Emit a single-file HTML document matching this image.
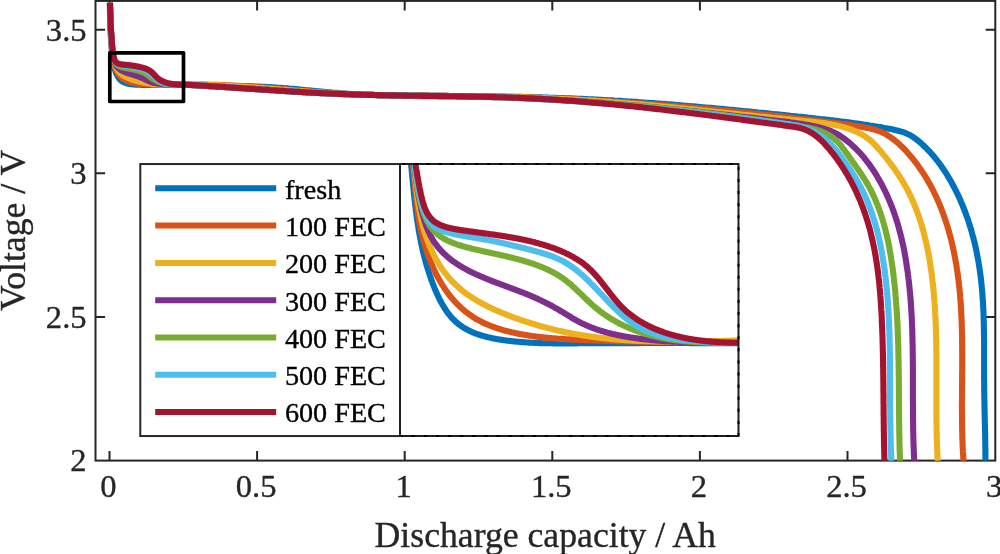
<!DOCTYPE html>
<html lang="en"><head><meta charset="utf-8"><title>Discharge curves</title>
<style>html,body{margin:0;padding:0;background:#fff;overflow:hidden}svg{display:block}</style>
</head><body>
<svg width="1000" height="554" viewBox="0 0 1000 554">
<defs><clipPath id="cm"><rect x="95.5" y="0" width="899.8" height="460.7"/></clipPath>
<clipPath id="ci"><rect x="400.0" y="164.1" width="338.5" height="272.0"/></clipPath></defs>
<rect width="1000" height="554" fill="#fff"/>
<g stroke="#262626" stroke-width="2" fill="none">
<rect x="95.5" y="0.9" width="899.8" height="459.7"/>
<path d="M109.5 460.6v-9.6M109.5 0.9v9.6"/>
<path d="M257.1 460.6v-9.6M257.1 0.9v9.6"/>
<path d="M404.7 460.6v-9.6M404.7 0.9v9.6"/>
<path d="M552.3 460.6v-9.6M552.3 0.9v9.6"/>
<path d="M699.9 460.6v-9.6M699.9 0.9v9.6"/>
<path d="M847.5 460.6v-9.6M847.5 0.9v9.6"/>
<path d="M95.5 316.9h9.6M995.3 316.9h-9.6"/>
<path d="M95.5 173.3h9.6M995.3 173.3h-9.6"/>
<path d="M95.5 29.7h9.6M995.3 29.7h-9.6"/>
</g>
<g clip-path="url(#cm)" fill="none" stroke-width="6.10" stroke-linejoin="round" stroke-linecap="butt">
<path d="M109.8 2.8 L110.2 25.0 L111.2 43.0 L111.9 52.8 L112.0 52.9 L112.0 53.1 L112.0 53.3 L112.0 53.4 L112.0 53.6 L112.0 53.8 L112.1 53.9 L112.1 54.1 L112.1 54.2 L112.1 54.4 L112.1 54.6 L112.2 54.7 L112.2 54.9 L112.2 55.1 L112.2 55.2 L112.2 55.4 L112.2 55.5 L112.3 55.7 L112.3 55.9 L112.3 56.0 L112.3 56.2 L112.3 56.3 L112.4 56.5 L112.4 56.7 L112.4 56.8 L112.4 57.0 L112.4 57.2 L112.5 57.3 L112.5 57.5 L112.5 57.6 L112.5 57.8 L112.5 58.0 L112.6 58.1 L112.6 58.3 L112.6 58.5 L112.6 58.6 L112.6 58.8 L112.7 58.9 L112.7 59.1 L112.7 59.3 L112.7 59.4 L112.8 59.6 L112.8 59.7 L112.8 59.9 L112.8 60.1 L112.8 60.2 L112.9 60.4 L112.9 60.6 L112.9 60.7 L112.9 60.9 L113.0 61.0 L113.0 61.2 L113.0 61.4 L113.0 61.5 L113.1 61.7 L113.1 61.8 L113.1 62.0 L113.2 62.2 L113.2 62.3 L113.2 62.5 L113.2 62.6 L113.3 62.8 L113.3 63.0 L113.3 63.1 L113.3 63.3 L113.4 63.4 L113.4 63.6 L113.4 63.8 L113.5 63.9 L113.5 64.1 L113.5 64.2 L113.6 64.4 L113.6 64.6 L113.6 64.7 L113.7 64.9 L113.7 65.0 L113.7 65.2 L113.8 65.4 L113.8 65.5 L113.8 65.7 L113.9 65.8 L113.9 66.0 L113.9 66.1 L114.0 66.3 L114.0 66.5 L114.1 66.6 L114.1 66.8 L114.1 66.9 L114.2 67.1 L114.2 67.3 L114.3 67.4 L114.3 67.6 L114.3 67.7 L114.4 67.9 L114.4 68.0 L114.5 68.2 L114.5 68.4 L114.6 68.5 L114.6 68.7 L114.7 68.8 L114.7 69.0 L114.8 69.1 L114.8 69.3 L114.8 69.5 L114.9 69.6 L114.9 69.8 L115.0 69.9 L115.1 70.1 L115.1 70.2 L115.2 70.4 L115.2 70.6 L115.3 70.7 L115.3 70.9 L115.4 71.0 L115.4 71.2 L115.5 71.3 L115.5 71.5 L115.6 71.7 L115.7 71.8 L115.7 72.0 L115.8 72.1 L115.8 72.3 L115.9 72.4 L116.0 72.6 L116.0 72.7 L116.1 72.9 L116.2 73.1 L116.2 73.2 L116.3 73.4 L116.4 73.5 L116.4 73.7 L116.5 73.8 L116.6 74.0 L116.7 74.1 L116.7 74.3 L116.8 74.5 L116.9 74.6 L117.0 74.8 L117.0 74.9 L117.1 75.1 L117.2 75.2 L117.3 75.4 L117.3 75.5 L117.4 75.7 L117.5 75.9 L117.6 76.0 L117.7 76.2 L117.8 76.3 L117.8 76.5 L117.9 76.6 L118.0 76.8 L118.1 76.9 L118.2 77.1 L118.3 77.2 L118.4 77.4 L118.5 77.5 L118.6 77.7 L118.7 77.8 L118.8 77.9 L118.9 78.1 L119.0 78.2 L119.1 78.4 L119.2 78.5 L119.3 78.6 L119.4 78.8 L119.5 78.9 L119.6 79.1 L119.8 79.2 L119.9 79.3 L120.0 79.5 L120.1 79.6 L120.2 79.7 L120.3 79.8 L120.5 80.0 L120.6 80.1 L120.7 80.2 L120.8 80.3 L121.0 80.4 L121.1 80.5 L121.2 80.7 L121.4 80.8 L121.5 80.9 L121.7 81.0 L121.8 81.1 L121.9 81.2 L122.1 81.3 L122.2 81.4 L122.4 81.5 L122.5 81.6 L122.7 81.7 L122.8 81.7 L123.0 81.8 L123.2 81.9 L123.3 82.0 L123.5 82.1 L123.6 82.2 L123.8 82.2 L124.0 82.3 L124.1 82.4 L124.3 82.5 L124.5 82.5 L124.6 82.6 L124.8 82.7 L125.0 82.7 L125.2 82.8 L125.3 82.9 L125.5 82.9 L125.7 83.0 L125.9 83.0 L126.1 83.1 L126.2 83.2 L126.4 83.2 L126.6 83.3 L126.8 83.3 L127.0 83.4 L127.2 83.4 L127.3 83.5 L127.5 83.5 L127.7 83.6 L127.9 83.6 L128.1 83.6 L128.3 83.7 L128.5 83.7 L128.7 83.8 L128.9 83.8 L129.1 83.8 L129.3 83.9 L129.5 83.9 L129.6 83.9 L129.8 84.0 L130.0 84.0 L130.2 84.0 L130.4 84.1 L130.6 84.1 L130.8 84.1 L131.0 84.2 L131.2 84.2 L131.4 84.2 L131.6 84.2 L131.8 84.3 L132.0 84.3 L132.2 84.3 L132.4 84.3 L132.6 84.3 L132.8 84.4 L133.0 84.4 L133.2 84.4 L133.4 84.4 L133.6 84.4 L133.8 84.5 L134.0 84.5 L134.2 84.5 L134.4 84.5 L134.6 84.5 L134.8 84.5 L135.0 84.6 L135.2 84.6 L135.4 84.6 L135.6 84.6 L135.8 84.6 L136.0 84.6 L136.2 84.6 L136.4 84.7 L136.6 84.7 L136.8 84.7 L137.0 84.7 L137.2 84.7 L137.4 84.7 L137.6 84.7 L137.8 84.7 L138.0 84.7 L138.2 84.7 L138.4 84.8 L138.6 84.8 L138.8 84.8 L139.0 84.8 L139.2 84.8 L139.4 84.8 L139.6 84.8 L139.8 84.8 L140.0 84.8 L140.2 84.8 L140.4 84.8 L140.6 84.8 L140.7 84.8 L140.9 84.8 L141.1 84.8 L141.3 84.8 L141.5 84.8 L141.7 84.8 L141.9 84.9 L142.1 84.9 L142.3 84.9 L142.5 84.9 L142.7 84.9 L142.9 84.9 L143.1 84.9 L143.3 84.9 L143.5 84.9 L143.7 84.9 L143.9 84.9 L144.1 84.9 L144.3 84.9 L144.5 84.9 L144.7 84.9 L144.9 84.9 L145.1 84.9 L145.3 84.9 L145.5 84.9 L145.7 84.9 L145.9 84.9 L146.1 84.9 L146.3 84.9 L146.5 84.9 L146.7 84.9 L146.9 84.9 L147.1 84.9 L147.3 84.9 L147.5 84.9 L147.7 84.9 L147.8 84.9 L148.0 84.9 L148.2 84.9 L148.4 84.9 L148.6 84.9 L148.8 84.9 L149.0 84.9 L149.2 84.9 L149.4 84.9 L149.6 84.9 L149.8 84.9 L150.0 84.8 L150.2 84.8 L150.4 84.8 L150.6 84.8 L150.8 84.8 L151.0 84.8 L151.2 84.8 L151.4 84.8 L151.6 84.8 L151.8 84.8 L152.0 84.8 L152.2 84.8 L152.4 84.8 L152.6 84.8 L152.8 84.8 L153.0 84.8 L153.2 84.8 L153.4 84.8 L153.6 84.8 L153.8 84.8 L154.0 84.8 L154.2 84.8 L154.4 84.8 L154.6 84.8 L154.7 84.8 L154.9 84.8 L155.1 84.8 L155.3 84.8 L155.5 84.8 L155.7 84.8 L155.9 84.8 L156.1 84.8 L156.3 84.8 L156.5 84.8 L156.7 84.8 L156.9 84.8 L157.1 84.8 L157.3 84.8 L157.5 84.8 L157.7 84.8 L157.9 84.8 L158.1 84.8 L158.3 84.8 L158.5 84.8 L158.7 84.8 L158.9 84.8 L159.1 84.8 L159.3 84.8 L159.5 84.8 L159.7 84.8 L159.9 84.8 L160.1 84.8 L160.3 84.8 L160.5 84.8 L160.7 84.8 L160.9 84.8 L161.1 84.8 L161.3 84.8 L161.5 84.8 L161.7 84.8 L161.9 84.8 L162.1 84.8 L162.2 84.8 L162.4 84.8 L162.6 84.8 L162.8 84.8 L163.0 84.8 L163.2 84.8 L163.4 84.8 L163.6 84.8 L163.8 84.8 L164.0 84.8 L164.2 84.8 L164.4 84.8 L164.6 84.8 L164.8 84.8 L165.0 84.8 L165.2 84.8 L165.4 84.8 L165.6 84.8 L165.8 84.8 L166.0 84.8 L166.2 84.8 L166.4 84.8 L166.6 84.8 L166.8 84.8 L167.0 84.8 L167.2 84.8 L167.4 84.8 L167.6 84.8 L167.8 84.8 L168.0 84.8 L168.2 84.8 L168.4 84.8 L168.6 84.8 L168.8 84.8 L169.0 84.8 L169.2 84.8 L169.4 84.8 L169.6 84.8 L169.8 84.8 L170.0 84.8 L170.1 84.8 L170.3 84.8 L170.5 84.8 L170.7 84.8 L170.9 84.8 L171.1 84.8 L171.3 84.8 L171.5 84.8 L171.7 84.8 L171.9 84.8 L172.1 84.8 L172.3 84.8 L172.5 84.8 L172.7 84.8 L172.9 84.8 L173.1 84.8 L173.3 84.8 L173.5 84.8 L173.7 84.8 L173.9 84.8 L174.1 84.8 L174.3 84.8 L174.5 84.8 L174.7 84.8 L174.9 84.8 L175.1 84.8 L175.3 84.8 L175.5 84.8 L175.7 84.8 L175.9 84.8 L176.1 84.8 L176.3 84.8 L176.5 84.8 L176.7 84.8 L176.9 84.8 L177.1 84.8 L177.3 84.8 L177.5 84.8 L177.7 84.8 L177.9 84.8 L178.0 84.8 L178.2 84.8 L178.4 84.8 L178.6 84.8 L178.8 84.8 L179.0 84.8 L179.2 84.8 L179.4 84.8 L179.6 84.8 L179.8 84.8 L180.0 84.8 L180.2 84.8 L180.4 84.8 L180.6 84.8 L180.8 84.8 L181.0 84.8 L181.2 84.8 L181.4 84.8 L181.6 84.8 L181.8 84.8 L182.0 84.8 L182.2 84.8 L182.4 84.9 L182.6 84.9 L182.8 84.9 L183.0 84.9 L183.2 84.9 L183.4 84.9 L183.6 84.9 L183.8 84.9 L184.0 84.9 L184.2 84.9 L184.4 84.9 L184.6 84.9 L184.8 84.9 L185.0 84.9 L185.2 84.9 L185.4 84.9 L186.0 84.6 L188.2 84.8 L190.3 84.9 L192.5 85.0 L194.6 85.1 L196.8 85.2 L198.9 85.3 L201.1 85.4 L203.2 85.5 L205.4 85.5 L207.5 85.6 L209.7 85.7 L211.8 85.7 L214.0 85.8 L216.2 85.8 L218.3 85.8 L220.5 85.9 L222.6 85.9 L224.8 85.9 L226.9 86.0 L229.1 86.0 L231.2 86.0 L233.4 86.0 L235.6 86.1 L237.7 86.1 L239.9 86.1 L242.0 86.2 L244.2 86.2 L246.3 86.2 L248.5 86.3 L250.6 86.3 L252.8 86.4 L254.9 86.5 L257.1 86.5 L259.2 86.6 L261.4 86.7 L263.5 86.8 L265.7 86.9 L267.8 87.0 L270.0 87.1 L272.1 87.2 L274.3 87.4 L276.4 87.5 L278.6 87.7 L280.7 87.8 L282.9 88.0 L285.0 88.2 L287.2 88.4 L289.3 88.6 L291.5 88.7 L293.6 88.9 L295.8 89.1 L297.9 89.3 L300.0 89.5 L302.2 89.7 L304.3 89.9 L306.5 90.2 L308.6 90.4 L310.8 90.6 L312.9 90.8 L315.1 91.0 L317.2 91.2 L319.4 91.4 L321.5 91.6 L323.6 91.8 L325.8 92.0 L327.9 92.2 L330.1 92.4 L332.2 92.6 L334.4 92.7 L336.5 92.9 L338.7 93.1 L340.8 93.2 L343.0 93.4 L345.1 93.5 L347.3 93.7 L349.4 93.8 L351.6 94.0 L353.7 94.1 L355.9 94.2 L358.0 94.3 L360.2 94.4 L362.3 94.6 L364.5 94.7 L366.6 94.8 L368.8 94.9 L370.9 94.9 L373.1 95.0 L375.2 95.1 L377.4 95.2 L379.5 95.3 L381.7 95.3 L383.8 95.4 L386.0 95.5 L388.1 95.5 L390.3 95.6 L392.4 95.6 L394.6 95.7 L396.7 95.7 L398.9 95.8 L401.1 95.8 L403.2 95.9 L405.4 95.9 L407.5 95.9 L409.7 96.0 L411.8 96.0 L414.0 96.0 L416.1 96.1 L418.3 96.1 L420.5 96.1 L422.6 96.1 L424.8 96.1 L426.9 96.2 L429.1 96.2 L431.2 96.2 L433.4 96.2 L435.5 96.2 L437.7 96.2 L439.9 96.2 L442.0 96.2 L444.2 96.3 L446.3 96.3 L448.5 96.3 L450.6 96.3 L452.8 96.3 L455.0 96.3 L457.1 96.3 L459.3 96.3 L461.4 96.3 L463.6 96.3 L465.7 96.3 L467.9 96.3 L470.1 96.3 L472.2 96.4 L474.4 96.4 L476.5 96.4 L478.7 96.4 L480.8 96.4 L483.0 96.4 L485.1 96.4 L487.3 96.4 L489.5 96.5 L491.6 96.5 L493.8 96.5 L495.9 96.5 L498.1 96.6 L500.2 96.6 L502.4 96.6 L504.6 96.6 L506.7 96.7 L508.9 96.7 L511.0 96.7 L513.2 96.8 L515.3 96.8 L517.5 96.9 L519.6 96.9 L521.8 96.9 L524.0 97.0 L526.1 97.0 L528.3 97.1 L530.4 97.1 L532.6 97.2 L534.7 97.2 L536.9 97.3 L539.0 97.4 L541.2 97.4 L543.3 97.5 L545.5 97.5 L547.7 97.6 L549.8 97.7 L552.0 97.7 L554.1 97.8 L556.3 97.9 L558.4 98.0 L560.6 98.0 L562.7 98.1 L564.9 98.2 L567.0 98.3 L569.2 98.4 L571.3 98.4 L573.5 98.5 L575.6 98.6 L577.8 98.7 L580.0 98.8 L582.1 98.9 L584.3 99.0 L586.4 99.1 L588.6 99.2 L590.7 99.3 L592.9 99.4 L595.0 99.5 L597.2 99.6 L599.3 99.7 L601.5 99.8 L603.6 100.0 L605.8 100.1 L607.9 100.2 L610.1 100.3 L612.2 100.4 L614.4 100.6 L616.5 100.7 L618.7 100.8 L620.8 100.9 L623.0 101.1 L625.1 101.2 L627.3 101.4 L629.4 101.5 L631.6 101.6 L633.7 101.8 L635.9 101.9 L638.0 102.1 L640.2 102.2 L642.3 102.4 L644.5 102.5 L646.6 102.7 L648.8 102.8 L650.9 103.0 L653.0 103.1 L655.2 103.3 L657.3 103.5 L659.5 103.6 L661.6 103.8 L663.8 103.9 L665.9 104.1 L668.1 104.3 L670.2 104.4 L672.4 104.6 L674.5 104.8 L676.7 105.0 L678.8 105.1 L681.0 105.3 L683.1 105.5 L685.3 105.7 L687.4 105.9 L689.5 106.0 L691.7 106.2 L693.8 106.4 L696.0 106.6 L698.1 106.8 L700.3 107.0 L702.4 107.2 L704.6 107.4 L706.7 107.5 L708.9 107.7 L711.0 107.9 L713.2 108.1 L715.3 108.3 L717.4 108.5 L719.6 108.7 L721.7 108.9 L723.9 109.1 L726.0 109.3 L728.2 109.5 L730.3 109.7 L732.5 109.9 L734.6 110.1 L736.8 110.4 L738.9 110.6 L741.0 110.8 L743.2 111.0 L745.3 111.2 L747.5 111.4 L749.6 111.6 L751.8 111.8 L753.9 112.0 L756.1 112.2 L758.2 112.5 L760.4 112.7 L762.5 112.9 L764.6 113.1 L766.8 113.3 L768.9 113.5 L771.1 113.8 L773.2 114.0 L775.4 114.2 L777.5 114.4 L779.7 114.6 L781.8 114.9 L784.0 115.1 L786.1 115.3 L788.2 115.5 L790.4 115.8 L792.5 116.0 L794.7 116.2 L796.8 116.4 L799.0 116.7 L801.1 116.9 L803.3 117.1 L805.4 117.3 L807.6 117.6 L809.7 117.8 L811.9 118.0 L814.0 118.2 L816.1 118.5 L818.3 118.7 L820.4 119.0 L822.6 119.2 L824.7 119.4 L826.9 119.7 L829.0 119.9 L831.2 120.2 L833.3 120.4 L835.4 120.7 L837.6 120.9 L839.7 121.2 L841.9 121.5 L844.0 121.7 L846.1 122.0 L848.3 122.3 L850.4 122.6 L852.5 122.9 L854.7 123.2 L856.8 123.5 L858.9 123.8 L861.1 124.1 L863.2 124.4 L865.3 124.7 L867.5 125.0 L869.6 125.4 L871.7 125.7 L873.8 126.1 L876.0 126.4 L878.1 126.8 L880.2 127.1 L882.3 127.5 L884.4 127.9 L886.5 128.3 L888.7 128.7 L890.8 129.1 L892.9 129.5 L895.0 130.0 L897.1 130.5 L899.1 131.0 L901.2 131.6 L903.2 132.2 L905.2 132.9 L907.1 133.8 L909.1 134.7 L910.9 135.7 L912.8 136.8 L914.5 138.0 L916.3 139.3 L918.0 140.7 L919.7 142.1 L921.3 143.6 L923.0 145.0 L924.5 146.5 L926.1 148.0 L927.6 149.6 L929.1 151.1 L930.6 152.7 L932.0 154.3 L933.5 156.0 L934.8 157.6 L936.2 159.3 L937.5 161.0 L938.8 162.7 L940.1 164.5 L941.4 166.2 L942.6 168.0 L943.8 169.8 L945.0 171.6 L946.2 173.4 L947.3 175.2 L948.4 177.1 L949.5 178.9 L950.6 180.8 L951.7 182.7 L952.7 184.6 L953.7 186.5 L954.7 188.4 L955.7 190.3 L956.6 192.2 L957.6 194.2 L958.5 196.1 L959.4 198.1 L960.3 200.0 L961.1 202.0 L962.0 204.0 L962.8 206.0 L963.6 208.0 L964.4 210.0 L965.2 212.0 L965.9 214.0 L966.6 216.0 L967.4 218.1 L968.1 220.1 L968.7 222.1 L969.4 224.2 L970.0 226.3 L970.7 228.3 L971.3 230.4 L971.9 232.5 L972.4 234.5 L973.0 236.6 L973.5 238.7 L974.1 240.8 L974.6 242.9 L975.1 245.0 L975.6 247.1 L976.0 249.2 L976.5 251.3 L976.9 253.4 L977.3 255.6 L977.7 257.7 L978.1 259.8 L978.5 261.9 L978.8 264.0 L979.2 266.2 L979.5 268.3 L979.8 270.4 L980.1 272.6 L980.4 274.7 L980.7 276.8 L980.9 279.0 L981.2 281.1 L981.4 283.3 L981.6 285.4 L981.8 287.5 L982.0 289.7 L982.2 291.8 L982.4 294.0 L982.5 296.1 L982.7 298.3 L982.8 300.4 L983.0 302.5 L983.1 304.7 L983.2 306.8 L983.3 309.0 L983.4 311.1 L983.5 313.3 L983.6 315.4 L983.6 317.6 L983.7 319.7 L983.8 321.9 L983.8 324.1 L983.9 326.2 L983.9 328.4 L983.9 330.5 L984.0 332.7 L984.0 334.8 L984.0 337.0 L984.1 339.1 L984.1 341.3 L984.1 343.5 L984.1 345.6 L984.1 347.8 L984.1 349.9 L984.1 352.1 L984.1 354.2 L984.1 356.4 L984.1 358.6 L984.1 360.7 L984.1 362.9 L984.1 365.0 L984.1 367.2 L984.1 369.3 L984.1 371.5 L984.1 373.7 L984.1 375.8 L984.1 378.0 L984.1 380.1 L984.2 382.3 L984.2 384.4 L984.2 386.6 L984.2 388.8 L984.2 390.9 L984.3 393.1 L984.3 395.2 L984.3 397.4 L984.4 399.5 L984.4 401.7 L984.5 403.8 L984.5 406.0 L984.5 408.1 L984.6 410.3 L984.6 412.4 L984.7 414.6 L984.7 416.8 L984.8 418.9 L984.8 421.1 L984.9 423.2 L984.9 425.4 L985.0 427.5 L985.0 429.7 L985.1 431.8 L985.1 434.0 L985.2 436.1 L985.2 438.3 L985.2 440.4 L985.3 442.6 L985.3 444.7 L985.3 446.9 L985.4 449.1 L985.4 451.2 L985.4 453.4 L985.4 455.5 L985.4 457.7 L985.4 459.8 L985.5 462.0" stroke="#0072BD"/>
<path d="M109.9 2.8 L110.4 25.0 L111.5 43.0 L112.4 52.8 L112.4 53.0 L112.4 53.1 L112.4 53.3 L112.4 53.4 L112.4 53.6 L112.5 53.8 L112.5 53.9 L112.5 54.1 L112.5 54.2 L112.5 54.4 L112.5 54.5 L112.6 54.7 L112.6 54.9 L112.6 55.0 L112.6 55.2 L112.6 55.3 L112.6 55.5 L112.7 55.6 L112.7 55.8 L112.7 56.0 L112.7 56.1 L112.7 56.3 L112.7 56.4 L112.8 56.6 L112.8 56.7 L112.8 56.9 L112.8 57.0 L112.8 57.2 L112.8 57.4 L112.9 57.5 L112.9 57.7 L112.9 57.8 L112.9 58.0 L112.9 58.1 L113.0 58.3 L113.0 58.4 L113.0 58.6 L113.0 58.8 L113.0 58.9 L113.0 59.1 L113.1 59.2 L113.1 59.4 L113.1 59.5 L113.1 59.7 L113.2 59.8 L113.2 60.0 L113.2 60.2 L113.2 60.3 L113.2 60.5 L113.3 60.6 L113.3 60.8 L113.3 60.9 L113.3 61.1 L113.4 61.2 L113.4 61.4 L113.4 61.6 L113.5 61.7 L113.5 61.9 L113.5 62.0 L113.5 62.2 L113.6 62.3 L113.6 62.5 L113.6 62.6 L113.7 62.8 L113.7 63.0 L113.7 63.1 L113.8 63.3 L113.8 63.4 L113.8 63.6 L113.9 63.7 L113.9 63.9 L114.0 64.0 L114.0 64.2 L114.0 64.4 L114.1 64.5 L114.1 64.7 L114.2 64.8 L114.2 65.0 L114.2 65.1 L114.3 65.3 L114.3 65.4 L114.4 65.6 L114.4 65.8 L114.5 65.9 L114.5 66.1 L114.6 66.2 L114.6 66.4 L114.7 66.5 L114.7 66.7 L114.8 66.8 L114.8 67.0 L114.9 67.2 L114.9 67.3 L115.0 67.5 L115.1 67.6 L115.1 67.8 L115.2 67.9 L115.2 68.1 L115.3 68.2 L115.4 68.4 L115.4 68.5 L115.5 68.7 L115.5 68.8 L115.6 69.0 L115.7 69.2 L115.7 69.3 L115.8 69.5 L115.9 69.6 L116.0 69.8 L116.0 69.9 L116.1 70.1 L116.2 70.2 L116.2 70.4 L116.3 70.5 L116.4 70.7 L116.5 70.8 L116.6 71.0 L116.6 71.1 L116.7 71.2 L116.8 71.4 L116.9 71.5 L117.0 71.7 L117.0 71.8 L117.1 72.0 L117.2 72.1 L117.3 72.3 L117.4 72.4 L117.5 72.6 L117.6 72.7 L117.6 72.8 L117.7 73.0 L117.8 73.1 L117.9 73.3 L118.0 73.4 L118.1 73.5 L118.2 73.7 L118.3 73.8 L118.4 73.9 L118.5 74.1 L118.6 74.2 L118.7 74.4 L118.8 74.5 L118.9 74.6 L119.0 74.8 L119.1 74.9 L119.2 75.0 L119.3 75.1 L119.4 75.3 L119.6 75.4 L119.7 75.5 L119.8 75.7 L119.9 75.8 L120.0 75.9 L120.1 76.0 L120.2 76.2 L120.4 76.3 L120.5 76.4 L120.6 76.5 L120.7 76.6 L120.8 76.8 L121.0 76.9 L121.1 77.0 L121.2 77.1 L121.3 77.2 L121.5 77.4 L121.6 77.5 L121.7 77.6 L121.8 77.7 L122.0 77.8 L122.1 77.9 L122.2 78.0 L122.4 78.1 L122.5 78.2 L122.6 78.3 L122.8 78.4 L122.9 78.6 L123.1 78.7 L123.2 78.8 L123.3 78.9 L123.5 79.0 L123.6 79.1 L123.8 79.1 L123.9 79.2 L124.1 79.3 L124.2 79.4 L124.4 79.5 L124.5 79.6 L124.7 79.7 L124.8 79.8 L125.0 79.9 L125.1 80.0 L125.3 80.1 L125.4 80.1 L125.6 80.2 L125.8 80.3 L125.9 80.4 L126.1 80.5 L126.2 80.5 L126.4 80.6 L126.6 80.7 L126.7 80.8 L126.9 80.8 L127.1 80.9 L127.2 81.0 L127.4 81.1 L127.6 81.1 L127.8 81.2 L127.9 81.3 L128.1 81.3 L128.3 81.4 L128.5 81.4 L128.6 81.5 L128.8 81.6 L129.0 81.6 L129.2 81.7 L129.3 81.7 L129.5 81.8 L129.7 81.9 L129.9 81.9 L130.1 82.0 L130.2 82.0 L130.4 82.1 L130.6 82.1 L130.8 82.2 L131.0 82.2 L131.2 82.3 L131.3 82.3 L131.5 82.4 L131.7 82.4 L131.9 82.5 L132.1 82.5 L132.3 82.5 L132.5 82.6 L132.7 82.6 L132.8 82.7 L133.0 82.7 L133.2 82.7 L133.4 82.8 L133.6 82.8 L133.8 82.9 L134.0 82.9 L134.2 82.9 L134.4 83.0 L134.6 83.0 L134.8 83.0 L134.9 83.1 L135.1 83.1 L135.3 83.1 L135.5 83.2 L135.7 83.2 L135.9 83.2 L136.1 83.2 L136.3 83.3 L136.5 83.3 L136.7 83.3 L136.9 83.4 L137.1 83.4 L137.3 83.4 L137.4 83.4 L137.6 83.5 L137.8 83.5 L138.0 83.5 L138.2 83.5 L138.4 83.6 L138.6 83.6 L138.8 83.6 L139.0 83.6 L139.2 83.6 L139.4 83.7 L139.6 83.7 L139.8 83.7 L139.9 83.7 L140.1 83.7 L140.3 83.8 L140.5 83.8 L140.7 83.8 L140.9 83.8 L141.1 83.8 L141.3 83.8 L141.5 83.9 L141.7 83.9 L141.9 83.9 L142.1 83.9 L142.2 83.9 L142.4 83.9 L142.6 83.9 L142.8 83.9 L143.0 84.0 L143.2 84.0 L143.4 84.0 L143.6 84.0 L143.8 84.0 L144.0 84.0 L144.2 84.0 L144.4 84.0 L144.5 84.1 L144.7 84.1 L144.9 84.1 L145.1 84.1 L145.3 84.1 L145.5 84.1 L145.7 84.1 L145.9 84.1 L146.1 84.1 L146.3 84.1 L146.5 84.1 L146.6 84.2 L146.8 84.2 L147.0 84.2 L147.2 84.2 L147.4 84.2 L147.6 84.2 L147.8 84.2 L148.0 84.2 L148.2 84.2 L148.4 84.2 L148.6 84.2 L148.8 84.2 L148.9 84.2 L149.1 84.3 L149.3 84.3 L149.5 84.3 L149.7 84.3 L149.9 84.3 L150.1 84.3 L150.3 84.3 L150.5 84.3 L150.7 84.3 L150.9 84.3 L151.1 84.3 L151.2 84.3 L151.4 84.3 L151.6 84.3 L151.8 84.3 L152.0 84.3 L152.2 84.4 L152.4 84.4 L152.6 84.4 L152.8 84.4 L153.0 84.4 L153.2 84.4 L153.4 84.4 L153.5 84.4 L153.7 84.4 L153.9 84.4 L154.1 84.4 L154.3 84.4 L154.5 84.4 L154.7 84.4 L154.9 84.4 L155.1 84.4 L155.3 84.4 L155.5 84.4 L155.7 84.4 L155.8 84.4 L156.0 84.4 L156.2 84.5 L156.4 84.5 L156.6 84.5 L156.8 84.5 L157.0 84.5 L157.2 84.5 L157.4 84.5 L157.6 84.5 L157.8 84.5 L158.0 84.5 L158.2 84.5 L158.3 84.5 L158.5 84.5 L158.7 84.5 L158.9 84.5 L159.1 84.5 L159.3 84.5 L159.5 84.5 L159.7 84.5 L159.9 84.5 L160.1 84.5 L160.3 84.5 L160.5 84.5 L160.6 84.5 L160.8 84.5 L161.0 84.5 L161.2 84.5 L161.4 84.5 L161.6 84.5 L161.8 84.5 L162.0 84.5 L162.2 84.5 L162.4 84.5 L162.6 84.6 L162.8 84.6 L163.0 84.6 L163.1 84.6 L163.3 84.6 L163.5 84.6 L163.7 84.6 L163.9 84.6 L164.1 84.6 L164.3 84.6 L164.5 84.6 L164.7 84.6 L164.9 84.6 L165.1 84.6 L165.3 84.6 L165.5 84.6 L165.6 84.6 L165.8 84.6 L166.0 84.6 L166.2 84.6 L166.4 84.6 L166.6 84.6 L166.8 84.6 L167.0 84.6 L167.2 84.6 L167.4 84.6 L167.6 84.6 L167.8 84.6 L168.0 84.6 L168.2 84.6 L168.3 84.6 L168.5 84.6 L168.7 84.6 L168.9 84.6 L169.1 84.6 L169.3 84.6 L169.5 84.6 L169.7 84.6 L169.9 84.6 L170.1 84.6 L170.3 84.6 L170.5 84.6 L170.7 84.6 L170.8 84.6 L171.0 84.6 L171.2 84.6 L171.4 84.6 L171.6 84.6 L171.8 84.6 L172.0 84.6 L172.2 84.6 L172.4 84.6 L172.6 84.6 L172.8 84.6 L173.0 84.6 L173.2 84.6 L173.3 84.6 L173.5 84.6 L173.7 84.6 L173.9 84.6 L174.1 84.5 L174.3 84.5 L174.5 84.5 L174.7 84.5 L174.9 84.5 L175.1 84.5 L175.3 84.5 L175.5 84.5 L175.7 84.5 L175.8 84.5 L176.0 84.5 L176.2 84.5 L176.4 84.5 L176.6 84.5 L176.8 84.5 L177.0 84.5 L177.2 84.5 L177.4 84.5 L177.6 84.5 L177.8 84.5 L178.0 84.5 L178.2 84.5 L178.3 84.5 L178.5 84.5 L178.7 84.5 L178.9 84.5 L179.1 84.5 L179.3 84.5 L179.5 84.5 L179.7 84.5 L179.9 84.5 L180.1 84.5 L180.3 84.5 L180.5 84.5 L180.6 84.5 L180.8 84.5 L181.0 84.4 L181.2 84.4 L181.4 84.4 L181.6 84.4 L181.8 84.4 L182.0 84.4 L182.2 84.4 L182.4 84.4 L182.6 84.4 L182.8 84.4 L183.0 84.4 L183.1 84.4 L183.3 84.4 L183.5 84.4 L183.7 84.4 L183.9 84.4 L184.1 84.4 L184.3 84.4 L184.5 84.4 L184.7 84.4 L184.9 84.4 L185.1 84.4 L185.3 84.4 L185.4 84.3 L186.0 84.8 L188.1 84.7 L190.2 84.7 L192.3 84.6 L194.4 84.6 L196.5 84.6 L198.7 84.6 L200.8 84.6 L202.9 84.6 L205.0 84.6 L207.1 84.6 L209.2 84.7 L211.3 84.7 L213.4 84.8 L215.6 84.8 L217.7 84.9 L219.8 85.0 L221.9 85.0 L224.0 85.1 L226.1 85.2 L228.2 85.3 L230.3 85.4 L232.4 85.5 L234.5 85.6 L236.6 85.7 L238.7 85.8 L240.9 86.0 L243.0 86.1 L245.1 86.2 L247.2 86.4 L249.3 86.5 L251.4 86.7 L253.5 86.8 L255.6 87.0 L257.7 87.1 L259.8 87.3 L261.9 87.4 L264.0 87.6 L266.1 87.8 L268.2 87.9 L270.3 88.1 L272.4 88.3 L274.5 88.5 L276.6 88.6 L278.7 88.8 L280.8 89.0 L282.9 89.2 L285.0 89.3 L287.1 89.5 L289.2 89.7 L291.4 89.9 L293.5 90.1 L295.6 90.2 L297.7 90.4 L299.8 90.6 L301.9 90.8 L304.0 90.9 L306.1 91.1 L308.2 91.3 L310.3 91.5 L312.4 91.6 L314.5 91.8 L316.6 92.0 L318.7 92.1 L320.8 92.3 L322.9 92.4 L325.0 92.6 L327.1 92.7 L329.2 92.9 L331.3 93.0 L333.4 93.1 L335.5 93.3 L337.6 93.4 L339.7 93.5 L341.9 93.6 L344.0 93.8 L346.1 93.9 L348.2 94.0 L350.3 94.1 L352.4 94.2 L354.5 94.3 L356.6 94.4 L358.7 94.4 L360.8 94.5 L362.9 94.6 L365.0 94.7 L367.1 94.7 L369.2 94.8 L371.4 94.9 L373.5 94.9 L375.6 95.0 L377.7 95.1 L379.8 95.1 L381.9 95.2 L384.0 95.2 L386.1 95.3 L388.2 95.3 L390.3 95.4 L392.5 95.4 L394.6 95.4 L396.7 95.5 L398.8 95.5 L400.9 95.5 L403.0 95.6 L405.1 95.6 L407.2 95.6 L409.3 95.6 L411.5 95.7 L413.6 95.7 L415.7 95.7 L417.8 95.7 L419.9 95.7 L422.0 95.8 L424.1 95.8 L426.2 95.8 L428.3 95.8 L430.5 95.8 L432.6 95.8 L434.7 95.9 L436.8 95.9 L438.9 95.9 L441.0 95.9 L443.1 95.9 L445.2 95.9 L447.4 95.9 L449.5 96.0 L451.6 96.0 L453.7 96.0 L455.8 96.0 L457.9 96.0 L460.0 96.0 L462.1 96.1 L464.2 96.1 L466.4 96.1 L468.5 96.1 L470.6 96.1 L472.7 96.2 L474.8 96.2 L476.9 96.2 L479.0 96.2 L481.1 96.3 L483.2 96.3 L485.4 96.3 L487.5 96.4 L489.6 96.4 L491.7 96.4 L493.8 96.5 L495.9 96.5 L498.0 96.6 L500.1 96.6 L502.2 96.7 L504.3 96.7 L506.5 96.7 L508.6 96.8 L510.7 96.9 L512.8 96.9 L514.9 97.0 L517.0 97.0 L519.1 97.1 L521.2 97.2 L523.3 97.2 L525.4 97.3 L527.6 97.4 L529.7 97.4 L531.8 97.5 L533.9 97.6 L536.0 97.6 L538.1 97.7 L540.2 97.8 L542.3 97.9 L544.4 98.0 L546.5 98.1 L548.6 98.1 L550.7 98.2 L552.9 98.3 L555.0 98.4 L557.1 98.5 L559.2 98.6 L561.3 98.7 L563.4 98.8 L565.5 98.9 L567.6 99.0 L569.7 99.1 L571.8 99.2 L573.9 99.3 L576.0 99.4 L578.1 99.5 L580.2 99.6 L582.3 99.7 L584.5 99.9 L586.6 100.0 L588.7 100.1 L590.8 100.2 L592.9 100.3 L595.0 100.4 L597.1 100.6 L599.2 100.7 L601.3 100.8 L603.4 100.9 L605.5 101.1 L607.6 101.2 L609.7 101.3 L611.8 101.5 L613.9 101.6 L616.0 101.7 L618.1 101.9 L620.3 102.0 L622.4 102.2 L624.5 102.3 L626.6 102.4 L628.7 102.6 L630.8 102.7 L632.9 102.9 L635.0 103.0 L637.1 103.2 L639.2 103.3 L641.3 103.5 L643.4 103.6 L645.5 103.8 L647.6 104.0 L649.7 104.1 L651.8 104.3 L653.9 104.4 L656.0 104.6 L658.1 104.8 L660.2 104.9 L662.3 105.1 L664.4 105.3 L666.5 105.4 L668.6 105.6 L670.7 105.8 L672.9 106.0 L675.0 106.1 L677.1 106.3 L679.2 106.5 L681.3 106.7 L683.4 106.8 L685.5 107.0 L687.6 107.2 L689.7 107.4 L691.8 107.6 L693.9 107.8 L696.0 108.0 L698.1 108.1 L700.2 108.3 L702.3 108.5 L704.4 108.7 L706.5 108.9 L708.6 109.1 L710.7 109.3 L712.8 109.5 L714.9 109.7 L717.0 109.9 L719.1 110.1 L721.2 110.3 L723.3 110.5 L725.4 110.7 L727.5 110.9 L729.6 111.1 L731.7 111.3 L733.8 111.5 L735.9 111.7 L738.0 111.9 L740.1 112.2 L742.2 112.4 L744.3 112.6 L746.4 112.8 L748.5 113.0 L750.6 113.2 L752.7 113.4 L754.8 113.7 L756.9 113.9 L759.0 114.1 L761.1 114.3 L763.2 114.5 L765.3 114.8 L767.4 115.0 L769.5 115.2 L771.6 115.4 L773.7 115.7 L775.8 115.9 L777.9 116.1 L780.0 116.4 L782.1 116.6 L784.2 116.8 L786.3 117.1 L788.4 117.3 L790.5 117.5 L792.6 117.8 L794.7 118.0 L796.8 118.2 L798.9 118.5 L801.0 118.7 L803.1 119.0 L805.2 119.2 L807.3 119.4 L809.4 119.7 L811.5 119.9 L813.6 120.2 L815.7 120.4 L817.8 120.7 L819.9 120.9 L822.0 121.2 L824.1 121.5 L826.2 121.7 L828.3 122.0 L830.4 122.3 L832.5 122.5 L834.6 122.8 L836.7 123.1 L838.8 123.4 L840.8 123.7 L842.9 124.0 L845.0 124.3 L847.1 124.6 L849.2 124.9 L851.3 125.2 L853.4 125.5 L855.5 125.9 L857.6 126.2 L859.7 126.6 L861.8 126.9 L863.9 127.3 L865.9 127.7 L868.0 128.1 L870.1 128.5 L872.1 129.0 L874.1 129.5 L876.1 130.1 L878.1 130.8 L880.0 131.5 L881.9 132.3 L883.8 133.2 L885.6 134.2 L887.4 135.2 L889.2 136.3 L890.9 137.5 L892.6 138.7 L894.3 139.9 L895.9 141.3 L897.5 142.6 L899.1 144.0 L900.6 145.5 L902.2 147.0 L903.7 148.5 L905.2 150.0 L906.6 151.6 L908.0 153.2 L909.4 154.8 L910.8 156.4 L912.2 158.0 L913.5 159.7 L914.8 161.4 L916.1 163.0 L917.4 164.7 L918.6 166.4 L919.8 168.2 L921.0 169.9 L922.2 171.7 L923.3 173.4 L924.5 175.2 L925.6 177.0 L926.7 178.8 L927.7 180.6 L928.8 182.4 L929.8 184.2 L930.8 186.1 L931.8 187.9 L932.8 189.8 L933.7 191.7 L934.6 193.6 L935.6 195.5 L936.4 197.4 L937.3 199.3 L938.2 201.2 L939.0 203.1 L939.8 205.1 L940.6 207.0 L941.4 209.0 L942.1 210.9 L942.9 212.9 L943.6 214.9 L944.3 216.9 L945.0 218.9 L945.7 220.9 L946.3 222.9 L947.0 224.9 L947.6 226.9 L948.2 229.0 L948.8 231.0 L949.3 233.0 L949.9 235.1 L950.4 237.1 L951.0 239.2 L951.5 241.2 L952.0 243.3 L952.5 245.3 L952.9 247.4 L953.4 249.5 L953.8 251.5 L954.2 253.6 L954.6 255.7 L955.0 257.8 L955.4 259.9 L955.8 261.9 L956.2 264.0 L956.5 266.1 L956.8 268.2 L957.1 270.3 L957.5 272.4 L957.7 274.5 L958.0 276.6 L958.3 278.7 L958.6 280.8 L958.8 282.9 L959.0 284.9 L959.3 287.0 L959.5 289.1 L959.7 291.2 L959.9 293.3 L960.1 295.4 L960.2 297.5 L960.4 299.6 L960.6 301.7 L960.7 303.8 L960.9 305.9 L961.0 308.0 L961.1 310.1 L961.2 312.2 L961.3 314.3 L961.4 316.4 L961.5 318.5 L961.6 320.6 L961.7 322.7 L961.8 324.8 L961.8 326.9 L961.9 329.0 L961.9 331.1 L962.0 333.2 L962.0 335.4 L962.1 337.5 L962.1 339.6 L962.1 341.7 L962.1 343.8 L962.2 345.9 L962.2 348.0 L962.2 350.1 L962.2 352.2 L962.2 354.3 L962.2 356.4 L962.2 358.5 L962.2 360.6 L962.2 362.8 L962.2 364.9 L962.2 367.0 L962.2 369.1 L962.2 371.2 L962.1 373.3 L962.1 375.4 L962.1 377.5 L962.1 379.6 L962.1 381.7 L962.1 383.9 L962.0 386.0 L962.0 388.1 L962.0 390.2 L962.0 392.3 L962.0 394.4 L962.0 396.5 L962.0 398.6 L962.0 400.8 L961.9 402.9 L961.9 405.0 L961.9 407.1 L961.9 409.2 L962.0 411.3 L962.0 413.4 L962.0 415.5 L962.0 417.7 L962.0 419.8 L962.0 421.9 L962.1 424.0 L962.1 426.1 L962.1 428.2 L962.2 430.3 L962.2 432.4 L962.3 434.6 L962.3 436.7 L962.4 438.8 L962.5 440.9 L962.6 443.0 L962.6 445.1 L962.7 447.2 L962.8 449.3 L962.9 451.5 L963.1 453.6 L963.2 455.7 L963.3 457.8 L963.5 459.9 L963.6 462.0" stroke="#D95319"/>
<path d="M109.9 2.8 L110.5 25.0 L111.7 43.0 L112.5 52.7 L112.5 52.9 L112.6 53.0 L112.6 53.2 L112.6 53.3 L112.6 53.5 L112.6 53.6 L112.6 53.8 L112.7 54.0 L112.7 54.1 L112.7 54.3 L112.7 54.4 L112.7 54.6 L112.8 54.7 L112.8 54.9 L112.8 55.0 L112.8 55.2 L112.8 55.3 L112.9 55.5 L112.9 55.7 L112.9 55.8 L112.9 56.0 L112.9 56.1 L113.0 56.3 L113.0 56.4 L113.0 56.6 L113.0 56.7 L113.1 56.9 L113.1 57.1 L113.1 57.2 L113.1 57.4 L113.1 57.5 L113.2 57.7 L113.2 57.8 L113.2 58.0 L113.2 58.1 L113.3 58.3 L113.3 58.4 L113.3 58.6 L113.3 58.8 L113.4 58.9 L113.4 59.1 L113.4 59.2 L113.4 59.4 L113.5 59.5 L113.5 59.7 L113.5 59.8 L113.6 60.0 L113.6 60.1 L113.6 60.3 L113.6 60.5 L113.7 60.6 L113.7 60.8 L113.7 60.9 L113.8 61.1 L113.8 61.2 L113.8 61.4 L113.9 61.5 L113.9 61.7 L114.0 61.8 L114.0 62.0 L114.0 62.1 L114.1 62.3 L114.1 62.4 L114.2 62.6 L114.2 62.7 L114.2 62.9 L114.3 63.1 L114.3 63.2 L114.4 63.4 L114.4 63.5 L114.5 63.7 L114.5 63.8 L114.6 64.0 L114.6 64.1 L114.7 64.3 L114.7 64.4 L114.8 64.6 L114.8 64.7 L114.9 64.8 L114.9 65.0 L115.0 65.1 L115.0 65.3 L115.1 65.4 L115.1 65.6 L115.2 65.7 L115.3 65.9 L115.3 66.0 L115.4 66.2 L115.5 66.3 L115.5 66.5 L115.6 66.6 L115.7 66.8 L115.7 66.9 L115.8 67.0 L115.9 67.2 L115.9 67.3 L116.0 67.5 L116.1 67.6 L116.2 67.7 L116.2 67.9 L116.3 68.0 L116.4 68.2 L116.5 68.3 L116.5 68.4 L116.6 68.6 L116.7 68.7 L116.8 68.9 L116.9 69.0 L117.0 69.1 L117.0 69.3 L117.1 69.4 L117.2 69.5 L117.3 69.7 L117.4 69.8 L117.5 69.9 L117.6 70.1 L117.7 70.2 L117.8 70.3 L117.9 70.5 L118.0 70.6 L118.1 70.7 L118.2 70.9 L118.3 71.0 L118.4 71.1 L118.5 71.2 L118.6 71.4 L118.7 71.5 L118.8 71.6 L118.9 71.7 L119.0 71.9 L119.1 72.0 L119.2 72.1 L119.3 72.2 L119.4 72.3 L119.5 72.5 L119.7 72.6 L119.8 72.7 L119.9 72.8 L120.0 72.9 L120.1 73.0 L120.2 73.2 L120.4 73.3 L120.5 73.4 L120.6 73.5 L120.7 73.6 L120.9 73.7 L121.0 73.8 L121.1 73.9 L121.2 74.0 L121.4 74.1 L121.5 74.3 L121.6 74.4 L121.8 74.5 L121.9 74.6 L122.0 74.7 L122.2 74.8 L122.3 74.9 L122.5 75.0 L122.6 75.1 L122.7 75.2 L122.9 75.3 L123.0 75.3 L123.2 75.4 L123.3 75.5 L123.5 75.6 L123.6 75.7 L123.7 75.8 L123.9 75.9 L124.0 76.0 L124.2 76.1 L124.3 76.2 L124.5 76.3 L124.7 76.3 L124.8 76.4 L125.0 76.5 L125.1 76.6 L125.3 76.7 L125.4 76.8 L125.6 76.8 L125.7 76.9 L125.9 77.0 L126.1 77.1 L126.2 77.2 L126.4 77.2 L126.5 77.3 L126.7 77.4 L126.9 77.5 L127.0 77.5 L127.2 77.6 L127.4 77.7 L127.5 77.8 L127.7 77.8 L127.9 77.9 L128.0 78.0 L128.2 78.1 L128.4 78.1 L128.5 78.2 L128.7 78.3 L128.9 78.3 L129.0 78.4 L129.2 78.5 L129.4 78.5 L129.5 78.6 L129.7 78.7 L129.9 78.7 L130.1 78.8 L130.2 78.9 L130.4 78.9 L130.6 79.0 L130.8 79.0 L130.9 79.1 L131.1 79.2 L131.3 79.2 L131.5 79.3 L131.6 79.4 L131.8 79.4 L132.0 79.5 L132.2 79.5 L132.3 79.6 L132.5 79.6 L132.7 79.7 L132.9 79.8 L133.0 79.8 L133.2 79.9 L133.4 79.9 L133.6 80.0 L133.7 80.0 L133.9 80.1 L134.1 80.1 L134.3 80.2 L134.5 80.3 L134.6 80.3 L134.8 80.4 L135.0 80.4 L135.2 80.5 L135.3 80.5 L135.5 80.6 L135.7 80.6 L135.9 80.7 L136.1 80.7 L136.2 80.8 L136.4 80.8 L136.6 80.9 L136.8 80.9 L137.0 81.0 L137.1 81.0 L137.3 81.1 L137.5 81.1 L137.7 81.2 L137.9 81.2 L138.0 81.2 L138.2 81.3 L138.4 81.3 L138.6 81.4 L138.8 81.4 L138.9 81.5 L139.1 81.5 L139.3 81.6 L139.5 81.6 L139.7 81.6 L139.8 81.7 L140.0 81.7 L140.2 81.8 L140.4 81.8 L140.6 81.9 L140.7 81.9 L140.9 81.9 L141.1 82.0 L141.3 82.0 L141.5 82.1 L141.6 82.1 L141.8 82.1 L142.0 82.2 L142.2 82.2 L142.4 82.2 L142.6 82.3 L142.7 82.3 L142.9 82.4 L143.1 82.4 L143.3 82.4 L143.5 82.5 L143.7 82.5 L143.8 82.5 L144.0 82.6 L144.2 82.6 L144.4 82.6 L144.6 82.7 L144.7 82.7 L144.9 82.7 L145.1 82.8 L145.3 82.8 L145.5 82.8 L145.7 82.9 L145.8 82.9 L146.0 82.9 L146.2 83.0 L146.4 83.0 L146.6 83.0 L146.8 83.0 L146.9 83.1 L147.1 83.1 L147.3 83.1 L147.5 83.2 L147.7 83.2 L147.9 83.2 L148.1 83.2 L148.2 83.3 L148.4 83.3 L148.6 83.3 L148.8 83.3 L149.0 83.4 L149.2 83.4 L149.3 83.4 L149.5 83.4 L149.7 83.5 L149.9 83.5 L150.1 83.5 L150.3 83.5 L150.5 83.6 L150.6 83.6 L150.8 83.6 L151.0 83.6 L151.2 83.7 L151.4 83.7 L151.6 83.7 L151.7 83.7 L151.9 83.7 L152.1 83.8 L152.3 83.8 L152.5 83.8 L152.7 83.8 L152.9 83.8 L153.0 83.9 L153.2 83.9 L153.4 83.9 L153.6 83.9 L153.8 83.9 L154.0 83.9 L154.2 84.0 L154.3 84.0 L154.5 84.0 L154.7 84.0 L154.9 84.0 L155.1 84.0 L155.3 84.1 L155.5 84.1 L155.6 84.1 L155.8 84.1 L156.0 84.1 L156.2 84.1 L156.4 84.1 L156.6 84.2 L156.8 84.2 L156.9 84.2 L157.1 84.2 L157.3 84.2 L157.5 84.2 L157.7 84.2 L157.9 84.2 L158.1 84.3 L158.2 84.3 L158.4 84.3 L158.6 84.3 L158.8 84.3 L159.0 84.3 L159.2 84.3 L159.4 84.3 L159.6 84.3 L159.7 84.3 L159.9 84.4 L160.1 84.4 L160.3 84.4 L160.5 84.4 L160.7 84.4 L160.9 84.4 L161.0 84.4 L161.2 84.4 L161.4 84.4 L161.6 84.4 L161.8 84.4 L162.0 84.4 L162.2 84.4 L162.3 84.4 L162.5 84.5 L162.7 84.5 L162.9 84.5 L163.1 84.5 L163.3 84.5 L163.5 84.5 L163.7 84.5 L163.8 84.5 L164.0 84.5 L164.2 84.5 L164.4 84.5 L164.6 84.5 L164.8 84.5 L165.0 84.5 L165.1 84.5 L165.3 84.5 L165.5 84.5 L165.7 84.5 L165.9 84.5 L166.1 84.5 L166.3 84.5 L166.5 84.5 L166.6 84.5 L166.8 84.5 L167.0 84.5 L167.2 84.5 L167.4 84.5 L167.6 84.5 L167.8 84.5 L168.0 84.5 L168.1 84.5 L168.3 84.5 L168.5 84.5 L168.7 84.5 L168.9 84.5 L169.1 84.5 L169.3 84.5 L169.4 84.5 L169.6 84.5 L169.8 84.5 L170.0 84.5 L170.2 84.5 L170.4 84.5 L170.6 84.5 L170.8 84.5 L170.9 84.5 L171.1 84.5 L171.3 84.5 L171.5 84.5 L171.7 84.5 L171.9 84.5 L172.1 84.5 L172.3 84.5 L172.4 84.5 L172.6 84.5 L172.8 84.5 L173.0 84.5 L173.2 84.5 L173.4 84.5 L173.6 84.5 L173.8 84.5 L173.9 84.5 L174.1 84.5 L174.3 84.5 L174.5 84.5 L174.7 84.5 L174.9 84.5 L175.1 84.5 L175.3 84.5 L175.4 84.5 L175.6 84.5 L175.8 84.5 L176.0 84.5 L176.2 84.5 L176.4 84.5 L176.6 84.5 L176.7 84.5 L176.9 84.5 L177.1 84.5 L177.3 84.5 L177.5 84.5 L177.7 84.5 L177.9 84.5 L178.1 84.5 L178.2 84.5 L178.4 84.5 L178.6 84.5 L178.8 84.4 L179.0 84.4 L179.2 84.4 L179.4 84.4 L179.6 84.4 L179.7 84.4 L179.9 84.4 L180.1 84.4 L180.3 84.4 L180.5 84.4 L180.7 84.4 L180.9 84.4 L181.1 84.4 L181.2 84.4 L181.4 84.4 L181.6 84.4 L181.8 84.4 L182.0 84.4 L182.2 84.4 L182.4 84.4 L182.6 84.4 L182.7 84.4 L182.9 84.4 L183.1 84.4 L183.3 84.4 L183.5 84.4 L183.7 84.4 L183.9 84.4 L184.1 84.4 L184.2 84.4 L184.4 84.4 L184.6 84.4 L184.8 84.4 L185.0 84.4 L185.2 84.4 L185.4 84.4 L186.0 84.5 L188.1 84.5 L190.1 84.5 L192.2 84.6 L194.2 84.6 L196.3 84.6 L198.4 84.7 L200.4 84.7 L202.5 84.8 L204.5 84.8 L206.6 84.9 L208.6 85.0 L210.7 85.1 L212.8 85.1 L214.8 85.2 L216.9 85.3 L218.9 85.4 L221.0 85.5 L223.1 85.6 L225.1 85.7 L227.2 85.8 L229.2 85.9 L231.3 86.1 L233.3 86.2 L235.4 86.3 L237.4 86.4 L239.5 86.6 L241.6 86.7 L243.6 86.8 L245.7 87.0 L247.7 87.1 L249.8 87.3 L251.8 87.4 L253.9 87.5 L256.0 87.7 L258.0 87.8 L260.1 88.0 L262.1 88.1 L264.2 88.3 L266.2 88.5 L268.3 88.6 L270.3 88.8 L272.4 88.9 L274.5 89.1 L276.5 89.2 L278.6 89.4 L280.6 89.6 L282.7 89.7 L284.7 89.9 L286.8 90.0 L288.8 90.2 L290.9 90.4 L292.9 90.5 L295.0 90.7 L297.1 90.8 L299.1 91.0 L301.2 91.1 L303.2 91.3 L305.3 91.5 L307.3 91.6 L309.4 91.7 L311.4 91.9 L313.5 92.0 L315.6 92.2 L317.6 92.3 L319.7 92.5 L321.7 92.6 L323.8 92.7 L325.8 92.9 L327.9 93.0 L329.9 93.1 L332.0 93.2 L334.1 93.3 L336.1 93.5 L338.2 93.6 L340.2 93.7 L342.3 93.8 L344.3 93.9 L346.4 94.0 L348.5 94.1 L350.5 94.2 L352.6 94.2 L354.6 94.3 L356.7 94.4 L358.7 94.5 L360.8 94.6 L362.9 94.6 L364.9 94.7 L367.0 94.8 L369.0 94.8 L371.1 94.9 L373.2 94.9 L375.2 95.0 L377.3 95.0 L379.3 95.1 L381.4 95.2 L383.4 95.2 L385.5 95.2 L387.6 95.3 L389.6 95.3 L391.7 95.4 L393.7 95.4 L395.8 95.4 L397.9 95.5 L399.9 95.5 L402.0 95.5 L404.0 95.6 L406.1 95.6 L408.2 95.6 L410.2 95.7 L412.3 95.7 L414.3 95.7 L416.4 95.7 L418.5 95.8 L420.5 95.8 L422.6 95.8 L424.6 95.8 L426.7 95.8 L428.8 95.9 L430.8 95.9 L432.9 95.9 L434.9 95.9 L437.0 95.9 L439.1 96.0 L441.1 96.0 L443.2 96.0 L445.2 96.0 L447.3 96.0 L449.4 96.0 L451.4 96.1 L453.5 96.1 L455.5 96.1 L457.6 96.1 L459.7 96.1 L461.7 96.2 L463.8 96.2 L465.9 96.2 L467.9 96.2 L470.0 96.3 L472.0 96.3 L474.1 96.3 L476.2 96.3 L478.2 96.4 L480.3 96.4 L482.3 96.4 L484.4 96.5 L486.5 96.5 L488.5 96.5 L490.6 96.6 L492.7 96.6 L494.7 96.6 L496.8 96.7 L498.8 96.7 L500.9 96.8 L503.0 96.8 L505.0 96.9 L507.1 96.9 L509.2 97.0 L511.2 97.0 L513.3 97.1 L515.3 97.1 L517.4 97.2 L519.5 97.3 L521.5 97.3 L523.6 97.4 L525.6 97.5 L527.7 97.5 L529.8 97.6 L531.8 97.7 L533.9 97.7 L536.0 97.8 L538.0 97.9 L540.1 98.0 L542.1 98.1 L544.2 98.1 L546.3 98.2 L548.3 98.3 L550.4 98.4 L552.4 98.5 L554.5 98.6 L556.6 98.7 L558.6 98.8 L560.7 98.9 L562.7 99.0 L564.8 99.1 L566.8 99.2 L568.9 99.3 L571.0 99.4 L573.0 99.5 L575.1 99.6 L577.1 99.8 L579.2 99.9 L581.2 100.0 L583.3 100.1 L585.4 100.2 L587.4 100.4 L589.5 100.5 L591.5 100.6 L593.6 100.8 L595.6 100.9 L597.7 101.0 L599.7 101.2 L601.8 101.3 L603.8 101.5 L605.9 101.6 L607.9 101.8 L610.0 101.9 L612.0 102.1 L614.1 102.2 L616.1 102.4 L618.2 102.6 L620.2 102.7 L622.3 102.9 L624.3 103.0 L626.4 103.2 L628.4 103.4 L630.5 103.6 L632.5 103.7 L634.6 103.9 L636.6 104.1 L638.7 104.3 L640.7 104.4 L642.8 104.6 L644.8 104.8 L646.9 105.0 L648.9 105.2 L651.0 105.4 L653.0 105.6 L655.1 105.8 L657.1 106.0 L659.1 106.1 L661.2 106.3 L663.2 106.5 L665.3 106.7 L667.3 106.9 L669.4 107.1 L671.4 107.3 L673.5 107.5 L675.5 107.7 L677.6 107.9 L679.6 108.2 L681.7 108.4 L683.7 108.6 L685.7 108.8 L687.8 109.0 L689.8 109.2 L691.9 109.4 L693.9 109.6 L696.0 109.8 L698.0 110.0 L700.1 110.2 L702.1 110.5 L704.2 110.7 L706.2 110.9 L708.3 111.1 L710.3 111.3 L712.4 111.5 L714.4 111.7 L716.5 112.0 L718.5 112.2 L720.6 112.4 L722.6 112.6 L724.7 112.8 L726.7 113.0 L728.8 113.3 L730.8 113.5 L732.9 113.7 L734.9 113.9 L737.0 114.1 L739.0 114.3 L741.1 114.6 L743.1 114.8 L745.2 115.0 L747.2 115.2 L749.3 115.4 L751.3 115.6 L753.4 115.8 L755.5 116.1 L757.5 116.3 L759.6 116.5 L761.6 116.7 L763.7 116.9 L765.7 117.1 L767.8 117.3 L769.9 117.5 L771.9 117.8 L774.0 118.0 L776.0 118.2 L778.1 118.4 L780.2 118.6 L782.2 118.8 L784.3 119.0 L786.4 119.2 L788.4 119.4 L790.5 119.6 L792.6 119.8 L794.6 120.0 L796.7 120.2 L798.8 120.4 L800.8 120.6 L802.9 120.8 L805.0 121.0 L807.0 121.2 L809.1 121.4 L811.2 121.6 L813.2 121.8 L815.3 122.0 L817.3 122.2 L819.4 122.5 L821.4 122.8 L823.5 123.0 L825.5 123.3 L827.6 123.7 L829.6 124.0 L831.6 124.4 L833.6 124.7 L835.6 125.2 L837.6 125.6 L839.6 126.1 L841.5 126.6 L843.5 127.1 L845.4 127.7 L847.4 128.3 L849.3 128.9 L851.2 129.6 L853.1 130.4 L855.0 131.1 L856.8 132.0 L858.7 132.8 L860.5 133.7 L862.3 134.7 L864.0 135.8 L865.7 136.9 L867.4 138.0 L869.0 139.2 L870.6 140.6 L872.1 141.9 L873.6 143.4 L875.0 144.8 L876.5 146.4 L877.8 147.9 L879.2 149.5 L880.6 151.1 L881.9 152.7 L883.2 154.3 L884.5 155.9 L885.8 157.5 L887.1 159.2 L888.4 160.8 L889.7 162.5 L890.9 164.1 L892.2 165.8 L893.4 167.4 L894.6 169.1 L895.8 170.8 L896.9 172.5 L898.1 174.2 L899.2 175.9 L900.3 177.7 L901.4 179.4 L902.5 181.2 L903.5 182.9 L904.6 184.7 L905.6 186.5 L906.6 188.3 L907.5 190.1 L908.5 191.9 L909.4 193.7 L910.3 195.6 L911.2 197.4 L912.0 199.3 L912.8 201.1 L913.7 203.0 L914.4 204.9 L915.2 206.8 L916.0 208.7 L916.7 210.6 L917.4 212.6 L918.1 214.5 L918.8 216.4 L919.5 218.4 L920.1 220.3 L920.7 222.3 L921.3 224.2 L921.9 226.2 L922.5 228.2 L923.1 230.2 L923.6 232.2 L924.1 234.2 L924.6 236.2 L925.1 238.2 L925.6 240.2 L926.1 242.2 L926.5 244.2 L927.0 246.2 L927.4 248.3 L927.8 250.3 L928.2 252.3 L928.6 254.4 L929.0 256.4 L929.3 258.4 L929.7 260.5 L930.0 262.5 L930.3 264.6 L930.6 266.6 L930.9 268.6 L931.2 270.7 L931.5 272.7 L931.8 274.8 L932.0 276.8 L932.3 278.9 L932.5 280.9 L932.8 283.0 L933.0 285.0 L933.2 287.1 L933.4 289.1 L933.6 291.2 L933.8 293.2 L934.0 295.3 L934.1 297.3 L934.3 299.4 L934.5 301.4 L934.6 303.5 L934.8 305.5 L934.9 307.6 L935.0 309.6 L935.1 311.7 L935.2 313.7 L935.4 315.8 L935.5 317.8 L935.5 319.9 L935.6 322.0 L935.7 324.0 L935.8 326.1 L935.9 328.1 L935.9 330.2 L936.0 332.2 L936.0 334.3 L936.1 336.3 L936.1 338.4 L936.2 340.4 L936.2 342.5 L936.3 344.6 L936.3 346.6 L936.3 348.7 L936.3 350.7 L936.4 352.8 L936.4 354.8 L936.4 356.9 L936.4 359.0 L936.4 361.0 L936.4 363.1 L936.4 365.1 L936.4 367.2 L936.4 369.3 L936.4 371.3 L936.4 373.4 L936.4 375.4 L936.4 377.5 L936.4 379.6 L936.4 381.6 L936.4 383.7 L936.4 385.7 L936.4 387.8 L936.4 389.9 L936.4 391.9 L936.4 394.0 L936.4 396.0 L936.4 398.1 L936.4 400.2 L936.4 402.2 L936.4 404.3 L936.4 406.3 L936.4 408.4 L936.4 410.5 L936.4 412.5 L936.4 414.6 L936.5 416.6 L936.5 418.7 L936.5 420.8 L936.5 422.8 L936.5 424.9 L936.6 427.0 L936.6 429.0 L936.6 431.1 L936.7 433.1 L936.7 435.2 L936.8 437.3 L936.8 439.3 L936.9 441.4 L936.9 443.5 L937.0 445.5 L937.1 447.6 L937.2 449.6 L937.3 451.7 L937.3 453.8 L937.4 455.8 L937.5 457.9 L937.7 460.0 L937.8 462.0" stroke="#EDB120"/>
<path d="M110.0 2.8 L110.6 25.0 L111.7 43.0 L112.6 52.8 L112.6 52.9 L112.6 53.1 L112.7 53.2 L112.7 53.3 L112.7 53.5 L112.7 53.6 L112.8 53.8 L112.8 53.9 L112.8 54.1 L112.8 54.2 L112.8 54.4 L112.9 54.5 L112.9 54.7 L112.9 54.8 L112.9 54.9 L113.0 55.1 L113.0 55.2 L113.0 55.4 L113.0 55.5 L113.1 55.7 L113.1 55.8 L113.1 56.0 L113.1 56.1 L113.2 56.2 L113.2 56.4 L113.2 56.5 L113.2 56.7 L113.3 56.8 L113.3 57.0 L113.3 57.1 L113.3 57.3 L113.4 57.4 L113.4 57.6 L113.4 57.7 L113.5 57.9 L113.5 58.0 L113.5 58.2 L113.5 58.3 L113.6 58.4 L113.6 58.6 L113.6 58.7 L113.7 58.9 L113.7 59.0 L113.7 59.2 L113.8 59.3 L113.8 59.5 L113.9 59.6 L113.9 59.8 L113.9 59.9 L114.0 60.1 L114.0 60.2 L114.0 60.4 L114.1 60.5 L114.1 60.7 L114.2 60.8 L114.2 61.0 L114.3 61.1 L114.3 61.3 L114.4 61.5 L114.4 61.6 L114.4 61.8 L114.5 61.9 L114.5 62.1 L114.6 62.2 L114.7 62.4 L114.7 62.5 L114.8 62.7 L114.8 62.8 L114.9 63.0 L114.9 63.1 L115.0 63.2 L115.1 63.4 L115.1 63.5 L115.2 63.7 L115.2 63.8 L115.3 64.0 L115.4 64.1 L115.4 64.3 L115.5 64.4 L115.6 64.5 L115.7 64.7 L115.7 64.8 L115.8 65.0 L115.9 65.1 L116.0 65.2 L116.0 65.4 L116.1 65.5 L116.2 65.6 L116.3 65.8 L116.4 65.9 L116.5 66.0 L116.6 66.2 L116.7 66.3 L116.8 66.4 L116.8 66.5 L116.9 66.6 L117.0 66.8 L117.1 66.9 L117.2 67.0 L117.3 67.1 L117.5 67.2 L117.6 67.4 L117.7 67.5 L117.8 67.6 L117.9 67.7 L118.0 67.8 L118.1 67.9 L118.2 68.0 L118.3 68.1 L118.5 68.2 L118.6 68.3 L118.7 68.4 L118.8 68.5 L118.9 68.6 L119.1 68.7 L119.2 68.8 L119.3 68.9 L119.5 69.0 L119.6 69.1 L119.7 69.2 L119.8 69.3 L120.0 69.4 L120.1 69.5 L120.3 69.6 L120.4 69.7 L120.5 69.8 L120.7 69.9 L120.8 70.0 L120.9 70.0 L121.1 70.1 L121.2 70.2 L121.4 70.3 L121.5 70.4 L121.7 70.5 L121.8 70.5 L122.0 70.6 L122.1 70.7 L122.3 70.8 L122.4 70.9 L122.6 70.9 L122.7 71.0 L122.9 71.1 L123.0 71.2 L123.2 71.2 L123.3 71.3 L123.5 71.4 L123.7 71.5 L123.8 71.5 L124.0 71.6 L124.1 71.7 L124.3 71.7 L124.5 71.8 L124.6 71.9 L124.8 71.9 L124.9 72.0 L125.1 72.1 L125.3 72.1 L125.4 72.2 L125.6 72.3 L125.8 72.3 L125.9 72.4 L126.1 72.5 L126.3 72.5 L126.4 72.6 L126.6 72.7 L126.8 72.7 L127.0 72.8 L127.1 72.8 L127.3 72.9 L127.5 73.0 L127.6 73.0 L127.8 73.1 L128.0 73.1 L128.2 73.2 L128.3 73.3 L128.5 73.3 L128.7 73.4 L128.8 73.4 L129.0 73.5 L129.2 73.5 L129.4 73.6 L129.5 73.7 L129.7 73.7 L129.9 73.8 L130.1 73.8 L130.2 73.9 L130.4 73.9 L130.6 74.0 L130.8 74.0 L130.9 74.1 L131.1 74.2 L131.3 74.2 L131.5 74.3 L131.7 74.3 L131.8 74.4 L132.0 74.4 L132.2 74.5 L132.4 74.5 L132.5 74.6 L132.7 74.6 L132.9 74.7 L133.1 74.7 L133.2 74.8 L133.4 74.8 L133.6 74.9 L133.8 75.0 L133.9 75.0 L134.1 75.1 L134.3 75.1 L134.5 75.2 L134.6 75.2 L134.8 75.3 L135.0 75.3 L135.1 75.4 L135.3 75.4 L135.5 75.5 L135.7 75.5 L135.8 75.6 L136.0 75.7 L136.2 75.7 L136.3 75.8 L136.5 75.8 L136.7 75.9 L136.9 75.9 L137.0 76.0 L137.2 76.0 L137.4 76.1 L137.5 76.2 L137.7 76.2 L137.9 76.3 L138.0 76.3 L138.2 76.4 L138.3 76.4 L138.5 76.5 L138.7 76.6 L138.8 76.6 L139.0 76.7 L139.2 76.7 L139.3 76.8 L139.5 76.9 L139.6 76.9 L139.8 77.0 L140.0 77.0 L140.1 77.1 L140.3 77.2 L140.4 77.2 L140.6 77.3 L140.8 77.4 L140.9 77.4 L141.1 77.5 L141.2 77.6 L141.4 77.6 L141.5 77.7 L141.7 77.7 L141.9 77.8 L142.0 77.9 L142.2 78.0 L142.3 78.0 L142.5 78.1 L142.6 78.2 L142.8 78.2 L142.9 78.3 L143.1 78.4 L143.3 78.4 L143.4 78.5 L143.6 78.6 L143.7 78.7 L143.9 78.7 L144.0 78.8 L144.2 78.9 L144.4 79.0 L144.5 79.0 L144.7 79.1 L144.8 79.2 L145.0 79.3 L145.1 79.3 L145.3 79.4 L145.4 79.5 L145.6 79.6 L145.8 79.7 L145.9 79.7 L146.1 79.8 L146.2 79.9 L146.4 80.0 L146.5 80.0 L146.7 80.1 L146.9 80.2 L147.0 80.3 L147.2 80.4 L147.3 80.4 L147.5 80.5 L147.7 80.6 L147.8 80.7 L148.0 80.7 L148.1 80.8 L148.3 80.9 L148.5 81.0 L148.6 81.0 L148.8 81.1 L148.9 81.2 L149.1 81.2 L149.3 81.3 L149.4 81.4 L149.6 81.4 L149.8 81.5 L149.9 81.6 L150.1 81.6 L150.3 81.7 L150.4 81.7 L150.6 81.8 L150.8 81.9 L150.9 81.9 L151.1 82.0 L151.3 82.0 L151.5 82.1 L151.6 82.1 L151.8 82.2 L152.0 82.2 L152.1 82.3 L152.3 82.3 L152.5 82.4 L152.7 82.4 L152.8 82.5 L153.0 82.5 L153.2 82.6 L153.3 82.6 L153.5 82.7 L153.7 82.7 L153.9 82.7 L154.0 82.8 L154.2 82.8 L154.4 82.9 L154.6 82.9 L154.7 82.9 L154.9 83.0 L155.1 83.0 L155.3 83.1 L155.4 83.1 L155.6 83.1 L155.8 83.2 L156.0 83.2 L156.1 83.2 L156.3 83.3 L156.5 83.3 L156.7 83.3 L156.9 83.4 L157.0 83.4 L157.2 83.4 L157.4 83.4 L157.6 83.5 L157.8 83.5 L157.9 83.5 L158.1 83.6 L158.3 83.6 L158.5 83.6 L158.6 83.6 L158.8 83.7 L159.0 83.7 L159.2 83.7 L159.4 83.7 L159.5 83.8 L159.7 83.8 L159.9 83.8 L160.1 83.8 L160.3 83.9 L160.4 83.9 L160.6 83.9 L160.8 83.9 L161.0 83.9 L161.2 84.0 L161.3 84.0 L161.5 84.0 L161.7 84.0 L161.9 84.0 L162.1 84.1 L162.2 84.1 L162.4 84.1 L162.6 84.1 L162.8 84.1 L163.0 84.1 L163.1 84.2 L163.3 84.2 L163.5 84.2 L163.7 84.2 L163.9 84.2 L164.0 84.2 L164.2 84.3 L164.4 84.3 L164.6 84.3 L164.8 84.3 L164.9 84.3 L165.1 84.3 L165.3 84.3 L165.5 84.3 L165.7 84.4 L165.9 84.4 L166.0 84.4 L166.2 84.4 L166.4 84.4 L166.6 84.4 L166.8 84.4 L166.9 84.4 L167.1 84.4 L167.3 84.5 L167.5 84.5 L167.7 84.5 L167.8 84.5 L168.0 84.5 L168.2 84.5 L168.4 84.5 L168.6 84.5 L168.7 84.5 L168.9 84.5 L169.1 84.5 L169.3 84.6 L169.5 84.6 L169.7 84.6 L169.8 84.6 L170.0 84.6 L170.2 84.6 L170.4 84.6 L170.6 84.6 L170.7 84.6 L170.9 84.6 L171.1 84.6 L171.3 84.6 L171.5 84.6 L171.7 84.6 L171.8 84.6 L172.0 84.6 L172.2 84.6 L172.4 84.7 L172.6 84.7 L172.7 84.7 L172.9 84.7 L173.1 84.7 L173.3 84.7 L173.5 84.7 L173.7 84.7 L173.8 84.7 L174.0 84.7 L174.2 84.7 L174.4 84.7 L174.6 84.7 L174.7 84.7 L174.9 84.7 L175.1 84.7 L175.3 84.7 L175.5 84.7 L175.7 84.7 L175.8 84.7 L176.0 84.7 L176.2 84.7 L176.4 84.7 L176.6 84.7 L176.7 84.7 L176.9 84.7 L177.1 84.7 L177.3 84.7 L177.5 84.7 L177.7 84.7 L177.8 84.7 L178.0 84.7 L178.2 84.7 L178.4 84.7 L178.6 84.7 L178.8 84.7 L178.9 84.7 L179.1 84.7 L179.3 84.7 L179.5 84.7 L179.7 84.7 L179.8 84.7 L180.0 84.7 L180.2 84.7 L180.4 84.7 L180.6 84.8 L180.8 84.8 L180.9 84.8 L181.1 84.8 L181.3 84.8 L181.5 84.8 L181.7 84.8 L181.8 84.8 L182.0 84.8 L182.2 84.8 L182.4 84.8 L182.6 84.8 L182.8 84.8 L182.9 84.8 L183.1 84.8 L183.3 84.8 L183.5 84.8 L183.7 84.8 L183.8 84.8 L184.0 84.8 L184.2 84.8 L184.4 84.8 L184.6 84.8 L184.8 84.8 L184.9 84.8 L185.1 84.8 L185.3 84.8 L185.5 84.8 L186.0 84.8 L188.0 84.9 L190.0 85.0 L192.0 85.1 L194.0 85.2 L196.0 85.3 L198.1 85.4 L200.1 85.5 L202.1 85.6 L204.1 85.7 L206.1 85.8 L208.1 86.0 L210.1 86.1 L212.1 86.2 L214.1 86.3 L216.2 86.4 L218.2 86.5 L220.2 86.7 L222.2 86.8 L224.2 86.9 L226.2 87.1 L228.2 87.2 L230.2 87.3 L232.2 87.4 L234.2 87.6 L236.3 87.7 L238.3 87.8 L240.3 88.0 L242.3 88.1 L244.3 88.2 L246.3 88.4 L248.3 88.5 L250.3 88.7 L252.3 88.8 L254.3 88.9 L256.3 89.1 L258.4 89.2 L260.4 89.3 L262.4 89.5 L264.4 89.6 L266.4 89.8 L268.4 89.9 L270.4 90.0 L272.4 90.2 L274.4 90.3 L276.4 90.4 L278.4 90.6 L280.4 90.7 L282.5 90.8 L284.5 91.0 L286.5 91.1 L288.5 91.2 L290.5 91.4 L292.5 91.5 L294.5 91.6 L296.5 91.8 L298.5 91.9 L300.5 92.0 L302.5 92.1 L304.5 92.2 L306.6 92.4 L308.6 92.5 L310.6 92.6 L312.6 92.7 L314.6 92.8 L316.6 92.9 L318.6 93.0 L320.6 93.1 L322.6 93.2 L324.6 93.3 L326.7 93.4 L328.7 93.5 L330.7 93.6 L332.7 93.7 L334.7 93.8 L336.7 93.9 L338.7 93.9 L340.7 94.0 L342.7 94.1 L344.8 94.2 L346.8 94.2 L348.8 94.3 L350.8 94.4 L352.8 94.4 L354.8 94.5 L356.8 94.6 L358.8 94.6 L360.9 94.7 L362.9 94.7 L364.9 94.8 L366.9 94.8 L368.9 94.9 L370.9 94.9 L372.9 94.9 L375.0 95.0 L377.0 95.0 L379.0 95.1 L381.0 95.1 L383.0 95.1 L385.0 95.2 L387.0 95.2 L389.1 95.2 L391.1 95.3 L393.1 95.3 L395.1 95.3 L397.1 95.4 L399.1 95.4 L401.1 95.4 L403.2 95.4 L405.2 95.5 L407.2 95.5 L409.2 95.5 L411.2 95.5 L413.2 95.5 L415.2 95.6 L417.3 95.6 L419.3 95.6 L421.3 95.6 L423.3 95.7 L425.3 95.7 L427.3 95.7 L429.3 95.7 L431.4 95.7 L433.4 95.8 L435.4 95.8 L437.4 95.8 L439.4 95.8 L441.4 95.9 L443.5 95.9 L445.5 95.9 L447.5 95.9 L449.5 96.0 L451.5 96.0 L453.5 96.0 L455.5 96.0 L457.6 96.1 L459.6 96.1 L461.6 96.1 L463.6 96.2 L465.6 96.2 L467.6 96.3 L469.6 96.3 L471.6 96.3 L473.7 96.4 L475.7 96.4 L477.7 96.5 L479.7 96.5 L481.7 96.6 L483.7 96.6 L485.7 96.7 L487.7 96.7 L489.8 96.8 L491.8 96.8 L493.8 96.9 L495.8 97.0 L497.8 97.0 L499.8 97.1 L501.8 97.2 L503.8 97.2 L505.8 97.3 L507.9 97.4 L509.9 97.5 L511.9 97.5 L513.9 97.6 L515.9 97.7 L517.9 97.8 L519.9 97.9 L521.9 98.0 L523.9 98.0 L525.9 98.1 L528.0 98.2 L530.0 98.3 L532.0 98.4 L534.0 98.5 L536.0 98.6 L538.0 98.7 L540.0 98.8 L542.0 98.9 L544.0 99.1 L546.0 99.2 L548.0 99.3 L550.0 99.4 L552.1 99.5 L554.1 99.6 L556.1 99.7 L558.1 99.9 L560.1 100.0 L562.1 100.1 L564.1 100.2 L566.1 100.4 L568.1 100.5 L570.1 100.6 L572.1 100.8 L574.1 100.9 L576.1 101.0 L578.1 101.2 L580.2 101.3 L582.2 101.4 L584.2 101.6 L586.2 101.7 L588.2 101.9 L590.2 102.0 L592.2 102.2 L594.2 102.3 L596.2 102.5 L598.2 102.6 L600.2 102.8 L602.2 102.9 L604.2 103.1 L606.2 103.2 L608.2 103.4 L610.2 103.6 L612.2 103.7 L614.3 103.9 L616.3 104.0 L618.3 104.2 L620.3 104.4 L622.3 104.5 L624.3 104.7 L626.3 104.9 L628.3 105.1 L630.3 105.2 L632.3 105.4 L634.3 105.6 L636.3 105.8 L638.3 105.9 L640.3 106.1 L642.3 106.3 L644.3 106.5 L646.3 106.7 L648.3 106.9 L650.3 107.0 L652.3 107.2 L654.3 107.4 L656.4 107.6 L658.4 107.8 L660.4 108.0 L662.4 108.2 L664.4 108.4 L666.4 108.6 L668.4 108.8 L670.4 109.0 L672.4 109.2 L674.4 109.4 L676.4 109.6 L678.4 109.8 L680.4 110.0 L682.4 110.2 L684.4 110.4 L686.4 110.6 L688.4 110.8 L690.4 111.0 L692.4 111.2 L694.4 111.4 L696.4 111.6 L698.4 111.8 L700.4 112.1 L702.5 112.3 L704.5 112.5 L706.5 112.7 L708.5 112.9 L710.5 113.1 L712.5 113.3 L714.5 113.6 L716.5 113.8 L718.5 114.0 L720.5 114.2 L722.5 114.4 L724.5 114.7 L726.5 114.9 L728.5 115.1 L730.5 115.3 L732.5 115.6 L734.5 115.8 L736.5 116.0 L738.5 116.2 L740.5 116.5 L742.5 116.7 L744.6 116.9 L746.6 117.2 L748.6 117.4 L750.6 117.6 L752.6 117.9 L754.6 118.1 L756.6 118.3 L758.6 118.6 L760.6 118.8 L762.6 119.0 L764.6 119.3 L766.6 119.5 L768.6 119.7 L770.6 120.0 L772.6 120.2 L774.6 120.4 L776.7 120.7 L778.7 120.9 L780.7 121.2 L782.7 121.4 L784.7 121.6 L786.7 121.9 L788.7 122.1 L790.7 122.4 L792.7 122.7 L794.7 122.9 L796.7 123.2 L798.7 123.5 L800.7 123.8 L802.7 124.1 L804.6 124.4 L806.6 124.8 L808.6 125.1 L810.6 125.5 L812.5 125.9 L814.5 126.3 L816.4 126.7 L818.4 127.2 L820.3 127.7 L822.3 128.2 L824.2 128.7 L826.1 129.3 L827.9 129.9 L829.8 130.6 L831.6 131.4 L833.4 132.2 L835.2 133.1 L836.9 134.0 L838.6 135.0 L840.3 136.0 L842.0 137.1 L843.6 138.3 L845.2 139.5 L846.8 140.7 L848.4 141.9 L849.9 143.2 L851.4 144.5 L852.9 145.9 L854.3 147.3 L855.8 148.7 L857.2 150.1 L858.6 151.5 L860.0 153.0 L861.3 154.5 L862.7 156.1 L864.0 157.6 L865.2 159.2 L866.5 160.8 L867.7 162.4 L869.0 164.0 L870.1 165.7 L871.3 167.3 L872.5 169.0 L873.6 170.7 L874.7 172.4 L875.8 174.2 L876.9 175.9 L877.9 177.7 L878.9 179.4 L879.9 181.2 L880.9 183.0 L881.9 184.8 L882.8 186.6 L883.7 188.4 L884.6 190.2 L885.5 192.0 L886.4 193.8 L887.2 195.7 L888.0 197.5 L888.8 199.4 L889.6 201.2 L890.4 203.1 L891.1 204.9 L891.9 206.8 L892.6 208.7 L893.3 210.6 L893.9 212.4 L894.6 214.3 L895.2 216.2 L895.9 218.1 L896.5 220.0 L897.1 222.0 L897.7 223.9 L898.2 225.8 L898.8 227.7 L899.3 229.7 L899.8 231.6 L900.3 233.5 L900.8 235.5 L901.3 237.4 L901.8 239.4 L902.2 241.3 L902.6 243.3 L903.1 245.2 L903.5 247.2 L903.9 249.2 L904.3 251.1 L904.6 253.1 L905.0 255.1 L905.4 257.1 L905.7 259.0 L906.0 261.0 L906.3 263.0 L906.6 265.0 L906.9 267.0 L907.2 269.0 L907.5 270.9 L907.8 272.9 L908.0 274.9 L908.3 276.9 L908.5 278.9 L908.8 280.9 L909.0 282.9 L909.2 284.9 L909.4 286.9 L909.6 288.9 L909.8 290.9 L910.0 292.9 L910.2 294.9 L910.4 296.9 L910.5 298.9 L910.7 300.9 L910.8 302.9 L911.0 304.9 L911.1 306.9 L911.2 308.9 L911.3 310.9 L911.5 312.9 L911.6 314.9 L911.7 317.0 L911.8 319.0 L911.9 321.0 L912.0 323.0 L912.0 325.0 L912.1 327.0 L912.2 329.0 L912.3 331.0 L912.3 333.1 L912.4 335.1 L912.4 337.1 L912.5 339.1 L912.5 341.1 L912.6 343.1 L912.6 345.2 L912.7 347.2 L912.7 349.2 L912.7 351.2 L912.7 353.2 L912.8 355.2 L912.8 357.3 L912.8 359.3 L912.8 361.3 L912.8 363.3 L912.9 365.3 L912.9 367.4 L912.9 369.4 L912.9 371.4 L912.9 373.4 L912.9 375.4 L912.9 377.5 L912.9 379.5 L912.9 381.5 L912.9 383.5 L912.9 385.5 L912.9 387.6 L912.9 389.6 L912.9 391.6 L912.9 393.6 L912.9 395.6 L912.9 397.6 L912.9 399.7 L912.9 401.7 L912.9 403.7 L913.0 405.7 L913.0 407.7 L913.0 409.7 L913.0 411.8 L913.0 413.8 L913.0 415.8 L913.0 417.8 L913.1 419.8 L913.1 421.8 L913.1 423.8 L913.1 425.9 L913.2 427.9 L913.2 429.9 L913.2 431.9 L913.3 433.9 L913.3 435.9 L913.4 437.9 L913.4 439.9 L913.5 441.9 L913.5 443.9 L913.6 445.9 L913.7 447.9 L913.8 449.9 L913.8 451.9 L913.9 453.9 L914.0 455.9 L914.1 457.9 L914.2 459.9 L914.3 461.9" stroke="#7E2F8E"/>
<path d="M110.0 2.8 L110.6 25.0 L111.8 43.0 L112.7 52.8 L112.7 52.9 L112.7 53.1 L112.7 53.2 L112.7 53.4 L112.8 53.5 L112.8 53.7 L112.8 53.8 L112.8 54.0 L112.9 54.1 L112.9 54.3 L112.9 54.4 L112.9 54.6 L112.9 54.7 L113.0 54.8 L113.0 55.0 L113.0 55.1 L113.0 55.3 L113.1 55.4 L113.1 55.6 L113.1 55.7 L113.1 55.9 L113.2 56.0 L113.2 56.2 L113.2 56.3 L113.2 56.5 L113.3 56.6 L113.3 56.8 L113.3 56.9 L113.4 57.1 L113.4 57.2 L113.4 57.3 L113.4 57.5 L113.5 57.6 L113.5 57.8 L113.5 57.9 L113.6 58.1 L113.6 58.2 L113.6 58.4 L113.7 58.5 L113.7 58.7 L113.8 58.8 L113.8 59.0 L113.8 59.1 L113.9 59.3 L113.9 59.4 L114.0 59.5 L114.0 59.7 L114.1 59.8 L114.1 60.0 L114.2 60.1 L114.2 60.3 L114.3 60.4 L114.3 60.6 L114.4 60.7 L114.4 60.9 L114.5 61.0 L114.5 61.1 L114.6 61.3 L114.6 61.4 L114.7 61.6 L114.8 61.7 L114.8 61.9 L114.9 62.0 L115.0 62.1 L115.0 62.3 L115.1 62.4 L115.2 62.5 L115.3 62.7 L115.3 62.8 L115.4 62.9 L115.5 63.1 L115.6 63.2 L115.7 63.3 L115.8 63.4 L115.9 63.6 L116.0 63.7 L116.1 63.8 L116.1 63.9 L116.2 64.0 L116.4 64.2 L116.5 64.3 L116.6 64.4 L116.7 64.5 L116.8 64.6 L116.9 64.7 L117.0 64.8 L117.1 64.9 L117.3 65.0 L117.4 65.1 L117.5 65.2 L117.7 65.3 L117.8 65.4 L117.9 65.4 L118.1 65.5 L118.2 65.6 L118.3 65.7 L118.5 65.8 L118.6 65.8 L118.8 65.9 L118.9 66.0 L119.1 66.1 L119.2 66.1 L119.4 66.2 L119.5 66.3 L119.7 66.3 L119.8 66.4 L120.0 66.5 L120.2 66.5 L120.3 66.6 L120.5 66.7 L120.7 66.7 L120.8 66.8 L121.0 66.8 L121.2 66.9 L121.3 66.9 L121.5 67.0 L121.7 67.0 L121.9 67.1 L122.0 67.1 L122.2 67.2 L122.4 67.2 L122.5 67.3 L122.7 67.3 L122.9 67.4 L123.1 67.4 L123.3 67.4 L123.4 67.5 L123.6 67.5 L123.8 67.6 L124.0 67.6 L124.1 67.6 L124.3 67.7 L124.5 67.7 L124.7 67.8 L124.9 67.8 L125.0 67.8 L125.2 67.9 L125.4 67.9 L125.6 67.9 L125.8 68.0 L125.9 68.0 L126.1 68.0 L126.3 68.1 L126.5 68.1 L126.6 68.1 L126.8 68.2 L127.0 68.2 L127.2 68.2 L127.4 68.3 L127.5 68.3 L127.7 68.3 L127.9 68.4 L128.1 68.4 L128.2 68.4 L128.4 68.5 L128.6 68.5 L128.8 68.5 L128.9 68.6 L129.1 68.6 L129.3 68.6 L129.5 68.7 L129.6 68.7 L129.8 68.7 L130.0 68.7 L130.2 68.8 L130.3 68.8 L130.5 68.8 L130.7 68.9 L130.8 68.9 L131.0 68.9 L131.2 69.0 L131.4 69.0 L131.5 69.0 L131.7 69.1 L131.9 69.1 L132.1 69.1 L132.2 69.2 L132.4 69.2 L132.6 69.2 L132.8 69.3 L132.9 69.3 L133.1 69.3 L133.3 69.4 L133.4 69.4 L133.6 69.4 L133.8 69.5 L134.0 69.5 L134.1 69.5 L134.3 69.6 L134.5 69.6 L134.6 69.6 L134.8 69.7 L135.0 69.7 L135.2 69.8 L135.3 69.8 L135.5 69.8 L135.7 69.9 L135.9 69.9 L136.0 69.9 L136.2 70.0 L136.4 70.0 L136.5 70.1 L136.7 70.1 L136.9 70.2 L137.1 70.2 L137.2 70.2 L137.4 70.3 L137.6 70.3 L137.8 70.4 L137.9 70.4 L138.1 70.5 L138.3 70.5 L138.4 70.6 L138.6 70.6 L138.8 70.7 L139.0 70.7 L139.1 70.8 L139.3 70.8 L139.5 70.9 L139.6 70.9 L139.8 71.0 L140.0 71.0 L140.1 71.1 L140.3 71.1 L140.5 71.2 L140.7 71.2 L140.8 71.3 L141.0 71.4 L141.2 71.4 L141.3 71.5 L141.5 71.5 L141.7 71.6 L141.8 71.7 L142.0 71.7 L142.1 71.8 L142.3 71.9 L142.5 71.9 L142.6 72.0 L142.8 72.1 L142.9 72.1 L143.1 72.2 L143.3 72.3 L143.4 72.4 L143.6 72.4 L143.7 72.5 L143.9 72.6 L144.0 72.7 L144.2 72.7 L144.3 72.8 L144.5 72.9 L144.6 73.0 L144.8 73.1 L144.9 73.1 L145.1 73.2 L145.2 73.3 L145.4 73.4 L145.5 73.5 L145.7 73.6 L145.8 73.7 L145.9 73.8 L146.1 73.9 L146.2 73.9 L146.4 74.0 L146.5 74.1 L146.6 74.2 L146.8 74.3 L146.9 74.4 L147.0 74.5 L147.2 74.6 L147.3 74.7 L147.4 74.8 L147.6 74.9 L147.7 75.0 L147.8 75.1 L148.0 75.2 L148.1 75.3 L148.2 75.4 L148.3 75.5 L148.5 75.6 L148.6 75.7 L148.7 75.8 L148.9 75.9 L149.0 76.0 L149.1 76.1 L149.2 76.2 L149.4 76.3 L149.5 76.4 L149.6 76.6 L149.8 76.7 L149.9 76.8 L150.0 76.9 L150.1 77.0 L150.3 77.1 L150.4 77.2 L150.5 77.3 L150.7 77.4 L150.8 77.5 L150.9 77.6 L151.1 77.7 L151.2 77.8 L151.3 77.9 L151.5 78.0 L151.6 78.1 L151.7 78.2 L151.9 78.3 L152.0 78.4 L152.1 78.5 L152.3 78.5 L152.4 78.6 L152.5 78.7 L152.7 78.8 L152.8 78.9 L153.0 79.0 L153.1 79.1 L153.3 79.2 L153.4 79.3 L153.5 79.4 L153.7 79.4 L153.8 79.5 L154.0 79.6 L154.1 79.7 L154.3 79.8 L154.4 79.9 L154.6 80.0 L154.7 80.0 L154.9 80.1 L155.0 80.2 L155.2 80.3 L155.3 80.3 L155.5 80.4 L155.6 80.5 L155.8 80.6 L155.9 80.7 L156.1 80.7 L156.2 80.8 L156.4 80.9 L156.6 80.9 L156.7 81.0 L156.9 81.1 L157.0 81.2 L157.2 81.2 L157.3 81.3 L157.5 81.4 L157.7 81.4 L157.8 81.5 L158.0 81.6 L158.2 81.6 L158.3 81.7 L158.5 81.7 L158.6 81.8 L158.8 81.9 L159.0 81.9 L159.1 82.0 L159.3 82.1 L159.5 82.1 L159.6 82.2 L159.8 82.2 L160.0 82.3 L160.1 82.3 L160.3 82.4 L160.5 82.4 L160.6 82.5 L160.8 82.5 L161.0 82.6 L161.1 82.7 L161.3 82.7 L161.5 82.8 L161.6 82.8 L161.8 82.8 L162.0 82.9 L162.2 82.9 L162.3 83.0 L162.5 83.0 L162.7 83.1 L162.8 83.1 L163.0 83.2 L163.2 83.2 L163.3 83.2 L163.5 83.3 L163.7 83.3 L163.9 83.4 L164.0 83.4 L164.2 83.4 L164.4 83.5 L164.6 83.5 L164.7 83.6 L164.9 83.6 L165.1 83.6 L165.3 83.7 L165.4 83.7 L165.6 83.7 L165.8 83.8 L166.0 83.8 L166.1 83.8 L166.3 83.8 L166.5 83.9 L166.6 83.9 L166.8 83.9 L167.0 84.0 L167.2 84.0 L167.4 84.0 L167.5 84.0 L167.7 84.1 L167.9 84.1 L168.1 84.1 L168.2 84.1 L168.4 84.2 L168.6 84.2 L168.8 84.2 L168.9 84.2 L169.1 84.2 L169.3 84.3 L169.5 84.3 L169.6 84.3 L169.8 84.3 L170.0 84.3 L170.2 84.4 L170.4 84.4 L170.5 84.4 L170.7 84.4 L170.9 84.4 L171.1 84.4 L171.2 84.4 L171.4 84.5 L171.6 84.5 L171.8 84.5 L172.0 84.5 L172.1 84.5 L172.3 84.5 L172.5 84.5 L172.7 84.6 L172.8 84.6 L173.0 84.6 L173.2 84.6 L173.4 84.6 L173.6 84.6 L173.7 84.6 L173.9 84.6 L174.1 84.6 L174.3 84.6 L174.5 84.6 L174.6 84.7 L174.8 84.7 L175.0 84.7 L175.2 84.7 L175.4 84.7 L175.5 84.7 L175.7 84.7 L175.9 84.7 L176.1 84.7 L176.3 84.7 L176.4 84.7 L176.6 84.7 L176.8 84.7 L177.0 84.7 L177.2 84.7 L177.3 84.7 L177.5 84.7 L177.7 84.7 L177.9 84.7 L178.1 84.7 L178.2 84.8 L178.4 84.8 L178.6 84.8 L178.8 84.8 L179.0 84.8 L179.1 84.8 L179.3 84.8 L179.5 84.8 L179.7 84.8 L179.9 84.8 L180.0 84.8 L180.2 84.8 L180.4 84.8 L180.6 84.8 L180.8 84.8 L181.0 84.8 L181.1 84.8 L181.3 84.8 L181.5 84.8 L181.7 84.8 L181.9 84.8 L182.0 84.8 L182.2 84.8 L182.4 84.8 L182.6 84.8 L182.8 84.8 L182.9 84.8 L183.1 84.8 L183.3 84.8 L183.5 84.8 L183.7 84.8 L183.8 84.8 L184.0 84.8 L184.2 84.8 L184.4 84.8 L184.6 84.8 L184.7 84.8 L184.9 84.8 L185.1 84.8 L185.3 84.8 L185.5 84.8 L186.0 84.6 L188.0 84.8 L190.0 84.9 L192.0 85.0 L193.9 85.1 L195.9 85.2 L197.9 85.4 L199.9 85.5 L201.9 85.6 L203.9 85.7 L205.8 85.9 L207.8 86.0 L209.8 86.1 L211.8 86.3 L213.8 86.4 L215.8 86.5 L217.7 86.6 L219.7 86.8 L221.7 86.9 L223.7 87.0 L225.7 87.2 L227.7 87.3 L229.6 87.4 L231.6 87.6 L233.6 87.7 L235.6 87.8 L237.6 87.9 L239.6 88.1 L241.5 88.2 L243.5 88.3 L245.5 88.5 L247.5 88.6 L249.5 88.7 L251.4 88.9 L253.4 89.0 L255.4 89.1 L257.4 89.3 L259.4 89.4 L261.4 89.5 L263.3 89.6 L265.3 89.8 L267.3 89.9 L269.3 90.0 L271.3 90.2 L273.3 90.3 L275.2 90.4 L277.2 90.5 L279.2 90.7 L281.2 90.8 L283.2 90.9 L285.2 91.0 L287.1 91.1 L289.1 91.3 L291.1 91.4 L293.1 91.5 L295.1 91.6 L297.1 91.7 L299.0 91.8 L301.0 92.0 L303.0 92.1 L305.0 92.2 L307.0 92.3 L309.0 92.4 L310.9 92.5 L312.9 92.6 L314.9 92.7 L316.9 92.8 L318.9 92.9 L320.9 93.0 L322.8 93.1 L324.8 93.2 L326.8 93.3 L328.8 93.4 L330.8 93.5 L332.8 93.6 L334.8 93.7 L336.7 93.7 L338.7 93.8 L340.7 93.9 L342.7 94.0 L344.7 94.1 L346.7 94.1 L348.7 94.2 L350.6 94.3 L352.6 94.3 L354.6 94.4 L356.6 94.5 L358.6 94.5 L360.6 94.6 L362.6 94.6 L364.5 94.7 L366.5 94.8 L368.5 94.8 L370.5 94.9 L372.5 94.9 L374.5 95.0 L376.5 95.0 L378.4 95.1 L380.4 95.1 L382.4 95.1 L384.4 95.2 L386.4 95.2 L388.4 95.3 L390.4 95.3 L392.4 95.4 L394.3 95.4 L396.3 95.4 L398.3 95.5 L400.3 95.5 L402.3 95.5 L404.3 95.6 L406.3 95.6 L408.3 95.6 L410.2 95.7 L412.2 95.7 L414.2 95.7 L416.2 95.8 L418.2 95.8 L420.2 95.8 L422.2 95.8 L424.2 95.9 L426.1 95.9 L428.1 95.9 L430.1 96.0 L432.1 96.0 L434.1 96.0 L436.1 96.0 L438.1 96.1 L440.1 96.1 L442.0 96.1 L444.0 96.2 L446.0 96.2 L448.0 96.2 L450.0 96.3 L452.0 96.3 L454.0 96.3 L456.0 96.4 L457.9 96.4 L459.9 96.4 L461.9 96.5 L463.9 96.5 L465.9 96.5 L467.9 96.6 L469.9 96.6 L471.9 96.6 L473.8 96.7 L475.8 96.7 L477.8 96.8 L479.8 96.8 L481.8 96.9 L483.8 96.9 L485.8 97.0 L487.7 97.0 L489.7 97.1 L491.7 97.1 L493.7 97.2 L495.7 97.2 L497.7 97.3 L499.7 97.3 L501.6 97.4 L503.6 97.5 L505.6 97.5 L507.6 97.6 L509.6 97.7 L511.6 97.7 L513.6 97.8 L515.5 97.9 L517.5 98.0 L519.5 98.0 L521.5 98.1 L523.5 98.2 L525.5 98.3 L527.5 98.4 L529.4 98.4 L531.4 98.5 L533.4 98.6 L535.4 98.7 L537.4 98.8 L539.4 98.9 L541.3 99.0 L543.3 99.1 L545.3 99.2 L547.3 99.3 L549.3 99.4 L551.3 99.5 L553.2 99.6 L555.2 99.7 L557.2 99.8 L559.2 99.9 L561.2 100.0 L563.2 100.2 L565.1 100.3 L567.1 100.4 L569.1 100.5 L571.1 100.6 L573.1 100.8 L575.0 100.9 L577.0 101.0 L579.0 101.1 L581.0 101.3 L583.0 101.4 L585.0 101.5 L586.9 101.7 L588.9 101.8 L590.9 101.9 L592.9 102.1 L594.9 102.2 L596.8 102.4 L598.8 102.5 L600.8 102.7 L602.8 102.8 L604.8 103.0 L606.7 103.1 L608.7 103.3 L610.7 103.4 L612.7 103.6 L614.7 103.7 L616.6 103.9 L618.6 104.0 L620.6 104.2 L622.6 104.4 L624.6 104.5 L626.5 104.7 L628.5 104.9 L630.5 105.1 L632.5 105.2 L634.5 105.4 L636.4 105.6 L638.4 105.8 L640.4 105.9 L642.4 106.1 L644.4 106.3 L646.3 106.5 L648.3 106.7 L650.3 106.9 L652.3 107.1 L654.2 107.2 L656.2 107.4 L658.2 107.6 L660.2 107.8 L662.2 108.0 L664.1 108.2 L666.1 108.4 L668.1 108.6 L670.1 108.8 L672.0 109.1 L674.0 109.3 L676.0 109.5 L678.0 109.7 L679.9 109.9 L681.9 110.1 L683.9 110.3 L685.9 110.6 L687.8 110.8 L689.8 111.0 L691.8 111.2 L693.8 111.4 L695.7 111.7 L697.7 111.9 L699.7 112.1 L701.7 112.4 L703.6 112.6 L705.6 112.8 L707.6 113.1 L709.6 113.3 L711.5 113.6 L713.5 113.8 L715.5 114.0 L717.5 114.3 L719.4 114.5 L721.4 114.8 L723.4 115.0 L725.4 115.3 L727.3 115.6 L729.3 115.8 L731.3 116.1 L733.2 116.3 L735.2 116.6 L737.2 116.9 L739.2 117.1 L741.1 117.4 L743.1 117.7 L745.1 117.9 L747.1 118.2 L749.0 118.5 L751.0 118.7 L753.0 119.0 L754.9 119.3 L756.9 119.6 L758.9 119.9 L760.9 120.1 L762.8 120.4 L764.8 120.7 L766.8 121.0 L768.7 121.3 L770.7 121.6 L772.7 121.9 L774.6 122.2 L776.6 122.5 L778.6 122.8 L780.6 123.1 L782.5 123.4 L784.5 123.7 L786.5 124.0 L788.4 124.3 L790.4 124.6 L792.4 124.9 L794.3 125.2 L796.3 125.5 L798.3 125.8 L800.2 126.2 L802.2 126.5 L804.1 126.9 L806.1 127.2 L808.0 127.6 L809.9 128.1 L811.8 128.5 L813.7 129.0 L815.6 129.5 L817.4 130.1 L819.3 130.7 L821.1 131.4 L822.8 132.1 L824.6 132.8 L826.3 133.7 L828.0 134.6 L829.6 135.5 L831.2 136.6 L832.8 137.7 L834.3 138.9 L835.8 140.2 L837.3 141.5 L838.7 143.0 L840.0 144.5 L841.3 146.1 L842.6 147.8 L843.9 149.5 L845.2 151.2 L846.4 152.9 L847.6 154.6 L848.8 156.3 L850.0 158.0 L851.2 159.7 L852.4 161.4 L853.6 163.1 L854.8 164.7 L856.0 166.4 L857.1 168.0 L858.3 169.7 L859.4 171.3 L860.5 173.0 L861.6 174.6 L862.7 176.3 L863.7 177.9 L864.8 179.6 L865.8 181.3 L866.8 182.9 L867.8 184.6 L868.7 186.3 L869.7 188.0 L870.6 189.8 L871.5 191.5 L872.3 193.3 L873.2 195.0 L874.0 196.8 L874.8 198.6 L875.6 200.4 L876.3 202.2 L877.1 204.0 L877.8 205.8 L878.5 207.6 L879.2 209.5 L879.8 211.3 L880.5 213.2 L881.1 215.0 L881.7 216.9 L882.3 218.8 L882.9 220.7 L883.4 222.6 L884.0 224.5 L884.5 226.4 L885.0 228.3 L885.5 230.2 L886.0 232.2 L886.5 234.1 L886.9 236.0 L887.3 238.0 L887.8 239.9 L888.2 241.9 L888.6 243.8 L889.0 245.8 L889.3 247.7 L889.7 249.7 L890.0 251.7 L890.4 253.7 L890.7 255.6 L891.0 257.6 L891.3 259.6 L891.6 261.6 L891.9 263.5 L892.2 265.5 L892.5 267.5 L892.8 269.5 L893.0 271.5 L893.3 273.4 L893.5 275.4 L893.7 277.4 L894.0 279.4 L894.2 281.4 L894.4 283.4 L894.6 285.3 L894.8 287.3 L895.0 289.3 L895.2 291.3 L895.4 293.3 L895.5 295.2 L895.7 297.2 L895.9 299.2 L896.0 301.2 L896.2 303.2 L896.3 305.2 L896.5 307.1 L896.6 309.1 L896.7 311.1 L896.8 313.1 L897.0 315.1 L897.1 317.0 L897.2 319.0 L897.3 321.0 L897.4 323.0 L897.5 325.0 L897.6 327.0 L897.7 328.9 L897.7 330.9 L897.8 332.9 L897.9 334.9 L898.0 336.9 L898.0 338.9 L898.1 340.8 L898.1 342.8 L898.2 344.8 L898.3 346.8 L898.3 348.8 L898.4 350.7 L898.4 352.7 L898.4 354.7 L898.5 356.7 L898.5 358.7 L898.6 360.7 L898.6 362.6 L898.6 364.6 L898.6 366.6 L898.7 368.6 L898.7 370.6 L898.7 372.6 L898.7 374.6 L898.8 376.5 L898.8 378.5 L898.8 380.5 L898.8 382.5 L898.8 384.5 L898.9 386.5 L898.9 388.4 L898.9 390.4 L898.9 392.4 L898.9 394.4 L898.9 396.4 L898.9 398.4 L899.0 400.4 L899.0 402.3 L899.0 404.3 L899.0 406.3 L899.0 408.3 L899.0 410.3 L899.0 412.3 L899.1 414.3 L899.1 416.3 L899.1 418.2 L899.1 420.2 L899.1 422.2 L899.2 424.2 L899.2 426.2 L899.2 428.2 L899.3 430.2 L899.3 432.2 L899.3 434.2 L899.4 436.1 L899.4 438.1 L899.4 440.1 L899.5 442.1 L899.5 444.1 L899.6 446.1 L899.6 448.1 L899.7 450.1 L899.7 452.1 L899.8 454.1 L899.9 456.1 L899.9 458.0 L900.0 460.0 L900.1 462.0" stroke="#77AC30"/>
<path d="M110.0 2.8 L110.6 25.0 L111.8 43.0 L112.7 52.8 L112.7 52.9 L112.7 53.1 L112.8 53.2 L112.8 53.4 L112.8 53.5 L112.8 53.7 L112.9 53.8 L112.9 54.0 L112.9 54.1 L112.9 54.2 L113.0 54.4 L113.0 54.5 L113.0 54.7 L113.0 54.8 L113.1 55.0 L113.1 55.1 L113.1 55.3 L113.1 55.4 L113.2 55.6 L113.2 55.7 L113.2 55.9 L113.3 56.0 L113.3 56.2 L113.3 56.3 L113.3 56.4 L113.4 56.6 L113.4 56.7 L113.4 56.9 L113.5 57.0 L113.5 57.2 L113.5 57.3 L113.6 57.5 L113.6 57.6 L113.6 57.8 L113.7 57.9 L113.7 58.1 L113.8 58.2 L113.8 58.3 L113.8 58.5 L113.9 58.6 L113.9 58.8 L114.0 58.9 L114.0 59.1 L114.0 59.2 L114.1 59.4 L114.1 59.5 L114.2 59.7 L114.2 59.8 L114.3 59.9 L114.3 60.1 L114.4 60.2 L114.4 60.4 L114.5 60.5 L114.6 60.7 L114.6 60.8 L114.7 60.9 L114.7 61.1 L114.8 61.2 L114.9 61.4 L114.9 61.5 L115.0 61.6 L115.1 61.8 L115.2 61.9 L115.2 62.0 L115.3 62.2 L115.4 62.3 L115.5 62.4 L115.6 62.5 L115.7 62.7 L115.8 62.8 L115.8 62.9 L115.9 63.0 L116.1 63.1 L116.2 63.2 L116.3 63.3 L116.4 63.4 L116.5 63.5 L116.6 63.6 L116.7 63.7 L116.9 63.8 L117.0 63.9 L117.1 64.0 L117.3 64.1 L117.4 64.1 L117.6 64.2 L117.7 64.3 L117.9 64.4 L118.0 64.4 L118.2 64.5 L118.3 64.5 L118.5 64.6 L118.7 64.6 L118.8 64.7 L119.0 64.7 L119.2 64.8 L119.4 64.8 L119.5 64.9 L119.7 64.9 L119.9 65.0 L120.1 65.0 L120.2 65.0 L120.4 65.1 L120.6 65.1 L120.8 65.1 L120.9 65.2 L121.1 65.2 L121.3 65.2 L121.5 65.3 L121.7 65.3 L121.8 65.3 L122.0 65.4 L122.2 65.4 L122.4 65.4 L122.5 65.5 L122.7 65.5 L122.9 65.5 L123.1 65.5 L123.3 65.6 L123.4 65.6 L123.6 65.6 L123.8 65.6 L124.0 65.7 L124.2 65.7 L124.3 65.7 L124.5 65.7 L124.7 65.8 L124.9 65.8 L125.1 65.8 L125.2 65.8 L125.4 65.9 L125.6 65.9 L125.8 65.9 L126.0 65.9 L126.1 65.9 L126.3 66.0 L126.5 66.0 L126.7 66.0 L126.9 66.0 L127.0 66.1 L127.2 66.1 L127.4 66.1 L127.6 66.1 L127.7 66.2 L127.9 66.2 L128.1 66.2 L128.3 66.3 L128.4 66.3 L128.6 66.3 L128.8 66.3 L129.0 66.4 L129.1 66.4 L129.3 66.4 L129.5 66.4 L129.7 66.5 L129.8 66.5 L130.0 66.5 L130.2 66.6 L130.4 66.6 L130.5 66.6 L130.7 66.7 L130.9 66.7 L131.1 66.7 L131.2 66.8 L131.4 66.8 L131.6 66.8 L131.7 66.8 L131.9 66.9 L132.1 66.9 L132.3 66.9 L132.4 67.0 L132.6 67.0 L132.8 67.0 L133.0 67.1 L133.1 67.1 L133.3 67.1 L133.5 67.2 L133.6 67.2 L133.8 67.2 L134.0 67.3 L134.2 67.3 L134.3 67.3 L134.5 67.4 L134.7 67.4 L134.9 67.4 L135.0 67.5 L135.2 67.5 L135.4 67.6 L135.6 67.6 L135.7 67.6 L135.9 67.7 L136.1 67.7 L136.3 67.7 L136.4 67.8 L136.6 67.8 L136.8 67.8 L137.0 67.9 L137.1 67.9 L137.3 67.9 L137.5 68.0 L137.7 68.0 L137.8 68.1 L138.0 68.1 L138.2 68.1 L138.4 68.2 L138.5 68.2 L138.7 68.2 L138.9 68.3 L139.1 68.3 L139.2 68.4 L139.4 68.4 L139.6 68.4 L139.8 68.5 L139.9 68.5 L140.1 68.6 L140.3 68.6 L140.5 68.6 L140.6 68.7 L140.8 68.7 L141.0 68.8 L141.2 68.8 L141.3 68.9 L141.5 68.9 L141.7 69.0 L141.9 69.0 L142.0 69.1 L142.2 69.1 L142.4 69.2 L142.5 69.2 L142.7 69.3 L142.9 69.3 L143.0 69.4 L143.2 69.4 L143.4 69.5 L143.5 69.5 L143.7 69.6 L143.9 69.7 L144.0 69.7 L144.2 69.8 L144.4 69.8 L144.5 69.9 L144.7 70.0 L144.8 70.0 L145.0 70.1 L145.1 70.2 L145.3 70.2 L145.5 70.3 L145.6 70.4 L145.8 70.5 L145.9 70.5 L146.1 70.6 L146.2 70.7 L146.4 70.8 L146.5 70.8 L146.7 70.9 L146.8 71.0 L146.9 71.1 L147.1 71.2 L147.2 71.3 L147.4 71.3 L147.5 71.4 L147.7 71.5 L147.8 71.6 L147.9 71.7 L148.1 71.8 L148.2 71.9 L148.3 72.0 L148.5 72.1 L148.6 72.2 L148.8 72.3 L148.9 72.4 L149.0 72.4 L149.2 72.5 L149.3 72.6 L149.4 72.7 L149.6 72.8 L149.7 72.9 L149.8 73.0 L149.9 73.1 L150.1 73.2 L150.2 73.3 L150.3 73.4 L150.5 73.6 L150.6 73.7 L150.7 73.8 L150.9 73.9 L151.0 74.0 L151.1 74.1 L151.2 74.2 L151.4 74.3 L151.5 74.4 L151.6 74.5 L151.7 74.6 L151.9 74.7 L152.0 74.8 L152.1 74.9 L152.2 75.0 L152.4 75.1 L152.5 75.3 L152.6 75.4 L152.7 75.5 L152.9 75.6 L153.0 75.7 L153.1 75.8 L153.2 75.9 L153.4 76.0 L153.5 76.1 L153.6 76.2 L153.7 76.4 L153.9 76.5 L154.0 76.6 L154.1 76.7 L154.2 76.8 L154.4 76.9 L154.5 77.0 L154.6 77.1 L154.7 77.2 L154.9 77.3 L155.0 77.4 L155.1 77.5 L155.2 77.7 L155.4 77.8 L155.5 77.9 L155.6 78.0 L155.7 78.1 L155.9 78.2 L156.0 78.3 L156.1 78.4 L156.3 78.5 L156.4 78.6 L156.5 78.7 L156.6 78.8 L156.8 78.9 L156.9 79.0 L157.0 79.1 L157.2 79.2 L157.3 79.3 L157.4 79.4 L157.6 79.5 L157.7 79.6 L157.8 79.7 L158.0 79.8 L158.1 79.9 L158.2 80.0 L158.4 80.1 L158.5 80.2 L158.6 80.3 L158.8 80.4 L158.9 80.5 L159.1 80.6 L159.2 80.6 L159.3 80.7 L159.5 80.8 L159.6 80.9 L159.8 81.0 L159.9 81.1 L160.0 81.2 L160.2 81.2 L160.3 81.3 L160.5 81.4 L160.6 81.5 L160.8 81.6 L160.9 81.6 L161.1 81.7 L161.2 81.8 L161.4 81.9 L161.5 81.9 L161.7 82.0 L161.8 82.1 L162.0 82.2 L162.1 82.2 L162.3 82.3 L162.4 82.4 L162.6 82.4 L162.8 82.5 L162.9 82.5 L163.1 82.6 L163.2 82.7 L163.4 82.7 L163.6 82.8 L163.7 82.8 L163.9 82.9 L164.1 82.9 L164.2 83.0 L164.4 83.0 L164.6 83.1 L164.7 83.1 L164.9 83.2 L165.1 83.2 L165.2 83.3 L165.4 83.3 L165.6 83.4 L165.8 83.4 L165.9 83.4 L166.1 83.5 L166.3 83.5 L166.4 83.6 L166.6 83.6 L166.8 83.6 L167.0 83.7 L167.2 83.7 L167.3 83.7 L167.5 83.8 L167.7 83.8 L167.9 83.8 L168.0 83.9 L168.2 83.9 L168.4 83.9 L168.6 83.9 L168.8 84.0 L168.9 84.0 L169.1 84.0 L169.3 84.0 L169.5 84.1 L169.7 84.1 L169.8 84.1 L170.0 84.1 L170.2 84.2 L170.4 84.2 L170.6 84.2 L170.8 84.2 L170.9 84.2 L171.1 84.2 L171.3 84.3 L171.5 84.3 L171.7 84.3 L171.9 84.3 L172.0 84.3 L172.2 84.3 L172.4 84.4 L172.6 84.4 L172.8 84.4 L172.9 84.4 L173.1 84.4 L173.3 84.4 L173.5 84.4 L173.7 84.4 L173.9 84.5 L174.0 84.5 L174.2 84.5 L174.4 84.5 L174.6 84.5 L174.8 84.5 L175.0 84.5 L175.1 84.5 L175.3 84.5 L175.5 84.5 L175.7 84.6 L175.9 84.6 L176.0 84.6 L176.2 84.6 L176.4 84.6 L176.6 84.6 L176.8 84.6 L176.9 84.6 L177.1 84.6 L177.3 84.6 L177.5 84.6 L177.7 84.6 L177.8 84.6 L178.0 84.6 L178.2 84.6 L178.4 84.7 L178.5 84.7 L178.7 84.7 L178.9 84.7 L179.1 84.7 L179.3 84.7 L179.4 84.7 L179.6 84.7 L179.8 84.7 L180.0 84.7 L180.1 84.7 L180.3 84.7 L180.5 84.7 L180.7 84.7 L180.8 84.7 L181.0 84.7 L181.2 84.7 L181.4 84.7 L181.6 84.7 L181.7 84.7 L181.9 84.7 L182.1 84.7 L182.3 84.7 L182.4 84.7 L182.6 84.7 L182.8 84.7 L183.0 84.7 L183.1 84.8 L183.3 84.8 L183.5 84.8 L183.7 84.8 L183.8 84.8 L184.0 84.8 L184.2 84.8 L184.4 84.8 L184.5 84.8 L184.7 84.8 L184.9 84.8 L185.1 84.8 L185.2 84.8 L185.4 84.8 L186.0 84.8 L187.9 84.9 L189.9 85.0 L191.9 85.1 L193.9 85.2 L195.8 85.3 L197.8 85.4 L199.8 85.5 L201.7 85.6 L203.7 85.7 L205.7 85.8 L207.7 85.9 L209.6 86.1 L211.6 86.2 L213.6 86.3 L215.5 86.4 L217.5 86.5 L219.5 86.7 L221.4 86.8 L223.4 86.9 L225.4 87.0 L227.3 87.2 L229.3 87.3 L231.3 87.4 L233.2 87.5 L235.2 87.7 L237.2 87.8 L239.1 87.9 L241.1 88.1 L243.1 88.2 L245.0 88.3 L247.0 88.5 L249.0 88.6 L250.9 88.7 L252.9 88.9 L254.9 89.0 L256.8 89.1 L258.8 89.3 L260.8 89.4 L262.7 89.5 L264.7 89.7 L266.7 89.8 L268.6 89.9 L270.6 90.1 L272.6 90.2 L274.5 90.3 L276.5 90.5 L278.5 90.6 L280.4 90.7 L282.4 90.9 L284.4 91.0 L286.3 91.1 L288.3 91.3 L290.3 91.4 L292.2 91.5 L294.2 91.6 L296.2 91.8 L298.1 91.9 L300.1 92.0 L302.1 92.1 L304.0 92.2 L306.0 92.3 L308.0 92.5 L309.9 92.6 L311.9 92.7 L313.9 92.8 L315.8 92.9 L317.8 93.0 L319.8 93.1 L321.7 93.2 L323.7 93.3 L325.7 93.4 L327.6 93.5 L329.6 93.6 L331.6 93.7 L333.5 93.8 L335.5 93.8 L337.5 93.9 L339.4 94.0 L341.4 94.1 L343.4 94.1 L345.4 94.2 L347.3 94.3 L349.3 94.4 L351.3 94.4 L353.2 94.5 L355.2 94.5 L357.2 94.6 L359.2 94.6 L361.1 94.7 L363.1 94.8 L365.1 94.8 L367.0 94.9 L369.0 94.9 L371.0 94.9 L373.0 95.0 L374.9 95.0 L376.9 95.1 L378.9 95.1 L380.8 95.1 L382.8 95.2 L384.8 95.2 L386.8 95.2 L388.7 95.3 L390.7 95.3 L392.7 95.3 L394.7 95.4 L396.6 95.4 L398.6 95.4 L400.6 95.5 L402.5 95.5 L404.5 95.5 L406.5 95.5 L408.5 95.6 L410.4 95.6 L412.4 95.6 L414.4 95.6 L416.4 95.7 L418.3 95.7 L420.3 95.7 L422.3 95.7 L424.2 95.8 L426.2 95.8 L428.2 95.8 L430.2 95.8 L432.1 95.8 L434.1 95.9 L436.1 95.9 L438.1 95.9 L440.0 95.9 L442.0 96.0 L444.0 96.0 L446.0 96.0 L447.9 96.1 L449.9 96.1 L451.9 96.1 L453.8 96.1 L455.8 96.2 L457.8 96.2 L459.8 96.2 L461.7 96.3 L463.7 96.3 L465.7 96.4 L467.6 96.4 L469.6 96.4 L471.6 96.5 L473.6 96.5 L475.5 96.6 L477.5 96.6 L479.5 96.7 L481.4 96.7 L483.4 96.8 L485.4 96.8 L487.3 96.9 L489.3 96.9 L491.3 97.0 L493.3 97.0 L495.2 97.1 L497.2 97.2 L499.2 97.2 L501.1 97.3 L503.1 97.4 L505.1 97.5 L507.0 97.5 L509.0 97.6 L511.0 97.7 L512.9 97.8 L514.9 97.9 L516.9 97.9 L518.8 98.0 L520.8 98.1 L522.8 98.2 L524.7 98.3 L526.7 98.4 L528.7 98.5 L530.6 98.6 L532.6 98.7 L534.6 98.8 L536.5 98.9 L538.5 99.0 L540.5 99.1 L542.4 99.2 L544.4 99.3 L546.4 99.4 L548.3 99.5 L550.3 99.7 L552.2 99.8 L554.2 99.9 L556.2 100.0 L558.1 100.1 L560.1 100.3 L562.1 100.4 L564.0 100.5 L566.0 100.6 L568.0 100.8 L569.9 100.9 L571.9 101.0 L573.8 101.2 L575.8 101.3 L577.8 101.4 L579.7 101.6 L581.7 101.7 L583.7 101.9 L585.6 102.0 L587.6 102.2 L589.6 102.3 L591.5 102.5 L593.5 102.6 L595.4 102.8 L597.4 102.9 L599.4 103.1 L601.3 103.2 L603.3 103.4 L605.3 103.5 L607.2 103.7 L609.2 103.9 L611.1 104.0 L613.1 104.2 L615.1 104.4 L617.0 104.5 L619.0 104.7 L620.9 104.9 L622.9 105.1 L624.9 105.2 L626.8 105.4 L628.8 105.6 L630.8 105.8 L632.7 106.0 L634.7 106.1 L636.6 106.3 L638.6 106.5 L640.6 106.7 L642.5 106.9 L644.5 107.1 L646.5 107.3 L648.4 107.5 L650.4 107.7 L652.3 107.9 L654.3 108.1 L656.3 108.2 L658.2 108.4 L660.2 108.6 L662.1 108.9 L664.1 109.1 L666.1 109.3 L668.0 109.5 L670.0 109.7 L672.0 109.9 L673.9 110.1 L675.9 110.3 L677.8 110.5 L679.8 110.7 L681.8 110.9 L683.7 111.2 L685.7 111.4 L687.7 111.6 L689.6 111.8 L691.6 112.0 L693.5 112.3 L695.5 112.5 L697.5 112.7 L699.4 112.9 L701.4 113.2 L703.4 113.4 L705.3 113.6 L707.3 113.9 L709.2 114.1 L711.2 114.3 L713.2 114.6 L715.1 114.8 L717.1 115.0 L719.1 115.3 L721.0 115.5 L723.0 115.7 L725.0 116.0 L726.9 116.2 L728.9 116.5 L730.8 116.7 L732.8 117.0 L734.8 117.2 L736.7 117.5 L738.7 117.7 L740.7 118.0 L742.6 118.2 L744.6 118.5 L746.6 118.7 L748.5 119.0 L750.5 119.2 L752.5 119.5 L754.4 119.7 L756.4 120.0 L758.4 120.2 L760.3 120.5 L762.3 120.8 L764.3 121.0 L766.2 121.3 L768.2 121.6 L770.2 121.8 L772.1 122.1 L774.1 122.4 L776.1 122.6 L778.0 122.9 L780.0 123.2 L782.0 123.4 L783.9 123.7 L785.9 124.0 L787.8 124.3 L789.8 124.6 L791.7 124.9 L793.7 125.3 L795.6 125.6 L797.5 126.0 L799.4 126.5 L801.3 126.9 L803.1 127.4 L805.0 128.0 L806.8 128.6 L808.6 129.3 L810.4 130.0 L812.1 130.7 L813.8 131.6 L815.5 132.4 L817.2 133.4 L818.8 134.4 L820.4 135.5 L821.9 136.6 L823.5 137.7 L825.0 138.9 L826.5 140.2 L827.9 141.5 L829.3 142.9 L830.7 144.2 L832.1 145.7 L833.4 147.1 L834.7 148.6 L836.0 150.1 L837.3 151.7 L838.5 153.3 L839.8 154.8 L841.0 156.4 L842.2 158.1 L843.4 159.7 L844.5 161.3 L845.7 163.0 L846.9 164.6 L848.0 166.2 L849.1 167.9 L850.2 169.6 L851.3 171.2 L852.4 172.9 L853.5 174.6 L854.5 176.3 L855.6 178.0 L856.6 179.7 L857.6 181.4 L858.5 183.1 L859.5 184.8 L860.4 186.6 L861.3 188.3 L862.2 190.1 L863.1 191.8 L863.9 193.6 L864.8 195.4 L865.6 197.2 L866.3 199.0 L867.1 200.8 L867.9 202.6 L868.6 204.4 L869.3 206.2 L870.0 208.0 L870.7 209.9 L871.3 211.7 L872.0 213.6 L872.6 215.4 L873.2 217.3 L873.8 219.1 L874.4 221.0 L875.0 222.9 L875.5 224.8 L876.0 226.6 L876.6 228.5 L877.1 230.4 L877.5 232.3 L878.0 234.2 L878.5 236.1 L878.9 238.0 L879.4 240.0 L879.8 241.9 L880.2 243.8 L880.6 245.7 L881.0 247.7 L881.3 249.6 L881.7 251.5 L882.0 253.5 L882.4 255.4 L882.7 257.3 L883.0 259.3 L883.3 261.2 L883.6 263.2 L883.9 265.1 L884.2 267.1 L884.5 269.0 L884.7 271.0 L885.0 272.9 L885.2 274.9 L885.5 276.8 L885.7 278.8 L885.9 280.7 L886.1 282.7 L886.3 284.6 L886.5 286.6 L886.7 288.6 L886.9 290.5 L887.1 292.5 L887.3 294.4 L887.4 296.4 L887.6 298.4 L887.7 300.3 L887.9 302.3 L888.0 304.3 L888.1 306.2 L888.3 308.2 L888.4 310.2 L888.5 312.1 L888.6 314.1 L888.7 316.1 L888.8 318.0 L888.9 320.0 L889.0 322.0 L889.1 323.9 L889.1 325.9 L889.2 327.9 L889.3 329.9 L889.4 331.8 L889.4 333.8 L889.5 335.8 L889.5 337.8 L889.6 339.7 L889.6 341.7 L889.7 343.7 L889.7 345.6 L889.8 347.6 L889.8 349.6 L889.8 351.6 L889.9 353.5 L889.9 355.5 L889.9 357.5 L889.9 359.5 L889.9 361.5 L890.0 363.4 L890.0 365.4 L890.0 367.4 L890.0 369.4 L890.0 371.3 L890.0 373.3 L890.0 375.3 L890.0 377.3 L890.1 379.2 L890.1 381.2 L890.1 383.2 L890.1 385.2 L890.1 387.1 L890.1 389.1 L890.1 391.1 L890.1 393.1 L890.1 395.0 L890.1 397.0 L890.1 399.0 L890.1 401.0 L890.1 402.9 L890.1 404.9 L890.2 406.9 L890.2 408.9 L890.2 410.8 L890.2 412.8 L890.2 414.8 L890.2 416.7 L890.3 418.7 L890.3 420.7 L890.3 422.7 L890.3 424.6 L890.4 426.6 L890.4 428.6 L890.4 430.5 L890.5 432.5 L890.5 434.5 L890.6 436.4 L890.6 438.4 L890.7 440.4 L890.7 442.3 L890.8 444.3 L890.8 446.3 L890.9 448.2 L891.0 450.2 L891.1 452.1 L891.1 454.1 L891.2 456.1 L891.3 458.0 L891.4 460.0 L891.5 461.9" stroke="#4DBEEE"/>
<path d="M110.0 2.8 L110.7 25.0 L112.0 43.0 L112.9 52.8 L112.9 52.9 L112.9 53.1 L113.0 53.2 L113.0 53.4 L113.0 53.5 L113.1 53.7 L113.1 53.8 L113.1 54.0 L113.2 54.1 L113.2 54.3 L113.2 54.4 L113.3 54.6 L113.3 54.7 L113.3 54.9 L113.4 55.0 L113.4 55.2 L113.4 55.3 L113.5 55.5 L113.5 55.7 L113.5 55.8 L113.6 56.0 L113.6 56.1 L113.6 56.3 L113.7 56.4 L113.7 56.6 L113.7 56.7 L113.8 56.9 L113.8 57.0 L113.8 57.2 L113.9 57.3 L113.9 57.5 L113.9 57.6 L114.0 57.8 L114.0 57.9 L114.1 58.1 L114.1 58.2 L114.1 58.4 L114.2 58.5 L114.2 58.7 L114.3 58.8 L114.3 59.0 L114.4 59.1 L114.4 59.3 L114.5 59.5 L114.5 59.6 L114.6 59.7 L114.6 59.9 L114.7 60.0 L114.7 60.2 L114.8 60.3 L114.9 60.5 L114.9 60.6 L115.0 60.8 L115.1 60.9 L115.2 61.0 L115.2 61.2 L115.3 61.3 L115.4 61.4 L115.5 61.5 L115.6 61.7 L115.7 61.8 L115.8 61.9 L115.8 62.0 L116.0 62.1 L116.1 62.3 L116.2 62.4 L116.3 62.5 L116.4 62.6 L116.5 62.7 L116.6 62.8 L116.8 62.9 L116.9 62.9 L117.1 63.0 L117.2 63.1 L117.3 63.2 L117.5 63.3 L117.6 63.3 L117.8 63.4 L118.0 63.5 L118.1 63.5 L118.3 63.6 L118.5 63.7 L118.6 63.7 L118.8 63.8 L119.0 63.8 L119.2 63.9 L119.3 63.9 L119.5 64.0 L119.7 64.0 L119.9 64.1 L120.1 64.1 L120.3 64.1 L120.4 64.2 L120.6 64.2 L120.8 64.2 L121.0 64.3 L121.2 64.3 L121.4 64.3 L121.6 64.4 L121.8 64.4 L121.9 64.4 L122.1 64.4 L122.3 64.5 L122.5 64.5 L122.7 64.5 L122.9 64.5 L123.1 64.6 L123.3 64.6 L123.5 64.6 L123.6 64.6 L123.8 64.7 L124.0 64.7 L124.2 64.7 L124.4 64.7 L124.6 64.7 L124.8 64.8 L125.0 64.8 L125.1 64.8 L125.3 64.8 L125.5 64.8 L125.7 64.9 L125.9 64.9 L126.1 64.9 L126.3 64.9 L126.4 65.0 L126.6 65.0 L126.8 65.0 L127.0 65.0 L127.2 65.0 L127.4 65.1 L127.6 65.1 L127.7 65.1 L127.9 65.1 L128.1 65.1 L128.3 65.2 L128.5 65.2 L128.7 65.2 L128.8 65.2 L129.0 65.2 L129.2 65.3 L129.4 65.3 L129.6 65.3 L129.8 65.3 L129.9 65.3 L130.1 65.4 L130.3 65.4 L130.5 65.4 L130.7 65.4 L130.8 65.5 L131.0 65.5 L131.2 65.5 L131.4 65.5 L131.6 65.5 L131.8 65.6 L131.9 65.6 L132.1 65.6 L132.3 65.6 L132.5 65.7 L132.7 65.7 L132.8 65.7 L133.0 65.7 L133.2 65.8 L133.4 65.8 L133.6 65.8 L133.7 65.8 L133.9 65.9 L134.1 65.9 L134.3 65.9 L134.5 65.9 L134.6 66.0 L134.8 66.0 L135.0 66.0 L135.2 66.1 L135.4 66.1 L135.5 66.1 L135.7 66.1 L135.9 66.2 L136.1 66.2 L136.3 66.2 L136.4 66.3 L136.6 66.3 L136.8 66.3 L137.0 66.4 L137.2 66.4 L137.3 66.4 L137.5 66.5 L137.7 66.5 L137.9 66.5 L138.0 66.6 L138.2 66.6 L138.4 66.6 L138.6 66.7 L138.8 66.7 L138.9 66.8 L139.1 66.8 L139.3 66.8 L139.5 66.9 L139.7 66.9 L139.8 66.9 L140.0 67.0 L140.2 67.0 L140.4 67.1 L140.5 67.1 L140.7 67.2 L140.9 67.2 L141.1 67.2 L141.3 67.3 L141.4 67.3 L141.6 67.4 L141.8 67.4 L142.0 67.5 L142.1 67.5 L142.3 67.6 L142.5 67.6 L142.7 67.7 L142.9 67.7 L143.0 67.8 L143.2 67.8 L143.4 67.9 L143.6 68.0 L143.7 68.0 L143.9 68.1 L144.1 68.1 L144.3 68.2 L144.4 68.2 L144.6 68.3 L144.8 68.4 L145.0 68.4 L145.1 68.5 L145.3 68.5 L145.5 68.6 L145.6 68.7 L145.8 68.7 L146.0 68.8 L146.1 68.9 L146.3 68.9 L146.5 69.0 L146.6 69.1 L146.8 69.2 L147.0 69.2 L147.1 69.3 L147.3 69.4 L147.5 69.5 L147.6 69.5 L147.8 69.6 L147.9 69.7 L148.1 69.8 L148.3 69.9 L148.4 69.9 L148.6 70.0 L148.7 70.1 L148.9 70.2 L149.0 70.3 L149.2 70.4 L149.3 70.5 L149.5 70.6 L149.6 70.6 L149.8 70.7 L149.9 70.8 L150.0 70.9 L150.2 71.0 L150.3 71.1 L150.5 71.2 L150.6 71.3 L150.7 71.4 L150.9 71.5 L151.0 71.6 L151.1 71.7 L151.3 71.8 L151.4 72.0 L151.5 72.1 L151.7 72.2 L151.8 72.3 L151.9 72.4 L152.0 72.5 L152.2 72.6 L152.3 72.7 L152.4 72.9 L152.5 73.0 L152.6 73.1 L152.8 73.2 L152.9 73.3 L153.0 73.4 L153.1 73.6 L153.2 73.7 L153.4 73.8 L153.5 73.9 L153.6 74.0 L153.7 74.2 L153.8 74.3 L153.9 74.4 L154.0 74.5 L154.2 74.6 L154.3 74.8 L154.4 74.9 L154.5 75.0 L154.6 75.1 L154.7 75.3 L154.8 75.4 L155.0 75.5 L155.1 75.6 L155.2 75.7 L155.3 75.9 L155.4 76.0 L155.5 76.1 L155.6 76.2 L155.8 76.3 L155.9 76.5 L156.0 76.6 L156.1 76.7 L156.2 76.8 L156.3 76.9 L156.5 77.1 L156.6 77.2 L156.7 77.3 L156.8 77.4 L156.9 77.5 L157.1 77.6 L157.2 77.7 L157.3 77.9 L157.4 78.0 L157.6 78.1 L157.7 78.2 L157.8 78.3 L157.9 78.4 L158.1 78.5 L158.2 78.6 L158.3 78.7 L158.5 78.8 L158.6 78.9 L158.7 79.0 L158.9 79.1 L159.0 79.2 L159.2 79.3 L159.3 79.4 L159.4 79.5 L159.6 79.6 L159.7 79.7 L159.9 79.8 L160.0 79.9 L160.2 80.0 L160.3 80.1 L160.5 80.2 L160.6 80.2 L160.8 80.3 L160.9 80.4 L161.1 80.5 L161.2 80.6 L161.4 80.7 L161.5 80.7 L161.7 80.8 L161.8 80.9 L162.0 81.0 L162.2 81.1 L162.3 81.1 L162.5 81.2 L162.6 81.3 L162.8 81.4 L163.0 81.4 L163.1 81.5 L163.3 81.6 L163.5 81.6 L163.6 81.7 L163.8 81.8 L164.0 81.8 L164.1 81.9 L164.3 82.0 L164.5 82.0 L164.6 82.1 L164.8 82.2 L165.0 82.2 L165.1 82.3 L165.3 82.3 L165.5 82.4 L165.7 82.4 L165.8 82.5 L166.0 82.6 L166.2 82.6 L166.3 82.7 L166.5 82.7 L166.7 82.8 L166.9 82.8 L167.1 82.9 L167.2 82.9 L167.4 83.0 L167.6 83.0 L167.8 83.1 L167.9 83.1 L168.1 83.2 L168.3 83.2 L168.5 83.3 L168.7 83.3 L168.8 83.3 L169.0 83.4 L169.2 83.4 L169.4 83.5 L169.6 83.5 L169.7 83.5 L169.9 83.6 L170.1 83.6 L170.3 83.6 L170.5 83.7 L170.6 83.7 L170.8 83.8 L171.0 83.8 L171.2 83.8 L171.4 83.9 L171.6 83.9 L171.7 83.9 L171.9 83.9 L172.1 84.0 L172.3 84.0 L172.5 84.0 L172.7 84.1 L172.8 84.1 L173.0 84.1 L173.2 84.1 L173.4 84.2 L173.6 84.2 L173.8 84.2 L173.9 84.2 L174.1 84.2 L174.3 84.3 L174.5 84.3 L174.7 84.3 L174.9 84.3 L175.0 84.3 L175.2 84.4 L175.4 84.4 L175.6 84.4 L175.8 84.4 L176.0 84.4 L176.1 84.5 L176.3 84.5 L176.5 84.5 L176.7 84.5 L176.9 84.5 L177.1 84.5 L177.3 84.5 L177.4 84.6 L177.6 84.6 L177.8 84.6 L178.0 84.6 L178.2 84.6 L178.4 84.6 L178.5 84.6 L178.7 84.6 L178.9 84.6 L179.1 84.6 L179.3 84.7 L179.5 84.7 L179.7 84.7 L179.8 84.7 L180.0 84.7 L180.2 84.7 L180.4 84.7 L180.6 84.7 L180.8 84.7 L180.9 84.7 L181.1 84.7 L181.3 84.7 L181.5 84.7 L181.7 84.7 L181.9 84.7 L182.1 84.7 L182.2 84.8 L182.4 84.8 L182.6 84.8 L182.8 84.8 L183.0 84.8 L183.2 84.8 L183.3 84.8 L183.5 84.8 L183.7 84.8 L183.9 84.8 L184.1 84.8 L184.3 84.8 L184.5 84.8 L184.6 84.8 L184.8 84.8 L185.0 84.8 L185.2 84.8 L185.4 84.8 L186.0 84.7 L188.0 84.8 L189.9 84.9 L191.9 85.0 L193.8 85.1 L195.8 85.3 L197.7 85.4 L199.7 85.5 L201.6 85.6 L203.6 85.7 L205.6 85.8 L207.5 86.0 L209.5 86.1 L211.4 86.2 L213.4 86.3 L215.3 86.5 L217.3 86.6 L219.2 86.7 L221.2 86.8 L223.2 87.0 L225.1 87.1 L227.1 87.2 L229.0 87.3 L231.0 87.5 L232.9 87.6 L234.9 87.7 L236.8 87.9 L238.8 88.0 L240.7 88.1 L242.7 88.2 L244.7 88.4 L246.6 88.5 L248.6 88.6 L250.5 88.8 L252.5 88.9 L254.4 89.0 L256.4 89.2 L258.3 89.3 L260.3 89.4 L262.2 89.6 L264.2 89.7 L266.2 89.8 L268.1 89.9 L270.1 90.1 L272.0 90.2 L274.0 90.3 L275.9 90.5 L277.9 90.6 L279.8 90.7 L281.8 90.8 L283.7 91.0 L285.7 91.1 L287.7 91.2 L289.6 91.3 L291.6 91.4 L293.5 91.6 L295.5 91.7 L297.4 91.8 L299.4 91.9 L301.3 92.0 L303.3 92.1 L305.2 92.2 L307.2 92.4 L309.2 92.5 L311.1 92.6 L313.1 92.7 L315.0 92.8 L317.0 92.9 L318.9 93.0 L320.9 93.1 L322.8 93.2 L324.8 93.3 L326.8 93.4 L328.7 93.5 L330.7 93.5 L332.6 93.6 L334.6 93.7 L336.5 93.8 L338.5 93.9 L340.5 94.0 L342.4 94.0 L344.4 94.1 L346.3 94.2 L348.3 94.3 L350.2 94.3 L352.2 94.4 L354.2 94.5 L356.1 94.5 L358.1 94.6 L360.0 94.6 L362.0 94.7 L363.9 94.7 L365.9 94.8 L367.9 94.9 L369.8 94.9 L371.8 95.0 L373.7 95.0 L375.7 95.0 L377.7 95.1 L379.6 95.1 L381.6 95.2 L383.5 95.2 L385.5 95.3 L387.4 95.3 L389.4 95.3 L391.4 95.4 L393.3 95.4 L395.3 95.4 L397.2 95.5 L399.2 95.5 L401.2 95.5 L403.1 95.6 L405.1 95.6 L407.0 95.6 L409.0 95.7 L411.0 95.7 L412.9 95.7 L414.9 95.7 L416.8 95.8 L418.8 95.8 L420.7 95.8 L422.7 95.9 L424.7 95.9 L426.6 95.9 L428.6 95.9 L430.5 96.0 L432.5 96.0 L434.5 96.0 L436.4 96.0 L438.4 96.1 L440.3 96.1 L442.3 96.1 L444.3 96.1 L446.2 96.2 L448.2 96.2 L450.1 96.2 L452.1 96.3 L454.1 96.3 L456.0 96.3 L458.0 96.4 L459.9 96.4 L461.9 96.4 L463.9 96.4 L465.8 96.5 L467.8 96.5 L469.7 96.6 L471.7 96.6 L473.6 96.6 L475.6 96.7 L477.6 96.7 L479.5 96.7 L481.5 96.8 L483.4 96.8 L485.4 96.9 L487.4 96.9 L489.3 97.0 L491.3 97.0 L493.2 97.1 L495.2 97.1 L497.1 97.2 L499.1 97.2 L501.1 97.3 L503.0 97.3 L505.0 97.4 L506.9 97.5 L508.9 97.5 L510.8 97.6 L512.8 97.7 L514.8 97.7 L516.7 97.8 L518.7 97.9 L520.6 98.0 L522.6 98.0 L524.5 98.1 L526.5 98.2 L528.5 98.3 L530.4 98.4 L532.4 98.5 L534.3 98.6 L536.3 98.7 L538.2 98.8 L540.2 98.9 L542.2 99.0 L544.1 99.1 L546.1 99.2 L548.0 99.3 L550.0 99.4 L551.9 99.5 L553.9 99.7 L555.8 99.8 L557.8 99.9 L559.7 100.0 L561.7 100.2 L563.7 100.3 L565.6 100.4 L567.6 100.6 L569.5 100.7 L571.5 100.8 L573.4 101.0 L575.4 101.1 L577.3 101.3 L579.3 101.4 L581.2 101.6 L583.2 101.7 L585.1 101.9 L587.1 102.1 L589.0 102.2 L591.0 102.4 L592.9 102.6 L594.9 102.7 L596.8 102.9 L598.8 103.1 L600.8 103.2 L602.7 103.4 L604.7 103.6 L606.6 103.8 L608.6 104.0 L610.5 104.2 L612.5 104.3 L614.4 104.5 L616.4 104.7 L618.3 104.9 L620.3 105.1 L622.2 105.3 L624.2 105.5 L626.1 105.7 L628.0 105.9 L630.0 106.1 L631.9 106.3 L633.9 106.5 L635.8 106.7 L637.8 106.9 L639.7 107.1 L641.7 107.3 L643.6 107.6 L645.6 107.8 L647.5 108.0 L649.5 108.2 L651.4 108.4 L653.4 108.6 L655.3 108.9 L657.3 109.1 L659.2 109.3 L661.2 109.5 L663.1 109.8 L665.0 110.0 L667.0 110.2 L668.9 110.5 L670.9 110.7 L672.8 110.9 L674.8 111.2 L676.7 111.4 L678.7 111.6 L680.6 111.9 L682.5 112.1 L684.5 112.3 L686.4 112.6 L688.4 112.8 L690.3 113.1 L692.3 113.3 L694.2 113.6 L696.1 113.8 L698.1 114.0 L700.0 114.3 L702.0 114.5 L703.9 114.8 L705.9 115.0 L707.8 115.3 L709.7 115.5 L711.7 115.8 L713.6 116.0 L715.6 116.3 L717.5 116.5 L719.4 116.8 L721.4 117.0 L723.3 117.3 L725.3 117.6 L727.2 117.8 L729.1 118.1 L731.1 118.3 L733.0 118.6 L734.9 118.8 L736.9 119.1 L738.8 119.3 L740.8 119.6 L742.7 119.9 L744.6 120.1 L746.6 120.4 L748.5 120.6 L750.4 120.9 L752.4 121.2 L754.3 121.4 L756.3 121.7 L758.2 121.9 L760.1 122.2 L762.1 122.5 L764.0 122.7 L766.0 123.0 L767.9 123.3 L769.9 123.5 L771.8 123.8 L773.8 124.0 L775.7 124.3 L777.7 124.6 L779.7 124.8 L781.6 125.1 L783.6 125.4 L785.6 125.7 L787.5 125.9 L789.5 126.2 L791.5 126.5 L793.5 126.8 L795.4 127.1 L797.4 127.4 L799.3 127.8 L801.2 128.3 L803.0 128.9 L804.8 129.5 L806.6 130.3 L808.3 131.1 L809.9 131.9 L811.6 132.9 L813.2 133.9 L814.7 135.0 L816.2 136.1 L817.7 137.3 L819.2 138.6 L820.6 139.8 L822.0 141.2 L823.4 142.5 L824.7 143.9 L826.0 145.4 L827.3 146.9 L828.6 148.3 L829.9 149.8 L831.1 151.4 L832.4 152.9 L833.6 154.5 L834.8 156.0 L836.0 157.6 L837.1 159.2 L838.3 160.8 L839.4 162.4 L840.5 164.1 L841.6 165.7 L842.7 167.4 L843.8 169.0 L844.8 170.7 L845.8 172.4 L846.9 174.1 L847.9 175.8 L848.8 177.5 L849.8 179.2 L850.8 180.9 L851.7 182.7 L852.6 184.4 L853.5 186.2 L854.4 187.9 L855.2 189.7 L856.1 191.5 L856.9 193.3 L857.7 195.1 L858.5 196.9 L859.3 198.7 L860.1 200.5 L860.8 202.3 L861.5 204.1 L862.2 205.9 L862.9 207.7 L863.6 209.6 L864.2 211.4 L864.9 213.2 L865.5 215.1 L866.1 216.9 L866.7 218.8 L867.3 220.7 L867.9 222.5 L868.4 224.4 L868.9 226.3 L869.5 228.1 L870.0 230.0 L870.5 231.9 L870.9 233.8 L871.4 235.7 L871.8 237.6 L872.3 239.5 L872.7 241.4 L873.1 243.3 L873.5 245.2 L873.9 247.1 L874.3 249.0 L874.7 250.9 L875.0 252.8 L875.3 254.7 L875.7 256.7 L876.0 258.6 L876.3 260.5 L876.6 262.4 L876.9 264.4 L877.2 266.3 L877.4 268.2 L877.7 270.2 L878.0 272.1 L878.2 274.1 L878.4 276.0 L878.6 277.9 L878.9 279.9 L879.1 281.8 L879.3 283.8 L879.5 285.7 L879.6 287.7 L879.8 289.7 L880.0 291.6 L880.2 293.6 L880.3 295.5 L880.5 297.5 L880.6 299.4 L880.7 301.4 L880.9 303.4 L881.0 305.3 L881.1 307.3 L881.2 309.2 L881.4 311.2 L881.5 313.2 L881.6 315.1 L881.7 317.1 L881.8 319.0 L881.8 321.0 L881.9 323.0 L882.0 324.9 L882.1 326.9 L882.2 328.8 L882.2 330.8 L882.3 332.8 L882.4 334.7 L882.5 336.7 L882.5 338.6 L882.6 340.6 L882.6 342.6 L882.7 344.5 L882.7 346.5 L882.8 348.4 L882.8 350.4 L882.9 352.4 L882.9 354.3 L883.0 356.3 L883.0 358.2 L883.0 360.2 L883.1 362.1 L883.1 364.1 L883.1 366.1 L883.2 368.0 L883.2 370.0 L883.2 371.9 L883.2 373.9 L883.3 375.8 L883.3 377.8 L883.3 379.8 L883.3 381.7 L883.4 383.7 L883.4 385.6 L883.4 387.6 L883.4 389.5 L883.4 391.5 L883.5 393.5 L883.5 395.4 L883.5 397.4 L883.5 399.3 L883.5 401.3 L883.5 403.2 L883.6 405.2 L883.6 407.2 L883.6 409.1 L883.6 411.1 L883.6 413.0 L883.6 415.0 L883.7 416.9 L883.7 418.9 L883.7 420.9 L883.7 422.8 L883.8 424.8 L883.8 426.7 L883.8 428.7 L883.8 430.6 L883.9 432.6 L883.9 434.6 L883.9 436.5 L884.0 438.5 L884.0 440.4 L884.0 442.4 L884.1 444.4 L884.1 446.3 L884.2 448.3 L884.2 450.2 L884.2 452.2 L884.3 454.2 L884.3 456.1 L884.4 458.1 L884.5 460.0 L884.5 462.0" stroke="#A2142F"/>
</g>
<rect x="109.8" y="52.8" width="73.7" height="48.7" fill="none" stroke="#000" stroke-width="3.7" stroke-linejoin="round"/>
<rect x="140.3" y="164.05" width="259.7" height="272.00" fill="#fff" stroke="#262626" stroke-width="2"/>
<rect x="400.0" y="164.05" width="338.5" height="272.00" fill="#fff"/>
<g clip-path="url(#ci)" fill="none" stroke-width="6.10" stroke-linejoin="round">
<path d="M408.1 134.0 L408.2 134.9 L408.3 135.8 L408.4 136.7 L408.5 137.6 L408.6 138.5 L408.7 139.4 L408.8 140.3 L408.9 141.2 L409.0 142.1 L409.1 143.0 L409.1 143.9 L409.2 144.8 L409.3 145.7 L409.4 146.6 L409.5 147.5 L409.6 148.4 L409.7 149.3 L409.8 150.2 L409.9 151.1 L410.0 152.0 L410.1 152.9 L410.1 153.8 L410.2 154.7 L410.3 155.6 L410.4 156.5 L410.5 157.4 L410.6 158.3 L410.7 159.2 L410.7 160.1 L410.8 161.0 L410.9 161.9 L411.0 162.8 L411.1 163.7 L411.2 164.6 L411.2 165.5 L411.3 166.4 L411.4 167.3 L411.5 168.2 L411.6 169.1 L411.7 170.0 L411.7 171.0 L411.8 171.9 L411.9 172.8 L412.0 173.7 L412.1 174.6 L412.2 175.5 L412.2 176.4 L412.3 177.3 L412.4 178.2 L412.5 179.1 L412.6 180.0 L412.7 180.9 L412.8 181.8 L412.9 182.7 L412.9 183.6 L413.0 184.5 L413.1 185.4 L413.2 186.3 L413.3 187.2 L413.4 188.1 L413.5 189.0 L413.6 189.9 L413.7 190.8 L413.8 191.7 L413.8 192.6 L413.9 193.5 L414.0 194.4 L414.1 195.3 L414.2 196.2 L414.3 197.1 L414.4 198.0 L414.5 198.9 L414.6 199.8 L414.7 200.7 L414.8 201.6 L414.9 202.5 L415.0 203.4 L415.1 204.3 L415.2 205.2 L415.4 206.1 L415.5 207.0 L415.6 207.9 L415.7 208.8 L415.8 209.7 L415.9 210.6 L416.0 211.5 L416.1 212.4 L416.3 213.3 L416.4 214.2 L416.5 215.1 L416.6 216.0 L416.7 216.9 L416.9 217.8 L417.0 218.7 L417.1 219.6 L417.3 220.5 L417.4 221.3 L417.5 222.2 L417.7 223.1 L417.8 224.0 L417.9 224.9 L418.1 225.8 L418.2 226.7 L418.4 227.6 L418.5 228.5 L418.6 229.4 L418.8 230.2 L418.9 231.1 L419.1 232.0 L419.3 232.9 L419.4 233.8 L419.6 234.7 L419.7 235.6 L419.9 236.4 L420.1 237.3 L420.2 238.2 L420.4 239.1 L420.6 240.0 L420.7 240.9 L420.9 241.7 L421.1 242.6 L421.3 243.5 L421.5 244.4 L421.6 245.3 L421.8 246.1 L422.0 247.0 L422.2 247.9 L422.4 248.8 L422.6 249.7 L422.8 250.5 L423.0 251.4 L423.2 252.3 L423.4 253.2 L423.6 254.0 L423.9 254.9 L424.1 255.8 L424.3 256.7 L424.5 257.5 L424.8 258.4 L425.0 259.3 L425.2 260.2 L425.5 261.0 L425.7 261.9 L425.9 262.8 L426.2 263.7 L426.4 264.5 L426.7 265.4 L426.9 266.3 L427.2 267.1 L427.5 268.0 L427.7 268.9 L428.0 269.8 L428.3 270.6 L428.6 271.5 L428.8 272.4 L429.1 273.2 L429.4 274.1 L429.7 275.0 L430.0 275.8 L430.3 276.7 L430.6 277.6 L430.9 278.4 L431.2 279.3 L431.5 280.2 L431.8 281.1 L432.2 281.9 L432.5 282.8 L432.8 283.7 L433.1 284.5 L433.5 285.4 L433.8 286.3 L434.2 287.1 L434.5 288.0 L434.9 288.9 L435.2 289.7 L435.6 290.6 L436.0 291.4 L436.3 292.3 L436.7 293.2 L437.1 294.0 L437.5 294.9 L437.9 295.7 L438.3 296.6 L438.7 297.4 L439.1 298.3 L439.5 299.1 L439.9 299.9 L440.4 300.8 L440.8 301.6 L441.2 302.4 L441.7 303.2 L442.1 304.0 L442.6 304.8 L443.1 305.6 L443.5 306.4 L444.0 307.2 L444.5 308.0 L445.0 308.7 L445.5 309.5 L446.0 310.3 L446.5 311.0 L447.0 311.8 L447.5 312.5 L448.1 313.2 L448.6 313.9 L449.2 314.6 L449.7 315.3 L450.3 316.0 L450.9 316.7 L451.5 317.4 L452.0 318.0 L452.6 318.7 L453.2 319.3 L453.9 319.9 L454.5 320.5 L455.1 321.1 L455.8 321.7 L456.4 322.3 L457.1 322.9 L457.7 323.4 L458.4 324.0 L459.1 324.5 L459.8 325.0 L460.5 325.5 L461.2 326.0 L461.9 326.5 L462.6 327.0 L463.4 327.4 L464.1 327.9 L464.8 328.3 L465.6 328.8 L466.4 329.2 L467.1 329.6 L467.9 330.0 L468.7 330.4 L469.5 330.8 L470.2 331.2 L471.0 331.5 L471.8 331.9 L472.6 332.3 L473.5 332.6 L474.3 332.9 L475.1 333.3 L475.9 333.6 L476.8 333.9 L477.6 334.2 L478.4 334.5 L479.3 334.8 L480.1 335.0 L481.0 335.3 L481.8 335.6 L482.7 335.8 L483.6 336.1 L484.4 336.3 L485.3 336.6 L486.2 336.8 L487.1 337.0 L488.0 337.2 L488.8 337.4 L489.7 337.6 L490.6 337.8 L491.5 338.0 L492.4 338.2 L493.3 338.4 L494.2 338.6 L495.1 338.8 L496.0 338.9 L496.9 339.1 L497.8 339.2 L498.7 339.4 L499.6 339.5 L500.5 339.7 L501.5 339.8 L502.4 340.0 L503.3 340.1 L504.2 340.2 L505.1 340.3 L506.0 340.5 L506.9 340.6 L507.9 340.7 L508.8 340.8 L509.7 340.9 L510.6 341.0 L511.5 341.1 L512.4 341.2 L513.3 341.3 L514.2 341.4 L515.2 341.5 L516.1 341.6 L517.0 341.7 L517.9 341.8 L518.8 341.8 L519.7 341.9 L520.6 342.0 L521.5 342.1 L522.4 342.1 L523.3 342.2 L524.3 342.3 L525.2 342.3 L526.1 342.4 L527.0 342.5 L527.9 342.5 L528.8 342.6 L529.7 342.6 L530.6 342.7 L531.5 342.7 L532.4 342.8 L533.3 342.8 L534.2 342.9 L535.2 342.9 L536.1 342.9 L537.0 343.0 L537.9 343.0 L538.8 343.0 L539.7 343.1 L540.6 343.1 L541.5 343.1 L542.4 343.2 L543.3 343.2 L544.2 343.2 L545.1 343.2 L546.0 343.2 L546.9 343.3 L547.8 343.3 L548.7 343.3 L549.6 343.3 L550.5 343.3 L551.5 343.3 L552.4 343.3 L553.3 343.4 L554.2 343.4 L555.1 343.4 L556.0 343.4 L556.9 343.4 L557.8 343.4 L558.7 343.4 L559.6 343.4 L560.5 343.4 L561.4 343.4 L562.3 343.4 L563.2 343.4 L564.1 343.4 L565.0 343.4 L565.9 343.4 L566.8 343.4 L567.7 343.4 L568.6 343.4 L569.5 343.4 L570.4 343.4 L571.3 343.4 L572.2 343.4 L573.2 343.4 L574.1 343.4 L575.0 343.4 L575.9 343.4 L576.8 343.4 L577.7 343.3 L578.6 343.3 L579.5 343.3 L580.4 343.3 L581.3 343.3 L582.2 343.3 L583.1 343.3 L584.0 343.3 L584.9 343.3 L585.8 343.3 L586.7 343.3 L587.6 343.3 L588.5 343.3 L589.4 343.3 L590.3 343.3 L591.2 343.3 L592.1 343.3 L593.0 343.2 L593.9 343.2 L594.8 343.2 L595.8 343.2 L596.7 343.2 L597.6 343.2 L598.5 343.2 L599.4 343.2 L600.3 343.2 L601.2 343.2 L602.1 343.2 L603.0 343.2 L603.9 343.2 L604.8 343.2 L605.7 343.2 L606.6 343.2 L607.5 343.2 L608.4 343.2 L609.3 343.2 L610.2 343.2 L611.1 343.2 L612.0 343.1 L612.9 343.1 L613.8 343.1 L614.8 343.1 L615.7 343.1 L616.6 343.1 L617.5 343.1 L618.4 343.1 L619.3 343.1 L620.2 343.1 L621.1 343.1 L622.0 343.1 L622.9 343.1 L623.8 343.1 L624.7 343.1 L625.6 343.1 L626.5 343.1 L627.4 343.1 L628.3 343.1 L629.2 343.1 L630.1 343.1 L631.0 343.1 L631.9 343.1 L632.9 343.1 L633.8 343.1 L634.7 343.1 L635.6 343.1 L636.5 343.1 L637.4 343.1 L638.3 343.1 L639.2 343.1 L640.1 343.0 L641.0 343.0 L641.9 343.0 L642.8 343.0 L643.7 343.0 L644.6 343.0 L645.5 343.0 L646.4 343.0 L647.3 343.0 L648.2 343.0 L649.2 343.0 L650.1 343.0 L651.0 343.0 L651.9 343.0 L652.8 343.0 L653.7 343.0 L654.6 343.0 L655.5 343.0 L656.4 343.0 L657.3 343.0 L658.2 343.0 L659.1 343.0 L660.0 343.0 L660.9 343.0 L661.8 343.0 L662.7 343.0 L663.6 343.0 L664.6 343.0 L665.5 343.0 L666.4 343.0 L667.3 343.0 L668.2 343.0 L669.1 343.0 L670.0 343.0 L670.9 343.0 L671.8 343.0 L672.7 343.0 L673.6 343.0 L674.5 343.0 L675.4 343.0 L676.3 343.0 L677.2 343.0 L678.1 343.0 L679.0 343.0 L679.9 343.0 L680.9 343.0 L681.8 343.0 L682.7 343.0 L683.6 343.0 L684.5 343.0 L685.4 343.0 L686.3 343.0 L687.2 343.0 L688.1 343.0 L689.0 343.0 L689.9 343.1 L690.8 343.1 L691.7 343.1 L692.6 343.1 L693.5 343.1 L694.4 343.1 L695.3 343.1 L696.3 343.1 L697.2 343.1 L698.1 343.1 L699.0 343.1 L699.9 343.1 L700.8 343.1 L701.7 343.1 L702.6 343.1 L703.5 343.1 L704.4 343.1 L705.3 343.1 L706.2 343.1 L707.1 343.1 L708.0 343.1 L708.9 343.1 L709.8 343.1 L710.7 343.1 L711.7 343.1 L712.6 343.1 L713.5 343.1 L714.4 343.2 L715.3 343.2 L716.2 343.2 L717.1 343.2 L718.0 343.2 L718.9 343.2 L719.8 343.2 L720.7 343.2 L721.6 343.2 L722.5 343.2 L723.4 343.2 L724.3 343.2 L725.2 343.2 L726.1 343.2 L727.0 343.2 L727.9 343.2 L728.9 343.3 L729.8 343.3 L730.7 343.3 L731.6 343.3 L732.5 343.3 L733.4 343.3 L734.3 343.3 L735.2 343.3 L736.1 343.3 L737.0 343.3 L737.9 343.3 L738.8 343.3 L739.7 343.3 L740.6 343.4 L741.5 343.4 L742.4 343.4 L743.3 343.4 L744.2 343.4 L745.1 343.4 L746.1 343.4 L747.0 343.4 L747.9 343.4 L748.8 343.4 L749.7 343.4 L750.6 343.5 L751.5 343.5 L752.4 343.5 L753.3 343.5 L754.2 343.5 L755.1 343.5 L756.0 343.5 L756.9 343.5 L757.8 343.5 L758.7 343.6 L759.6 343.6 L760.5 343.6 L761.4 343.6 L762.3 343.6 L763.2 343.6 L764.1 343.6 L765.1 343.6 L766.0 343.6 L766.9 343.7 L767.8 343.7 L768.7 343.7 L769.6 343.7 L770.5 343.7 L771.4 343.7 L772.3 343.7 L773.2 343.7 L774.1 343.8 L775.0 343.8 L775.9 343.8 L776.8 343.8 L777.7 343.8 L778.6 343.8 L779.5 343.8 L780.4 343.9 L781.3 343.9 L782.2 343.9 L783.1 343.9 L784.0 343.9 L784.9 343.9 L785.8 343.9 L786.7 344.0 L787.7 344.0 L788.6 344.0 L789.5 344.0 L790.4 344.0 L791.3 344.0 L792.2 344.1 L793.1 344.1 L794.0 344.1 L794.9 344.1 L795.8 344.1 L796.7 344.1" stroke="#0072BD"/>
<path d="M409.1 133.9 L409.3 134.8 L409.4 135.7 L409.6 136.6 L409.7 137.5 L409.9 138.4 L410.0 139.3 L410.1 140.1 L410.3 141.0 L410.4 141.9 L410.5 142.8 L410.7 143.7 L410.8 144.6 L410.9 145.5 L411.0 146.3 L411.1 147.2 L411.3 148.1 L411.4 149.0 L411.5 149.9 L411.6 150.8 L411.7 151.6 L411.8 152.5 L411.9 153.4 L412.0 154.3 L412.1 155.2 L412.2 156.1 L412.3 156.9 L412.4 157.8 L412.5 158.7 L412.6 159.6 L412.7 160.4 L412.7 161.3 L412.8 162.2 L412.9 163.1 L413.0 164.0 L413.1 164.8 L413.2 165.7 L413.2 166.6 L413.3 167.5 L413.4 168.3 L413.5 169.2 L413.6 170.1 L413.6 171.0 L413.7 171.8 L413.8 172.7 L413.9 173.6 L414.0 174.4 L414.0 175.3 L414.1 176.2 L414.2 177.1 L414.3 177.9 L414.3 178.8 L414.4 179.7 L414.5 180.5 L414.6 181.4 L414.6 182.3 L414.7 183.2 L414.8 184.0 L414.9 184.9 L414.9 185.8 L415.0 186.6 L415.1 187.5 L415.2 188.4 L415.2 189.2 L415.3 190.1 L415.4 191.0 L415.5 191.9 L415.6 192.7 L415.7 193.6 L415.7 194.5 L415.8 195.3 L415.9 196.2 L416.0 197.1 L416.1 197.9 L416.2 198.8 L416.3 199.7 L416.4 200.5 L416.5 201.4 L416.6 202.3 L416.7 203.1 L416.8 204.0 L416.9 204.9 L417.0 205.7 L417.1 206.6 L417.2 207.5 L417.3 208.3 L417.4 209.2 L417.5 210.1 L417.7 210.9 L417.8 211.8 L417.9 212.7 L418.0 213.5 L418.1 214.4 L418.3 215.3 L418.4 216.1 L418.5 217.0 L418.7 217.9 L418.8 218.7 L419.0 219.6 L419.1 220.5 L419.3 221.3 L419.4 222.2 L419.6 223.1 L419.7 223.9 L419.9 224.8 L420.1 225.7 L420.2 226.5 L420.4 227.4 L420.6 228.3 L420.8 229.1 L421.0 230.0 L421.1 230.9 L421.3 231.7 L421.5 232.6 L421.7 233.5 L421.9 234.3 L422.1 235.2 L422.4 236.1 L422.6 236.9 L422.8 237.8 L423.0 238.7 L423.2 239.5 L423.5 240.4 L423.7 241.3 L423.9 242.1 L424.2 243.0 L424.4 243.9 L424.7 244.7 L424.9 245.6 L425.2 246.4 L425.5 247.3 L425.7 248.2 L426.0 249.0 L426.3 249.9 L426.6 250.7 L426.8 251.6 L427.1 252.4 L427.4 253.3 L427.7 254.1 L428.0 255.0 L428.3 255.8 L428.6 256.7 L429.0 257.5 L429.3 258.4 L429.6 259.2 L429.9 260.1 L430.3 260.9 L430.6 261.7 L430.9 262.6 L431.3 263.4 L431.6 264.2 L432.0 265.0 L432.3 265.9 L432.7 266.7 L433.1 267.5 L433.4 268.3 L433.8 269.1 L434.2 270.0 L434.6 270.8 L435.0 271.6 L435.3 272.4 L435.7 273.2 L436.1 274.0 L436.5 274.8 L437.0 275.6 L437.4 276.4 L437.8 277.1 L438.2 277.9 L438.6 278.7 L439.1 279.5 L439.5 280.2 L440.0 281.0 L440.4 281.8 L440.9 282.5 L441.3 283.3 L441.8 284.1 L442.2 284.8 L442.7 285.6 L443.2 286.3 L443.7 287.0 L444.1 287.8 L444.6 288.5 L445.1 289.2 L445.6 289.9 L446.1 290.7 L446.6 291.4 L447.1 292.1 L447.7 292.8 L448.2 293.5 L448.7 294.2 L449.2 294.9 L449.8 295.6 L450.3 296.2 L450.9 296.9 L451.4 297.6 L452.0 298.3 L452.5 298.9 L453.1 299.6 L453.7 300.2 L454.2 300.9 L454.8 301.5 L455.4 302.2 L456.0 302.8 L456.6 303.4 L457.2 304.0 L457.8 304.6 L458.4 305.2 L459.0 305.8 L459.6 306.4 L460.3 307.0 L460.9 307.6 L461.5 308.2 L462.2 308.8 L462.8 309.3 L463.5 309.9 L464.1 310.4 L464.8 311.0 L465.4 311.5 L466.1 312.1 L466.8 312.6 L467.5 313.1 L468.2 313.6 L468.8 314.1 L469.5 314.6 L470.2 315.1 L471.0 315.6 L471.7 316.1 L472.4 316.6 L473.1 317.1 L473.8 317.5 L474.6 318.0 L475.3 318.4 L476.0 318.9 L476.8 319.3 L477.5 319.7 L478.3 320.1 L479.1 320.5 L479.8 320.9 L480.6 321.3 L481.4 321.7 L482.2 322.1 L482.9 322.5 L483.7 322.9 L484.5 323.3 L485.3 323.6 L486.1 324.0 L486.9 324.3 L487.7 324.7 L488.5 325.0 L489.3 325.3 L490.2 325.7 L491.0 326.0 L491.8 326.3 L492.6 326.6 L493.5 326.9 L494.3 327.2 L495.1 327.5 L496.0 327.8 L496.8 328.1 L497.7 328.4 L498.5 328.7 L499.3 328.9 L500.2 329.2 L501.1 329.4 L501.9 329.7 L502.8 330.0 L503.6 330.2 L504.5 330.4 L505.3 330.7 L506.2 330.9 L507.1 331.1 L508.0 331.4 L508.8 331.6 L509.7 331.8 L510.6 332.0 L511.4 332.2 L512.3 332.4 L513.2 332.6 L514.1 332.8 L514.9 333.0 L515.8 333.2 L516.7 333.4 L517.6 333.5 L518.5 333.7 L519.4 333.9 L520.2 334.1 L521.1 334.2 L522.0 334.4 L522.9 334.5 L523.8 334.7 L524.6 334.8 L525.5 335.0 L526.4 335.1 L527.3 335.3 L528.2 335.4 L529.1 335.6 L529.9 335.7 L530.8 335.8 L531.7 335.9 L532.6 336.1 L533.5 336.2 L534.3 336.3 L535.2 336.4 L536.1 336.5 L537.0 336.7 L537.9 336.8 L538.8 336.9 L539.6 337.0 L540.5 337.1 L541.4 337.2 L542.3 337.3 L543.1 337.4 L544.0 337.5 L544.9 337.6 L545.8 337.6 L546.7 337.7 L547.5 337.8 L548.4 337.9 L549.3 338.0 L550.2 338.1 L551.1 338.1 L551.9 338.2 L552.8 338.3 L553.7 338.3 L554.6 338.4 L555.4 338.5 L556.3 338.6 L557.2 338.6 L558.1 338.7 L559.0 338.7 L559.8 338.8 L560.7 338.9 L561.6 338.9 L562.5 339.0 L563.3 339.0 L564.2 339.1 L565.1 339.1 L566.0 339.2 L566.9 339.2 L567.7 339.3 L568.6 339.3 L569.5 339.4 L570.4 339.4 L571.2 339.5 L572.1 339.5 L573.0 339.6 L573.9 339.6 L574.8 339.6 L575.6 339.7 L576.5 339.7 L577.4 339.8 L578.3 339.8 L579.1 339.8 L580.0 339.9 L580.9 339.9 L581.8 340.0 L582.7 340.0 L583.5 340.0 L584.4 340.1 L585.3 340.1 L586.2 340.1 L587.0 340.2 L587.9 340.2 L588.8 340.3 L589.7 340.3 L590.6 340.3 L591.4 340.4 L592.3 340.4 L593.2 340.4 L594.1 340.5 L595.0 340.5 L595.8 340.5 L596.7 340.5 L597.6 340.6 L598.5 340.6 L599.4 340.6 L600.2 340.7 L601.1 340.7 L602.0 340.7 L602.9 340.8 L603.7 340.8 L604.6 340.8 L605.5 340.8 L606.4 340.9 L607.3 340.9 L608.1 340.9 L609.0 340.9 L609.9 341.0 L610.8 341.0 L611.7 341.0 L612.6 341.0 L613.4 341.1 L614.3 341.1 L615.2 341.1 L616.1 341.1 L617.0 341.1 L617.8 341.2 L618.7 341.2 L619.6 341.2 L620.5 341.2 L621.4 341.3 L622.2 341.3 L623.1 341.3 L624.0 341.3 L624.9 341.3 L625.8 341.3 L626.6 341.4 L627.5 341.4 L628.4 341.4 L629.3 341.4 L630.2 341.4 L631.0 341.4 L631.9 341.5 L632.8 341.5 L633.7 341.5 L634.6 341.5 L635.5 341.5 L636.3 341.5 L637.2 341.5 L638.1 341.6 L639.0 341.6 L639.9 341.6 L640.7 341.6 L641.6 341.6 L642.5 341.6 L643.4 341.6 L644.3 341.6 L645.2 341.6 L646.0 341.7 L646.9 341.7 L647.8 341.7 L648.7 341.7 L649.6 341.7 L650.4 341.7 L651.3 341.7 L652.2 341.7 L653.1 341.7 L654.0 341.7 L654.9 341.7 L655.7 341.7 L656.6 341.7 L657.5 341.7 L658.4 341.7 L659.3 341.8 L660.2 341.8 L661.0 341.8 L661.9 341.8 L662.8 341.8 L663.7 341.8 L664.6 341.8 L665.4 341.8 L666.3 341.8 L667.2 341.8 L668.1 341.8 L669.0 341.8 L669.9 341.8 L670.7 341.8 L671.6 341.8 L672.5 341.8 L673.4 341.8 L674.3 341.8 L675.1 341.8 L676.0 341.8 L676.9 341.8 L677.8 341.8 L678.7 341.8 L679.6 341.8 L680.4 341.7 L681.3 341.7 L682.2 341.7 L683.1 341.7 L684.0 341.7 L684.9 341.7 L685.7 341.7 L686.6 341.7 L687.5 341.7 L688.4 341.7 L689.3 341.7 L690.1 341.7 L691.0 341.7 L691.9 341.7 L692.8 341.7 L693.7 341.6 L694.6 341.6 L695.4 341.6 L696.3 341.6 L697.2 341.6 L698.1 341.6 L699.0 341.6 L699.8 341.6 L700.7 341.6 L701.6 341.6 L702.5 341.5 L703.4 341.5 L704.3 341.5 L705.1 341.5 L706.0 341.5 L706.9 341.5 L707.8 341.5 L708.7 341.4 L709.5 341.4 L710.4 341.4 L711.3 341.4 L712.2 341.4 L713.1 341.4 L714.0 341.4 L714.8 341.3 L715.7 341.3 L716.6 341.3 L717.5 341.3 L718.4 341.3 L719.2 341.2 L720.1 341.2 L721.0 341.2 L721.9 341.2 L722.8 341.2 L723.6 341.2 L724.5 341.1 L725.4 341.1 L726.3 341.1 L727.2 341.1 L728.1 341.1 L728.9 341.0 L729.8 341.0 L730.7 341.0 L731.6 341.0 L732.5 340.9 L733.3 340.9 L734.2 340.9 L735.1 340.9 L736.0 340.8 L736.9 340.8 L737.7 340.8 L738.6 340.8 L739.5 340.8 L740.4 340.7 L741.3 340.7 L742.1 340.7 L743.0 340.6 L743.9 340.6 L744.8 340.6 L745.7 340.6 L746.5 340.5 L747.4 340.5 L748.3 340.5 L749.2 340.5 L750.1 340.5 L750.9 340.4 L751.8 340.4 L752.7 340.4 L753.6 340.4 L754.4 340.3 L755.3 340.3 L756.2 340.3 L757.1 340.3 L758.0 340.3 L758.8 340.3 L759.7 340.2 L760.6 340.2 L761.5 340.2 L762.4 340.2 L763.2 340.2 L764.1 340.2 L765.0 340.2 L765.9 340.2 L766.8 340.2 L767.6 340.2 L768.5 340.2 L769.4 340.2 L770.3 340.2 L771.2 340.2 L772.0 340.2 L772.9 340.2 L773.8 340.2 L774.7 340.2 L775.6 340.3 L776.4 340.3 L777.3 340.3 L778.2 340.3 L779.1 340.4 L780.0 340.4 L780.8 340.4 L781.7 340.5 L782.6 340.5 L783.5 340.5 L784.4 340.6 L785.2 340.6 L786.1 340.7 L787.0 340.7 L787.9 340.8 L788.8 340.8 L789.6 340.9 L790.5 341.0 L791.4 341.0 L792.3 341.1 L793.2 341.2 L794.0 341.3 L794.9 341.4 L795.8 341.4 L796.7 341.5" stroke="#D95319"/>
<path d="M409.7 134.3 L409.8 135.1 L410.0 135.9 L410.1 136.7 L410.2 137.5 L410.4 138.4 L410.5 139.2 L410.7 140.0 L410.8 140.8 L410.9 141.6 L411.1 142.5 L411.2 143.3 L411.3 144.1 L411.4 144.9 L411.6 145.8 L411.7 146.6 L411.8 147.4 L411.9 148.3 L412.0 149.1 L412.1 149.9 L412.2 150.8 L412.3 151.6 L412.4 152.4 L412.6 153.3 L412.7 154.1 L412.8 155.0 L412.9 155.8 L413.0 156.7 L413.1 157.5 L413.2 158.4 L413.3 159.2 L413.3 160.0 L413.4 160.9 L413.5 161.7 L413.6 162.6 L413.7 163.5 L413.8 164.3 L413.9 165.2 L414.0 166.0 L414.1 166.9 L414.2 167.7 L414.3 168.6 L414.4 169.4 L414.4 170.3 L414.5 171.2 L414.6 172.0 L414.7 172.9 L414.8 173.7 L414.9 174.6 L415.0 175.5 L415.1 176.3 L415.2 177.2 L415.2 178.1 L415.3 178.9 L415.4 179.8 L415.5 180.6 L415.6 181.5 L415.7 182.4 L415.8 183.2 L415.9 184.1 L416.0 185.0 L416.1 185.8 L416.2 186.7 L416.3 187.6 L416.4 188.4 L416.5 189.3 L416.6 190.2 L416.7 191.0 L416.8 191.9 L416.9 192.7 L417.0 193.6 L417.1 194.5 L417.2 195.3 L417.3 196.2 L417.5 197.1 L417.6 197.9 L417.7 198.8 L417.8 199.7 L417.9 200.5 L418.1 201.4 L418.2 202.2 L418.3 203.1 L418.5 204.0 L418.6 204.8 L418.7 205.7 L418.9 206.5 L419.0 207.4 L419.2 208.2 L419.3 209.1 L419.5 210.0 L419.6 210.8 L419.8 211.7 L419.9 212.5 L420.1 213.4 L420.3 214.2 L420.4 215.1 L420.6 215.9 L420.8 216.8 L421.0 217.6 L421.1 218.5 L421.3 219.3 L421.5 220.2 L421.7 221.0 L421.9 221.8 L422.1 222.7 L422.3 223.5 L422.5 224.4 L422.7 225.2 L423.0 226.0 L423.2 226.9 L423.4 227.7 L423.6 228.5 L423.9 229.4 L424.1 230.2 L424.3 231.0 L424.6 231.9 L424.8 232.7 L425.1 233.5 L425.4 234.3 L425.6 235.2 L425.9 236.0 L426.2 236.8 L426.5 237.6 L426.7 238.4 L427.0 239.2 L427.3 240.0 L427.6 240.9 L427.9 241.7 L428.2 242.5 L428.5 243.3 L428.9 244.1 L429.2 244.9 L429.5 245.7 L429.8 246.4 L430.2 247.2 L430.5 248.0 L430.9 248.8 L431.2 249.6 L431.6 250.4 L431.9 251.2 L432.3 251.9 L432.7 252.7 L433.0 253.5 L433.4 254.2 L433.8 255.0 L434.2 255.8 L434.6 256.5 L435.0 257.3 L435.4 258.0 L435.8 258.8 L436.2 259.5 L436.6 260.2 L437.1 261.0 L437.5 261.7 L437.9 262.5 L438.4 263.2 L438.8 263.9 L439.3 264.6 L439.7 265.3 L440.2 266.0 L440.6 266.8 L441.1 267.5 L441.6 268.2 L442.0 268.9 L442.5 269.6 L443.0 270.2 L443.5 270.9 L444.0 271.6 L444.5 272.3 L445.0 273.0 L445.5 273.6 L446.1 274.3 L446.6 274.9 L447.1 275.6 L447.6 276.2 L448.2 276.9 L448.7 277.5 L449.3 278.2 L449.8 278.8 L450.4 279.4 L451.0 280.0 L451.5 280.7 L452.1 281.3 L452.7 281.9 L453.3 282.5 L453.9 283.1 L454.5 283.7 L455.1 284.2 L455.7 284.8 L456.3 285.4 L456.9 286.0 L457.5 286.5 L458.1 287.1 L458.8 287.6 L459.4 288.2 L460.0 288.7 L460.7 289.3 L461.3 289.8 L462.0 290.3 L462.7 290.9 L463.3 291.4 L464.0 291.9 L464.7 292.4 L465.3 292.9 L466.0 293.4 L466.7 293.9 L467.4 294.4 L468.1 294.9 L468.8 295.4 L469.5 295.9 L470.2 296.3 L470.9 296.8 L471.6 297.3 L472.3 297.7 L473.0 298.2 L473.8 298.7 L474.5 299.1 L475.2 299.6 L475.9 300.0 L476.7 300.4 L477.4 300.9 L478.2 301.3 L478.9 301.7 L479.6 302.2 L480.4 302.6 L481.2 303.0 L481.9 303.4 L482.7 303.8 L483.4 304.2 L484.2 304.6 L485.0 305.0 L485.7 305.4 L486.5 305.8 L487.3 306.2 L488.0 306.6 L488.8 307.0 L489.6 307.3 L490.4 307.7 L491.2 308.1 L491.9 308.5 L492.7 308.8 L493.5 309.2 L494.3 309.5 L495.1 309.9 L495.9 310.3 L496.7 310.6 L497.5 311.0 L498.3 311.3 L499.1 311.6 L499.9 312.0 L500.7 312.3 L501.5 312.7 L502.3 313.0 L503.1 313.3 L503.9 313.6 L504.7 314.0 L505.5 314.3 L506.3 314.6 L507.1 314.9 L508.0 315.3 L508.8 315.6 L509.6 315.9 L510.4 316.2 L511.2 316.5 L512.0 316.8 L512.8 317.1 L513.6 317.4 L514.5 317.7 L515.3 318.0 L516.1 318.3 L516.9 318.6 L517.7 318.9 L518.5 319.2 L519.4 319.5 L520.2 319.7 L521.0 320.0 L521.8 320.3 L522.6 320.6 L523.5 320.8 L524.3 321.1 L525.1 321.4 L525.9 321.7 L526.7 321.9 L527.6 322.2 L528.4 322.5 L529.2 322.7 L530.0 323.0 L530.9 323.2 L531.7 323.5 L532.5 323.7 L533.3 324.0 L534.2 324.2 L535.0 324.5 L535.8 324.7 L536.6 325.0 L537.5 325.2 L538.3 325.5 L539.1 325.7 L540.0 325.9 L540.8 326.2 L541.6 326.4 L542.4 326.6 L543.3 326.8 L544.1 327.1 L544.9 327.3 L545.8 327.5 L546.6 327.7 L547.4 327.9 L548.3 328.2 L549.1 328.4 L549.9 328.6 L550.8 328.8 L551.6 329.0 L552.4 329.2 L553.3 329.4 L554.1 329.6 L554.9 329.8 L555.8 330.0 L556.6 330.2 L557.5 330.4 L558.3 330.6 L559.1 330.8 L560.0 331.0 L560.8 331.2 L561.7 331.3 L562.5 331.5 L563.3 331.7 L564.2 331.9 L565.0 332.1 L565.9 332.2 L566.7 332.4 L567.5 332.6 L568.4 332.7 L569.2 332.9 L570.1 333.1 L570.9 333.2 L571.7 333.4 L572.6 333.6 L573.4 333.7 L574.3 333.9 L575.1 334.0 L576.0 334.2 L576.8 334.3 L577.7 334.5 L578.5 334.6 L579.3 334.8 L580.2 334.9 L581.0 335.1 L581.9 335.2 L582.7 335.3 L583.6 335.5 L584.4 335.6 L585.3 335.7 L586.1 335.9 L587.0 336.0 L587.8 336.1 L588.7 336.3 L589.5 336.4 L590.3 336.5 L591.2 336.6 L592.0 336.8 L592.9 336.9 L593.7 337.0 L594.6 337.1 L595.4 337.2 L596.3 337.3 L597.1 337.4 L598.0 337.5 L598.8 337.7 L599.7 337.8 L600.5 337.9 L601.4 338.0 L602.2 338.1 L603.1 338.2 L603.9 338.3 L604.8 338.3 L605.6 338.4 L606.5 338.5 L607.4 338.6 L608.2 338.7 L609.1 338.8 L609.9 338.9 L610.8 339.0 L611.6 339.1 L612.5 339.1 L613.3 339.2 L614.2 339.3 L615.0 339.4 L615.9 339.4 L616.7 339.5 L617.6 339.6 L618.4 339.7 L619.3 339.7 L620.1 339.8 L621.0 339.9 L621.8 339.9 L622.7 340.0 L623.6 340.0 L624.4 340.1 L625.3 340.2 L626.1 340.2 L627.0 340.3 L627.8 340.3 L628.7 340.4 L629.5 340.4 L630.4 340.5 L631.2 340.5 L632.1 340.6 L633.0 340.6 L633.8 340.7 L634.7 340.7 L635.5 340.7 L636.4 340.8 L637.2 340.8 L638.1 340.9 L638.9 340.9 L639.8 340.9 L640.7 341.0 L641.5 341.0 L642.4 341.0 L643.2 341.1 L644.1 341.1 L644.9 341.1 L645.8 341.2 L646.6 341.2 L647.5 341.2 L648.4 341.2 L649.2 341.3 L650.1 341.3 L650.9 341.3 L651.8 341.3 L652.6 341.3 L653.5 341.4 L654.4 341.4 L655.2 341.4 L656.1 341.4 L656.9 341.4 L657.8 341.4 L658.6 341.5 L659.5 341.5 L660.3 341.5 L661.2 341.5 L662.1 341.5 L662.9 341.5 L663.8 341.5 L664.6 341.5 L665.5 341.5 L666.4 341.5 L667.2 341.6 L668.1 341.6 L668.9 341.6 L669.8 341.6 L670.6 341.6 L671.5 341.6 L672.4 341.6 L673.2 341.6 L674.1 341.6 L674.9 341.6 L675.8 341.6 L676.6 341.6 L677.5 341.6 L678.4 341.6 L679.2 341.6 L680.1 341.6 L680.9 341.6 L681.8 341.5 L682.7 341.5 L683.5 341.5 L684.4 341.5 L685.2 341.5 L686.1 341.5 L686.9 341.5 L687.8 341.5 L688.7 341.5 L689.5 341.5 L690.4 341.5 L691.2 341.5 L692.1 341.5 L693.0 341.4 L693.8 341.4 L694.7 341.4 L695.5 341.4 L696.4 341.4 L697.2 341.4 L698.1 341.4 L699.0 341.4 L699.8 341.4 L700.7 341.3 L701.5 341.3 L702.4 341.3 L703.3 341.3 L704.1 341.3 L705.0 341.3 L705.8 341.3 L706.7 341.2 L707.5 341.2 L708.4 341.2 L709.3 341.2 L710.1 341.2 L711.0 341.2 L711.8 341.2 L712.7 341.1 L713.6 341.1 L714.4 341.1 L715.3 341.1 L716.1 341.1 L717.0 341.1 L717.9 341.1 L718.7 341.0 L719.6 341.0 L720.4 341.0 L721.3 341.0 L722.1 341.0 L723.0 341.0 L723.9 341.0 L724.7 340.9 L725.6 340.9 L726.4 340.9 L727.3 340.9 L728.2 340.9 L729.0 340.9 L729.9 340.9 L730.7 340.9 L731.6 340.9 L732.5 340.8 L733.3 340.8 L734.2 340.8 L735.0 340.8 L735.9 340.8 L736.7 340.8 L737.6 340.8 L738.5 340.8 L739.3 340.8 L740.2 340.8 L741.0 340.7 L741.9 340.7 L742.7 340.7 L743.6 340.7 L744.5 340.7 L745.3 340.7 L746.2 340.7 L747.0 340.7 L747.9 340.7 L748.8 340.7 L749.6 340.7 L750.5 340.7 L751.3 340.7 L752.2 340.7 L753.0 340.7 L753.9 340.7 L754.8 340.7 L755.6 340.7 L756.5 340.7 L757.3 340.7 L758.2 340.7 L759.0 340.7 L759.9 340.7 L760.8 340.7 L761.6 340.7 L762.5 340.7 L763.3 340.7 L764.2 340.8 L765.0 340.8 L765.9 340.8 L766.8 340.8 L767.6 340.8 L768.5 340.8 L769.3 340.8 L770.2 340.8 L771.0 340.9 L771.9 340.9 L772.7 340.9 L773.6 340.9 L774.5 340.9 L775.3 340.9 L776.2 341.0 L777.0 341.0 L777.9 341.0 L778.7 341.0 L779.6 341.1 L780.4 341.1 L781.3 341.1 L782.2 341.1 L783.0 341.2 L783.9 341.2 L784.7 341.2 L785.6 341.3 L786.4 341.3 L787.3 341.3 L788.1 341.4 L789.0 341.4 L789.9 341.5 L790.7 341.5 L791.6 341.5 L792.4 341.6 L793.3 341.6 L794.1 341.7 L795.0 341.7 L795.8 341.8 L796.7 341.8" stroke="#EDB120"/>
<path d="M409.1 133.9 L409.3 134.8 L409.5 135.6 L409.6 136.5 L409.8 137.3 L410.0 138.2 L410.2 139.0 L410.3 139.9 L410.5 140.7 L410.6 141.5 L410.8 142.4 L410.9 143.2 L411.1 144.0 L411.2 144.9 L411.4 145.7 L411.5 146.5 L411.7 147.4 L411.8 148.2 L411.9 149.0 L412.1 149.9 L412.2 150.7 L412.3 151.5 L412.5 152.3 L412.6 153.1 L412.7 154.0 L412.8 154.8 L412.9 155.6 L413.1 156.4 L413.2 157.2 L413.3 158.1 L413.4 158.9 L413.5 159.7 L413.6 160.5 L413.7 161.3 L413.8 162.1 L414.0 162.9 L414.1 163.7 L414.2 164.5 L414.3 165.4 L414.4 166.2 L414.5 167.0 L414.6 167.8 L414.7 168.6 L414.8 169.4 L414.9 170.2 L415.0 171.0 L415.1 171.8 L415.2 172.6 L415.3 173.4 L415.4 174.2 L415.5 175.0 L415.6 175.9 L415.7 176.7 L415.9 177.5 L416.0 178.3 L416.1 179.1 L416.2 179.9 L416.3 180.7 L416.4 181.5 L416.5 182.3 L416.6 183.1 L416.8 183.9 L416.9 184.8 L417.0 185.6 L417.1 186.4 L417.2 187.2 L417.4 188.0 L417.5 188.8 L417.6 189.6 L417.7 190.5 L417.9 191.3 L418.0 192.1 L418.1 192.9 L418.3 193.7 L418.4 194.5 L418.5 195.4 L418.7 196.2 L418.8 197.0 L419.0 197.8 L419.1 198.7 L419.3 199.5 L419.5 200.3 L419.6 201.2 L419.8 202.0 L420.0 202.8 L420.1 203.7 L420.3 204.5 L420.5 205.3 L420.7 206.2 L420.8 207.0 L421.0 207.9 L421.2 208.7 L421.4 209.6 L421.6 210.4 L421.8 211.2 L422.0 212.1 L422.3 212.9 L422.5 213.8 L422.7 214.6 L422.9 215.5 L423.2 216.3 L423.4 217.1 L423.6 218.0 L423.9 218.8 L424.1 219.6 L424.4 220.5 L424.6 221.3 L424.9 222.1 L425.2 222.9 L425.5 223.8 L425.8 224.6 L426.0 225.4 L426.3 226.2 L426.6 227.0 L427.0 227.8 L427.3 228.6 L427.6 229.4 L427.9 230.2 L428.3 230.9 L428.6 231.7 L428.9 232.5 L429.3 233.2 L429.7 234.0 L430.0 234.8 L430.4 235.5 L430.8 236.2 L431.2 237.0 L431.6 237.7 L432.0 238.4 L432.4 239.1 L432.8 239.8 L433.3 240.5 L433.7 241.2 L434.1 241.9 L434.6 242.6 L435.1 243.2 L435.5 243.9 L436.0 244.5 L436.5 245.2 L437.0 245.8 L437.5 246.5 L438.0 247.1 L438.5 247.7 L439.0 248.3 L439.5 248.9 L440.0 249.5 L440.6 250.1 L441.1 250.7 L441.7 251.3 L442.2 251.9 L442.8 252.4 L443.3 253.0 L443.9 253.6 L444.5 254.1 L445.1 254.7 L445.7 255.2 L446.2 255.7 L446.8 256.3 L447.5 256.8 L448.1 257.3 L448.7 257.8 L449.3 258.3 L449.9 258.8 L450.6 259.3 L451.2 259.8 L451.8 260.3 L452.5 260.8 L453.1 261.3 L453.8 261.7 L454.5 262.2 L455.1 262.7 L455.8 263.1 L456.5 263.6 L457.2 264.0 L457.8 264.5 L458.5 264.9 L459.2 265.4 L459.9 265.8 L460.6 266.2 L461.3 266.6 L462.0 267.1 L462.8 267.5 L463.5 267.9 L464.2 268.3 L464.9 268.7 L465.6 269.1 L466.4 269.5 L467.1 269.9 L467.8 270.3 L468.6 270.7 L469.3 271.0 L470.1 271.4 L470.8 271.8 L471.6 272.2 L472.3 272.5 L473.1 272.9 L473.9 273.3 L474.6 273.6 L475.4 274.0 L476.2 274.3 L476.9 274.7 L477.7 275.0 L478.5 275.4 L479.3 275.7 L480.0 276.1 L480.8 276.4 L481.6 276.7 L482.4 277.1 L483.2 277.4 L484.0 277.7 L484.8 278.1 L485.5 278.4 L486.3 278.7 L487.1 279.0 L487.9 279.4 L488.7 279.7 L489.5 280.0 L490.3 280.3 L491.1 280.6 L491.9 280.9 L492.7 281.3 L493.5 281.6 L494.3 281.9 L495.1 282.2 L495.9 282.5 L496.8 282.8 L497.6 283.1 L498.4 283.4 L499.2 283.7 L500.0 284.0 L500.8 284.3 L501.6 284.6 L502.4 284.9 L503.2 285.2 L504.0 285.5 L504.8 285.8 L505.6 286.1 L506.4 286.4 L507.2 286.7 L508.0 287.0 L508.8 287.3 L509.6 287.6 L510.4 287.9 L511.3 288.2 L512.1 288.5 L512.8 288.8 L513.6 289.1 L514.4 289.4 L515.2 289.7 L516.0 290.0 L516.8 290.3 L517.6 290.6 L518.4 290.9 L519.2 291.2 L520.0 291.5 L520.8 291.8 L521.6 292.1 L522.3 292.4 L523.1 292.7 L523.9 293.0 L524.7 293.3 L525.4 293.6 L526.2 293.9 L527.0 294.2 L527.7 294.5 L528.5 294.9 L529.3 295.2 L530.0 295.5 L530.8 295.8 L531.5 296.1 L532.3 296.5 L533.0 296.8 L533.8 297.1 L534.5 297.4 L535.3 297.8 L536.0 298.1 L536.7 298.4 L537.5 298.8 L538.2 299.1 L538.9 299.5 L539.7 299.8 L540.4 300.2 L541.1 300.5 L541.9 300.9 L542.6 301.2 L543.3 301.6 L544.1 301.9 L544.8 302.3 L545.5 302.6 L546.2 303.0 L546.9 303.4 L547.7 303.7 L548.4 304.1 L549.1 304.5 L549.8 304.9 L550.5 305.2 L551.3 305.6 L552.0 306.0 L552.7 306.4 L553.4 306.8 L554.1 307.2 L554.8 307.6 L555.5 308.0 L556.3 308.4 L557.0 308.8 L557.7 309.2 L558.4 309.6 L559.1 310.0 L559.8 310.4 L560.5 310.9 L561.3 311.3 L562.0 311.7 L562.7 312.1 L563.4 312.6 L564.1 313.0 L564.8 313.5 L565.5 313.9 L566.3 314.3 L567.0 314.8 L567.7 315.2 L568.4 315.7 L569.1 316.1 L569.9 316.5 L570.6 317.0 L571.3 317.4 L572.0 317.9 L572.8 318.3 L573.5 318.7 L574.2 319.2 L575.0 319.6 L575.7 320.0 L576.4 320.4 L577.2 320.8 L577.9 321.2 L578.7 321.6 L579.4 322.0 L580.2 322.4 L580.9 322.8 L581.7 323.2 L582.4 323.5 L583.2 323.9 L583.9 324.2 L584.7 324.6 L585.5 324.9 L586.2 325.3 L587.0 325.6 L587.8 325.9 L588.5 326.3 L589.3 326.6 L590.1 326.9 L590.8 327.2 L591.6 327.5 L592.4 327.8 L593.2 328.1 L594.0 328.4 L594.7 328.7 L595.5 329.0 L596.3 329.3 L597.1 329.5 L597.9 329.8 L598.7 330.1 L599.5 330.3 L600.3 330.6 L601.1 330.8 L601.9 331.1 L602.7 331.3 L603.5 331.5 L604.3 331.8 L605.1 332.0 L605.9 332.2 L606.7 332.4 L607.5 332.7 L608.3 332.9 L609.1 333.1 L609.9 333.3 L610.7 333.5 L611.5 333.7 L612.3 333.9 L613.1 334.1 L613.9 334.3 L614.7 334.4 L615.6 334.6 L616.4 334.8 L617.2 335.0 L618.0 335.1 L618.8 335.3 L619.6 335.5 L620.5 335.6 L621.3 335.8 L622.1 336.0 L622.9 336.1 L623.7 336.3 L624.6 336.4 L625.4 336.6 L626.2 336.7 L627.0 336.8 L627.8 337.0 L628.7 337.1 L629.5 337.2 L630.3 337.4 L631.1 337.5 L632.0 337.6 L632.8 337.7 L633.6 337.9 L634.4 338.0 L635.3 338.1 L636.1 338.2 L636.9 338.3 L637.7 338.4 L638.6 338.6 L639.4 338.7 L640.2 338.8 L641.0 338.9 L641.9 339.0 L642.7 339.1 L643.5 339.2 L644.3 339.3 L645.2 339.4 L646.0 339.5 L646.8 339.5 L647.7 339.6 L648.5 339.7 L649.3 339.8 L650.1 339.9 L651.0 340.0 L651.8 340.1 L652.6 340.1 L653.5 340.2 L654.3 340.3 L655.1 340.4 L655.9 340.4 L656.8 340.5 L657.6 340.6 L658.4 340.6 L659.3 340.7 L660.1 340.8 L660.9 340.8 L661.8 340.9 L662.6 340.9 L663.4 341.0 L664.2 341.1 L665.1 341.1 L665.9 341.2 L666.7 341.2 L667.6 341.3 L668.4 341.3 L669.2 341.4 L670.1 341.4 L670.9 341.5 L671.7 341.5 L672.6 341.6 L673.4 341.6 L674.2 341.6 L675.1 341.7 L675.9 341.7 L676.7 341.8 L677.5 341.8 L678.4 341.8 L679.2 341.9 L680.0 341.9 L680.9 341.9 L681.7 342.0 L682.5 342.0 L683.4 342.0 L684.2 342.1 L685.0 342.1 L685.9 342.1 L686.7 342.1 L687.5 342.2 L688.4 342.2 L689.2 342.2 L690.0 342.2 L690.9 342.3 L691.7 342.3 L692.5 342.3 L693.4 342.3 L694.2 342.3 L695.0 342.4 L695.9 342.4 L696.7 342.4 L697.6 342.4 L698.4 342.4 L699.2 342.4 L700.1 342.5 L700.9 342.5 L701.7 342.5 L702.6 342.5 L703.4 342.5 L704.2 342.5 L705.1 342.5 L705.9 342.5 L706.7 342.6 L707.6 342.6 L708.4 342.6 L709.2 342.6 L710.1 342.6 L710.9 342.6 L711.7 342.6 L712.6 342.6 L713.4 342.6 L714.2 342.6 L715.1 342.6 L715.9 342.7 L716.7 342.7 L717.6 342.7 L718.4 342.7 L719.3 342.7 L720.1 342.7 L720.9 342.7 L721.8 342.7 L722.6 342.7 L723.4 342.7 L724.3 342.7 L725.1 342.7 L725.9 342.7 L726.8 342.7 L727.6 342.8 L728.4 342.8 L729.3 342.8 L730.1 342.8 L730.9 342.8 L731.8 342.8 L732.6 342.8 L733.4 342.8 L734.3 342.8 L735.1 342.8 L736.0 342.8 L736.8 342.8 L737.6 342.8 L738.5 342.9 L739.3 342.9 L740.1 342.9 L741.0 342.9 L741.8 342.9 L742.6 342.9 L743.5 342.9 L744.3 342.9 L745.1 342.9 L746.0 343.0 L746.8 343.0 L747.6 343.0 L748.5 343.0 L749.3 343.0 L750.1 343.0 L751.0 343.1 L751.8 343.1 L752.6 343.1 L753.5 343.1 L754.3 343.1 L755.1 343.1 L756.0 343.2 L756.8 343.2 L757.6 343.2 L758.5 343.2 L759.3 343.3 L760.1 343.3 L761.0 343.3 L761.8 343.3 L762.6 343.4 L763.5 343.4 L764.3 343.4 L765.1 343.4 L766.0 343.5 L766.8 343.5 L767.6 343.5 L768.5 343.6 L769.3 343.6 L770.1 343.6 L771.0 343.7 L771.8 343.7 L772.6 343.8 L773.5 343.8 L774.3 343.8 L775.1 343.9 L775.9 343.9 L776.8 344.0 L777.6 344.0 L778.4 344.1 L779.3 344.1 L780.1 344.2 L780.9 344.2 L781.8 344.3 L782.6 344.3 L783.4 344.4 L784.2 344.4 L785.1 344.5 L785.9 344.6 L786.7 344.6 L787.6 344.7 L788.4 344.7 L789.2 344.8 L790.1 344.9 L790.9 344.9 L791.7 345.0 L792.5 345.1 L793.4 345.2 L794.2 345.2 L795.0 345.3 L795.8 345.4 L796.7 345.5" stroke="#7E2F8E"/>
<path d="M408.8 134.1 L409.0 134.9 L409.2 135.7 L409.4 136.5 L409.6 137.3 L409.8 138.1 L410.0 138.9 L410.2 139.7 L410.4 140.5 L410.6 141.3 L410.8 142.0 L410.9 142.8 L411.1 143.6 L411.3 144.4 L411.4 145.2 L411.6 146.0 L411.7 146.9 L411.9 147.7 L412.0 148.5 L412.2 149.3 L412.3 150.1 L412.5 150.9 L412.6 151.7 L412.7 152.5 L412.9 153.3 L413.0 154.1 L413.1 154.9 L413.2 155.7 L413.3 156.5 L413.5 157.4 L413.6 158.2 L413.7 159.0 L413.8 159.8 L413.9 160.6 L414.0 161.4 L414.1 162.2 L414.2 163.0 L414.3 163.9 L414.5 164.7 L414.6 165.5 L414.7 166.3 L414.8 167.1 L414.9 167.9 L415.0 168.8 L415.1 169.6 L415.2 170.4 L415.3 171.2 L415.4 172.0 L415.5 172.9 L415.6 173.7 L415.7 174.5 L415.8 175.3 L415.9 176.1 L416.0 177.0 L416.1 177.8 L416.2 178.6 L416.3 179.4 L416.4 180.2 L416.6 181.1 L416.7 181.9 L416.8 182.7 L416.9 183.5 L417.0 184.3 L417.1 185.2 L417.3 186.0 L417.4 186.8 L417.5 187.6 L417.7 188.4 L417.8 189.3 L417.9 190.1 L418.1 190.9 L418.2 191.7 L418.4 192.5 L418.5 193.3 L418.7 194.2 L418.8 195.0 L419.0 195.8 L419.2 196.6 L419.4 197.4 L419.5 198.3 L419.7 199.1 L419.9 199.9 L420.1 200.7 L420.3 201.5 L420.5 202.3 L420.7 203.1 L420.9 204.0 L421.1 204.8 L421.3 205.6 L421.6 206.4 L421.8 207.2 L422.0 208.0 L422.3 208.8 L422.5 209.6 L422.8 210.4 L423.0 211.2 L423.3 212.0 L423.6 212.8 L423.9 213.6 L424.2 214.4 L424.5 215.2 L424.8 215.9 L425.1 216.7 L425.4 217.5 L425.8 218.2 L426.1 219.0 L426.4 219.7 L426.8 220.5 L427.2 221.2 L427.6 221.9 L427.9 222.6 L428.3 223.3 L428.8 224.0 L429.2 224.7 L429.6 225.4 L430.0 226.0 L430.5 226.7 L431.0 227.3 L431.4 228.0 L431.9 228.6 L432.4 229.2 L432.9 229.8 L433.4 230.4 L434.0 231.0 L434.5 231.5 L435.1 232.1 L435.6 232.6 L436.2 233.2 L436.8 233.7 L437.4 234.2 L438.0 234.7 L438.6 235.2 L439.2 235.6 L439.9 236.1 L440.5 236.5 L441.2 237.0 L441.9 237.4 L442.5 237.8 L443.2 238.3 L443.9 238.7 L444.6 239.1 L445.3 239.4 L446.0 239.8 L446.7 240.2 L447.5 240.5 L448.2 240.9 L448.9 241.2 L449.7 241.6 L450.4 241.9 L451.2 242.2 L452.0 242.5 L452.7 242.8 L453.5 243.1 L454.3 243.4 L455.1 243.7 L455.9 244.0 L456.6 244.3 L457.4 244.6 L458.2 244.8 L459.0 245.1 L459.8 245.3 L460.6 245.6 L461.5 245.8 L462.3 246.1 L463.1 246.3 L463.9 246.5 L464.7 246.8 L465.5 247.0 L466.4 247.2 L467.2 247.4 L468.0 247.6 L468.8 247.9 L469.6 248.1 L470.5 248.3 L471.3 248.5 L472.1 248.7 L472.9 248.9 L473.7 249.1 L474.5 249.3 L475.4 249.5 L476.2 249.6 L477.0 249.8 L477.8 250.0 L478.6 250.2 L479.4 250.4 L480.2 250.6 L481.1 250.8 L481.9 250.9 L482.7 251.1 L483.5 251.3 L484.3 251.5 L485.1 251.7 L485.9 251.8 L486.7 252.0 L487.5 252.2 L488.3 252.4 L489.1 252.5 L489.9 252.7 L490.7 252.9 L491.5 253.1 L492.3 253.2 L493.1 253.4 L493.9 253.6 L494.7 253.8 L495.5 253.9 L496.3 254.1 L497.1 254.3 L497.9 254.5 L498.7 254.6 L499.5 254.8 L500.3 255.0 L501.1 255.2 L501.9 255.4 L502.7 255.5 L503.5 255.7 L504.3 255.9 L505.0 256.1 L505.8 256.3 L506.6 256.4 L507.4 256.6 L508.2 256.8 L509.0 257.0 L509.8 257.2 L510.6 257.4 L511.4 257.6 L512.2 257.8 L513.0 258.0 L513.8 258.2 L514.5 258.4 L515.3 258.6 L516.1 258.8 L516.9 259.0 L517.7 259.2 L518.5 259.4 L519.3 259.6 L520.1 259.8 L520.9 260.1 L521.7 260.3 L522.5 260.5 L523.2 260.7 L524.0 261.0 L524.8 261.2 L525.6 261.4 L526.4 261.7 L527.2 261.9 L528.0 262.2 L528.8 262.4 L529.6 262.7 L530.4 262.9 L531.1 263.2 L531.9 263.4 L532.7 263.7 L533.5 264.0 L534.3 264.2 L535.1 264.5 L535.9 264.8 L536.7 265.1 L537.4 265.4 L538.2 265.7 L539.0 266.0 L539.8 266.3 L540.6 266.6 L541.3 266.9 L542.1 267.2 L542.9 267.5 L543.6 267.8 L544.4 268.2 L545.2 268.5 L545.9 268.8 L546.7 269.2 L547.4 269.5 L548.2 269.9 L549.0 270.2 L549.7 270.6 L550.4 271.0 L551.2 271.3 L551.9 271.7 L552.7 272.1 L553.4 272.5 L554.1 272.9 L554.8 273.3 L555.6 273.7 L556.3 274.1 L557.0 274.5 L557.7 275.0 L558.4 275.4 L559.1 275.8 L559.8 276.3 L560.5 276.7 L561.2 277.2 L561.8 277.6 L562.5 278.1 L563.2 278.6 L563.8 279.0 L564.5 279.5 L565.2 280.0 L565.8 280.5 L566.5 281.0 L567.1 281.5 L567.7 282.0 L568.4 282.6 L569.0 283.1 L569.6 283.6 L570.3 284.1 L570.9 284.7 L571.5 285.2 L572.1 285.8 L572.7 286.3 L573.3 286.8 L573.9 287.4 L574.5 288.0 L575.1 288.5 L575.7 289.1 L576.3 289.6 L576.9 290.2 L577.5 290.8 L578.1 291.3 L578.7 291.9 L579.3 292.5 L579.9 293.0 L580.5 293.6 L581.1 294.2 L581.7 294.8 L582.3 295.3 L582.9 295.9 L583.4 296.5 L584.0 297.1 L584.6 297.6 L585.2 298.2 L585.8 298.8 L586.4 299.4 L587.0 299.9 L587.6 300.5 L588.2 301.1 L588.8 301.6 L589.4 302.2 L590.0 302.7 L590.6 303.3 L591.2 303.9 L591.8 304.4 L592.4 305.0 L593.0 305.5 L593.6 306.0 L594.3 306.6 L594.9 307.1 L595.5 307.6 L596.1 308.2 L596.8 308.7 L597.4 309.2 L598.1 309.7 L598.7 310.2 L599.3 310.7 L600.0 311.2 L600.6 311.7 L601.3 312.2 L602.0 312.7 L602.6 313.2 L603.3 313.7 L604.0 314.1 L604.6 314.6 L605.3 315.1 L606.0 315.5 L606.7 316.0 L607.4 316.5 L608.1 316.9 L608.7 317.3 L609.4 317.8 L610.1 318.2 L610.8 318.6 L611.5 319.1 L612.2 319.5 L612.9 319.9 L613.7 320.3 L614.4 320.7 L615.1 321.1 L615.8 321.5 L616.5 321.9 L617.3 322.3 L618.0 322.7 L618.7 323.1 L619.4 323.5 L620.2 323.9 L620.9 324.2 L621.6 324.6 L622.4 325.0 L623.1 325.3 L623.9 325.7 L624.6 326.0 L625.4 326.4 L626.1 326.7 L626.9 327.0 L627.6 327.4 L628.4 327.7 L629.1 328.0 L629.9 328.3 L630.6 328.7 L631.4 329.0 L632.2 329.3 L632.9 329.6 L633.7 329.9 L634.5 330.2 L635.2 330.5 L636.0 330.8 L636.8 331.0 L637.6 331.3 L638.3 331.6 L639.1 331.9 L639.9 332.1 L640.7 332.4 L641.5 332.7 L642.2 332.9 L643.0 333.2 L643.8 333.4 L644.6 333.7 L645.4 333.9 L646.2 334.1 L647.0 334.4 L647.7 334.6 L648.5 334.8 L649.3 335.0 L650.1 335.2 L650.9 335.5 L651.7 335.7 L652.5 335.9 L653.3 336.1 L654.1 336.3 L654.9 336.5 L655.7 336.6 L656.5 336.8 L657.3 337.0 L658.1 337.2 L658.9 337.4 L659.7 337.5 L660.5 337.7 L661.3 337.9 L662.1 338.0 L662.9 338.2 L663.7 338.3 L664.5 338.5 L665.3 338.6 L666.1 338.8 L666.9 338.9 L667.7 339.0 L668.5 339.2 L669.3 339.3 L670.1 339.4 L671.0 339.5 L671.8 339.7 L672.6 339.8 L673.4 339.9 L674.2 340.0 L675.0 340.1 L675.8 340.2 L676.6 340.3 L677.4 340.4 L678.3 340.5 L679.1 340.6 L679.9 340.7 L680.7 340.8 L681.5 340.9 L682.3 341.0 L683.2 341.1 L684.0 341.1 L684.8 341.2 L685.6 341.3 L686.4 341.4 L687.2 341.4 L688.1 341.5 L688.9 341.6 L689.7 341.6 L690.5 341.7 L691.3 341.8 L692.2 341.8 L693.0 341.9 L693.8 341.9 L694.6 342.0 L695.4 342.0 L696.3 342.1 L697.1 342.1 L697.9 342.2 L698.7 342.2 L699.6 342.2 L700.4 342.3 L701.2 342.3 L702.0 342.4 L702.9 342.4 L703.7 342.4 L704.5 342.5 L705.3 342.5 L706.2 342.5 L707.0 342.5 L707.8 342.6 L708.6 342.6 L709.5 342.6 L710.3 342.6 L711.1 342.7 L711.9 342.7 L712.8 342.7 L713.6 342.7 L714.4 342.7 L715.3 342.7 L716.1 342.8 L716.9 342.8 L717.7 342.8 L718.6 342.8 L719.4 342.8 L720.2 342.8 L721.1 342.8 L721.9 342.8 L722.7 342.8 L723.5 342.8 L724.4 342.8 L725.2 342.9 L726.0 342.9 L726.9 342.9 L727.7 342.9 L728.5 342.9 L729.3 342.9 L730.2 342.9 L731.0 342.9 L731.8 342.9 L732.7 342.9 L733.5 342.9 L734.3 342.9 L735.1 342.9 L736.0 342.9 L736.8 342.9 L737.6 342.9 L738.5 342.9 L739.3 342.9 L740.1 342.9 L740.9 342.9 L741.8 342.9 L742.6 342.9 L743.4 342.9 L744.3 342.9 L745.1 342.9 L745.9 342.9 L746.7 342.9 L747.6 342.9 L748.4 342.9 L749.2 343.0 L750.0 343.0 L750.9 343.0 L751.7 343.0 L752.5 343.0 L753.4 343.0 L754.2 343.0 L755.0 343.0 L755.8 343.0 L756.7 343.0 L757.5 343.1 L758.3 343.1 L759.1 343.1 L760.0 343.1 L760.8 343.1 L761.6 343.1 L762.4 343.2 L763.2 343.2 L764.1 343.2 L764.9 343.2 L765.7 343.2 L766.5 343.3 L767.4 343.3 L768.2 343.3 L769.0 343.4 L769.8 343.4 L770.6 343.4 L771.5 343.5 L772.3 343.5 L773.1 343.5 L773.9 343.6 L774.7 343.6 L775.5 343.7 L776.4 343.7 L777.2 343.8 L778.0 343.8 L778.8 343.9 L779.6 343.9 L780.4 344.0 L781.3 344.0 L782.1 344.1 L782.9 344.1 L783.7 344.2 L784.5 344.3 L785.3 344.3 L786.1 344.4 L786.9 344.5 L787.8 344.6 L788.6 344.6 L789.4 344.7 L790.2 344.8 L791.0 344.9 L791.8 345.0 L792.6 345.0 L793.4 345.1 L794.2 345.2 L795.0 345.3 L795.8 345.4 L796.6 345.5" stroke="#77AC30"/>
<path d="M408.5 134.1 L408.8 134.9 L409.0 135.7 L409.2 136.4 L409.4 137.2 L409.6 138.0 L409.8 138.8 L410.0 139.6 L410.2 140.4 L410.4 141.2 L410.6 142.0 L410.8 142.8 L411.0 143.6 L411.1 144.4 L411.3 145.2 L411.5 146.0 L411.7 146.8 L411.8 147.7 L412.0 148.5 L412.1 149.3 L412.3 150.1 L412.4 150.9 L412.6 151.7 L412.7 152.5 L412.8 153.3 L413.0 154.1 L413.1 154.9 L413.2 155.7 L413.4 156.5 L413.5 157.3 L413.6 158.2 L413.8 159.0 L413.9 159.8 L414.0 160.6 L414.1 161.4 L414.2 162.2 L414.4 163.0 L414.5 163.8 L414.6 164.7 L414.7 165.5 L414.8 166.3 L414.9 167.1 L415.1 167.9 L415.2 168.7 L415.3 169.5 L415.4 170.4 L415.5 171.2 L415.6 172.0 L415.8 172.8 L415.9 173.6 L416.0 174.4 L416.1 175.2 L416.2 176.1 L416.3 176.9 L416.5 177.7 L416.6 178.5 L416.7 179.3 L416.8 180.1 L417.0 181.0 L417.1 181.8 L417.2 182.6 L417.4 183.4 L417.5 184.2 L417.6 185.0 L417.8 185.9 L417.9 186.7 L418.1 187.5 L418.2 188.3 L418.4 189.1 L418.5 189.9 L418.7 190.7 L418.8 191.6 L419.0 192.4 L419.2 193.2 L419.3 194.0 L419.5 194.8 L419.7 195.6 L419.9 196.4 L420.1 197.2 L420.2 198.1 L420.4 198.9 L420.6 199.7 L420.8 200.5 L421.1 201.3 L421.3 202.1 L421.5 202.9 L421.7 203.7 L421.9 204.5 L422.2 205.3 L422.4 206.1 L422.7 206.9 L422.9 207.7 L423.2 208.5 L423.5 209.3 L423.7 210.1 L424.0 210.9 L424.3 211.7 L424.6 212.5 L424.9 213.2 L425.3 214.0 L425.6 214.7 L425.9 215.5 L426.3 216.2 L426.6 216.9 L427.0 217.6 L427.4 218.3 L427.8 219.0 L428.2 219.7 L428.7 220.4 L429.1 221.0 L429.6 221.6 L430.0 222.3 L430.5 222.9 L431.0 223.5 L431.6 224.0 L432.1 224.6 L432.6 225.1 L433.2 225.6 L433.8 226.1 L434.4 226.6 L435.0 227.1 L435.7 227.5 L436.3 227.9 L437.0 228.3 L437.7 228.7 L438.4 229.1 L439.1 229.4 L439.8 229.8 L440.6 230.1 L441.3 230.4 L442.1 230.7 L442.8 231.0 L443.6 231.3 L444.4 231.5 L445.2 231.8 L446.0 232.0 L446.8 232.3 L447.6 232.5 L448.4 232.7 L449.2 232.9 L450.0 233.1 L450.8 233.3 L451.6 233.5 L452.5 233.7 L453.3 233.9 L454.1 234.1 L454.9 234.3 L455.7 234.4 L456.6 234.6 L457.4 234.8 L458.2 234.9 L459.0 235.1 L459.8 235.3 L460.7 235.4 L461.5 235.6 L462.3 235.7 L463.1 235.8 L464.0 236.0 L464.8 236.1 L465.6 236.3 L466.4 236.4 L467.3 236.5 L468.1 236.7 L468.9 236.8 L469.7 236.9 L470.6 237.1 L471.4 237.2 L472.2 237.3 L473.0 237.5 L473.9 237.6 L474.7 237.7 L475.5 237.9 L476.3 238.0 L477.1 238.1 L478.0 238.3 L478.8 238.4 L479.6 238.5 L480.4 238.7 L481.2 238.8 L482.0 239.0 L482.8 239.1 L483.6 239.2 L484.5 239.4 L485.3 239.5 L486.1 239.7 L486.9 239.8 L487.7 240.0 L488.5 240.1 L489.3 240.3 L490.1 240.5 L490.9 240.6 L491.7 240.8 L492.5 240.9 L493.3 241.1 L494.1 241.3 L494.9 241.4 L495.7 241.6 L496.5 241.8 L497.3 241.9 L498.0 242.1 L498.8 242.3 L499.6 242.5 L500.4 242.6 L501.2 242.8 L502.0 243.0 L502.8 243.2 L503.6 243.3 L504.4 243.5 L505.2 243.7 L506.0 243.9 L506.8 244.1 L507.6 244.3 L508.4 244.4 L509.1 244.6 L509.9 244.8 L510.7 245.0 L511.5 245.2 L512.3 245.4 L513.1 245.6 L513.9 245.8 L514.7 246.0 L515.5 246.2 L516.3 246.3 L517.1 246.5 L517.9 246.7 L518.7 246.9 L519.5 247.1 L520.3 247.3 L521.1 247.5 L521.9 247.7 L522.7 247.9 L523.5 248.1 L524.3 248.3 L525.1 248.5 L525.9 248.7 L526.7 248.9 L527.5 249.1 L528.3 249.3 L529.1 249.5 L529.9 249.7 L530.7 249.9 L531.5 250.1 L532.4 250.4 L533.2 250.6 L534.0 250.8 L534.8 251.0 L535.6 251.2 L536.4 251.4 L537.2 251.6 L538.0 251.9 L538.8 252.1 L539.6 252.3 L540.4 252.5 L541.2 252.8 L542.0 253.0 L542.8 253.2 L543.6 253.5 L544.4 253.7 L545.2 254.0 L546.0 254.2 L546.8 254.5 L547.6 254.8 L548.4 255.0 L549.2 255.3 L550.0 255.6 L550.8 255.9 L551.5 256.1 L552.3 256.4 L553.1 256.7 L553.8 257.0 L554.6 257.3 L555.4 257.7 L556.1 258.0 L556.9 258.3 L557.6 258.6 L558.4 259.0 L559.1 259.3 L559.9 259.7 L560.6 260.0 L561.3 260.4 L562.1 260.7 L562.8 261.1 L563.5 261.5 L564.2 261.9 L564.9 262.3 L565.6 262.7 L566.3 263.1 L567.0 263.5 L567.7 264.0 L568.4 264.4 L569.0 264.8 L569.7 265.3 L570.4 265.7 L571.1 266.2 L571.7 266.6 L572.4 267.1 L573.0 267.6 L573.7 268.1 L574.3 268.5 L575.0 269.0 L575.6 269.5 L576.3 270.0 L576.9 270.5 L577.5 271.1 L578.2 271.6 L578.8 272.1 L579.4 272.6 L580.0 273.1 L580.6 273.7 L581.3 274.2 L581.9 274.7 L582.5 275.3 L583.1 275.8 L583.7 276.4 L584.3 277.0 L584.9 277.5 L585.5 278.1 L586.1 278.6 L586.7 279.2 L587.3 279.8 L587.9 280.4 L588.5 280.9 L589.1 281.5 L589.6 282.1 L590.2 282.7 L590.8 283.3 L591.4 283.9 L592.0 284.5 L592.5 285.0 L593.1 285.6 L593.7 286.2 L594.3 286.8 L594.9 287.4 L595.4 288.0 L596.0 288.6 L596.6 289.3 L597.2 289.9 L597.7 290.5 L598.3 291.1 L598.9 291.7 L599.4 292.3 L600.0 292.9 L600.6 293.5 L601.2 294.1 L601.7 294.7 L602.3 295.3 L602.9 295.9 L603.4 296.5 L604.0 297.2 L604.6 297.8 L605.2 298.4 L605.7 299.0 L606.3 299.6 L606.9 300.2 L607.5 300.8 L608.0 301.4 L608.6 302.0 L609.2 302.6 L609.8 303.2 L610.3 303.8 L610.9 304.4 L611.5 305.0 L612.1 305.6 L612.7 306.2 L613.3 306.8 L613.8 307.3 L614.4 307.9 L615.0 308.5 L615.6 309.1 L616.2 309.7 L616.8 310.2 L617.4 310.8 L618.0 311.4 L618.6 311.9 L619.2 312.5 L619.8 313.0 L620.4 313.6 L621.0 314.1 L621.6 314.7 L622.3 315.2 L622.9 315.8 L623.5 316.3 L624.1 316.8 L624.7 317.3 L625.4 317.9 L626.0 318.4 L626.6 318.9 L627.3 319.4 L627.9 319.9 L628.5 320.4 L629.2 320.9 L629.8 321.4 L630.5 321.8 L631.1 322.3 L631.8 322.8 L632.4 323.2 L633.1 323.7 L633.8 324.1 L634.4 324.6 L635.1 325.0 L635.8 325.4 L636.5 325.9 L637.2 326.3 L637.9 326.7 L638.6 327.1 L639.3 327.5 L640.0 327.9 L640.7 328.3 L641.4 328.6 L642.1 329.0 L642.8 329.4 L643.5 329.7 L644.3 330.1 L645.0 330.4 L645.7 330.8 L646.5 331.1 L647.2 331.4 L648.0 331.7 L648.7 332.0 L649.5 332.3 L650.2 332.6 L651.0 332.9 L651.8 333.2 L652.5 333.4 L653.3 333.7 L654.1 334.0 L654.8 334.2 L655.6 334.5 L656.4 334.7 L657.2 335.0 L658.0 335.2 L658.8 335.4 L659.6 335.6 L660.4 335.9 L661.2 336.1 L662.0 336.3 L662.8 336.5 L663.6 336.7 L664.4 336.9 L665.2 337.0 L666.0 337.2 L666.8 337.4 L667.6 337.6 L668.5 337.7 L669.3 337.9 L670.1 338.1 L670.9 338.2 L671.8 338.4 L672.6 338.5 L673.4 338.6 L674.2 338.8 L675.1 338.9 L675.9 339.0 L676.7 339.2 L677.6 339.3 L678.4 339.4 L679.2 339.5 L680.1 339.6 L680.9 339.7 L681.7 339.8 L682.6 339.9 L683.4 340.0 L684.3 340.1 L685.1 340.2 L685.9 340.3 L686.8 340.4 L687.6 340.5 L688.5 340.6 L689.3 340.6 L690.1 340.7 L691.0 340.8 L691.8 340.9 L692.7 340.9 L693.5 341.0 L694.3 341.1 L695.2 341.1 L696.0 341.2 L696.9 341.2 L697.7 341.3 L698.5 341.4 L699.4 341.4 L700.2 341.5 L701.0 341.5 L701.9 341.6 L702.7 341.6 L703.5 341.6 L704.3 341.7 L705.2 341.7 L706.0 341.8 L706.8 341.8 L707.6 341.9 L708.5 341.9 L709.3 341.9 L710.1 342.0 L710.9 342.0 L711.8 342.0 L712.6 342.1 L713.4 342.1 L714.2 342.1 L715.0 342.2 L715.8 342.2 L716.7 342.2 L717.5 342.3 L718.3 342.3 L719.1 342.3 L719.9 342.3 L720.7 342.4 L721.5 342.4 L722.4 342.4 L723.2 342.4 L724.0 342.4 L724.8 342.5 L725.6 342.5 L726.4 342.5 L727.2 342.5 L728.0 342.5 L728.8 342.6 L729.6 342.6 L730.4 342.6 L731.3 342.6 L732.1 342.6 L732.9 342.7 L733.7 342.7 L734.5 342.7 L735.3 342.7 L736.1 342.7 L736.9 342.7 L737.7 342.8 L738.5 342.8 L739.3 342.8 L740.1 342.8 L740.9 342.8 L741.7 342.8 L742.5 342.8 L743.3 342.9 L744.1 342.9 L744.9 342.9 L745.8 342.9 L746.6 342.9 L747.4 342.9 L748.2 343.0 L749.0 343.0 L749.8 343.0 L750.6 343.0 L751.4 343.0 L752.2 343.1 L753.0 343.1 L753.8 343.1 L754.6 343.1 L755.4 343.1 L756.2 343.2 L757.0 343.2 L757.9 343.2 L758.7 343.2 L759.5 343.2 L760.3 343.3 L761.1 343.3 L761.9 343.3 L762.7 343.4 L763.5 343.4 L764.3 343.4 L765.2 343.4 L766.0 343.5 L766.8 343.5 L767.6 343.5 L768.4 343.6 L769.2 343.6 L770.1 343.6 L770.9 343.7 L771.7 343.7 L772.5 343.8 L773.3 343.8 L774.2 343.8 L775.0 343.9 L775.8 343.9 L776.6 344.0 L777.4 344.0 L778.3 344.1 L779.1 344.1 L779.9 344.2 L780.8 344.2 L781.6 344.3 L782.4 344.3 L783.2 344.4 L784.1 344.4 L784.9 344.5 L785.7 344.6 L786.6 344.6 L787.4 344.7 L788.3 344.8 L789.1 344.8 L789.9 344.9 L790.8 345.0 L791.6 345.0 L792.5 345.1 L793.3 345.2 L794.2 345.3 L795.0 345.4 L795.9 345.4 L796.7 345.5" stroke="#4DBEEE"/>
<path d="M408.7 134.1 L408.9 134.9 L409.2 135.7 L409.4 136.5 L409.6 137.3 L409.9 138.2 L410.1 139.0 L410.3 139.8 L410.5 140.6 L410.7 141.5 L411.0 142.3 L411.2 143.1 L411.4 143.9 L411.6 144.8 L411.8 145.6 L411.9 146.4 L412.1 147.3 L412.3 148.1 L412.5 148.9 L412.7 149.7 L412.8 150.6 L413.0 151.4 L413.2 152.2 L413.4 153.1 L413.5 153.9 L413.7 154.7 L413.8 155.5 L414.0 156.4 L414.2 157.2 L414.3 158.0 L414.5 158.9 L414.6 159.7 L414.8 160.5 L414.9 161.4 L415.1 162.2 L415.2 163.0 L415.4 163.9 L415.5 164.7 L415.7 165.5 L415.8 166.4 L416.0 167.2 L416.1 168.0 L416.2 168.9 L416.4 169.7 L416.5 170.5 L416.7 171.4 L416.8 172.2 L417.0 173.1 L417.1 173.9 L417.2 174.7 L417.4 175.6 L417.5 176.4 L417.7 177.3 L417.8 178.1 L418.0 178.9 L418.1 179.8 L418.3 180.6 L418.4 181.5 L418.6 182.3 L418.7 183.2 L418.9 184.0 L419.0 184.8 L419.2 185.7 L419.4 186.5 L419.5 187.4 L419.7 188.2 L419.9 189.1 L420.0 189.9 L420.2 190.8 L420.4 191.6 L420.6 192.5 L420.7 193.3 L420.9 194.2 L421.1 195.0 L421.3 195.9 L421.5 196.7 L421.7 197.6 L421.9 198.4 L422.1 199.3 L422.3 200.1 L422.6 201.0 L422.8 201.8 L423.0 202.6 L423.3 203.4 L423.5 204.3 L423.8 205.1 L424.1 205.9 L424.3 206.7 L424.6 207.5 L424.9 208.3 L425.3 209.0 L425.6 209.8 L425.9 210.6 L426.3 211.3 L426.6 212.0 L427.0 212.8 L427.4 213.5 L427.8 214.2 L428.2 214.8 L428.7 215.5 L429.1 216.2 L429.6 216.8 L430.1 217.4 L430.6 218.0 L431.1 218.6 L431.6 219.2 L432.2 219.7 L432.8 220.3 L433.4 220.8 L434.0 221.3 L434.6 221.8 L435.3 222.2 L436.0 222.7 L436.7 223.1 L437.4 223.5 L438.1 223.9 L438.8 224.2 L439.6 224.6 L440.3 224.9 L441.1 225.3 L441.9 225.6 L442.7 225.9 L443.5 226.2 L444.3 226.4 L445.1 226.7 L446.0 227.0 L446.8 227.2 L447.7 227.4 L448.5 227.6 L449.3 227.9 L450.2 228.1 L451.1 228.3 L451.9 228.5 L452.8 228.6 L453.6 228.8 L454.5 229.0 L455.3 229.1 L456.2 229.3 L457.1 229.5 L457.9 229.6 L458.8 229.8 L459.7 229.9 L460.5 230.0 L461.4 230.2 L462.3 230.3 L463.1 230.4 L464.0 230.5 L464.8 230.7 L465.7 230.8 L466.6 230.9 L467.4 231.0 L468.3 231.2 L469.2 231.3 L470.0 231.4 L470.9 231.5 L471.7 231.6 L472.6 231.8 L473.4 231.9 L474.3 232.0 L475.1 232.1 L476.0 232.2 L476.8 232.3 L477.7 232.4 L478.5 232.6 L479.4 232.7 L480.2 232.8 L481.1 232.9 L481.9 233.0 L482.8 233.1 L483.6 233.2 L484.5 233.4 L485.3 233.5 L486.2 233.6 L487.0 233.7 L487.8 233.8 L488.7 233.9 L489.5 234.1 L490.4 234.2 L491.2 234.3 L492.0 234.4 L492.9 234.5 L493.7 234.6 L494.6 234.8 L495.4 234.9 L496.2 235.0 L497.1 235.1 L497.9 235.3 L498.7 235.4 L499.6 235.5 L500.4 235.6 L501.2 235.8 L502.1 235.9 L502.9 236.0 L503.7 236.1 L504.5 236.3 L505.4 236.4 L506.2 236.5 L507.0 236.7 L507.9 236.8 L508.7 237.0 L509.5 237.1 L510.3 237.2 L511.2 237.4 L512.0 237.5 L512.8 237.7 L513.6 237.8 L514.5 238.0 L515.3 238.1 L516.1 238.3 L516.9 238.4 L517.8 238.6 L518.6 238.8 L519.4 238.9 L520.2 239.1 L521.1 239.2 L521.9 239.4 L522.7 239.6 L523.5 239.8 L524.3 239.9 L525.2 240.1 L526.0 240.3 L526.8 240.5 L527.6 240.7 L528.4 240.9 L529.3 241.0 L530.1 241.2 L530.9 241.4 L531.7 241.6 L532.5 241.8 L533.4 242.0 L534.2 242.2 L535.0 242.5 L535.8 242.7 L536.6 242.9 L537.5 243.1 L538.3 243.3 L539.1 243.6 L539.9 243.8 L540.7 244.0 L541.5 244.3 L542.4 244.5 L543.2 244.7 L544.0 245.0 L544.8 245.2 L545.6 245.5 L546.5 245.8 L547.3 246.0 L548.1 246.3 L548.9 246.5 L549.7 246.8 L550.5 247.1 L551.4 247.4 L552.2 247.7 L553.0 247.9 L553.8 248.2 L554.6 248.5 L555.4 248.8 L556.2 249.1 L557.0 249.5 L557.8 249.8 L558.6 250.1 L559.4 250.4 L560.2 250.7 L561.0 251.1 L561.8 251.4 L562.6 251.8 L563.4 252.1 L564.2 252.5 L565.0 252.8 L565.7 253.2 L566.5 253.6 L567.3 253.9 L568.1 254.3 L568.8 254.7 L569.6 255.1 L570.4 255.5 L571.1 255.9 L571.9 256.3 L572.6 256.7 L573.4 257.1 L574.1 257.6 L574.8 258.0 L575.6 258.4 L576.3 258.9 L577.0 259.3 L577.7 259.8 L578.5 260.2 L579.2 260.7 L579.9 261.2 L580.6 261.6 L581.3 262.1 L581.9 262.6 L582.6 263.1 L583.3 263.6 L584.0 264.1 L584.6 264.7 L585.3 265.2 L586.0 265.7 L586.6 266.3 L587.3 266.8 L587.9 267.4 L588.5 267.9 L589.1 268.5 L589.8 269.1 L590.4 269.7 L591.0 270.2 L591.6 270.8 L592.2 271.4 L592.8 272.1 L593.3 272.7 L593.9 273.3 L594.5 273.9 L595.1 274.5 L595.6 275.2 L596.2 275.8 L596.8 276.4 L597.3 277.1 L597.9 277.7 L598.4 278.4 L599.0 279.0 L599.5 279.7 L600.0 280.4 L600.6 281.0 L601.1 281.7 L601.6 282.4 L602.2 283.0 L602.7 283.7 L603.2 284.4 L603.8 285.1 L604.3 285.7 L604.8 286.4 L605.3 287.1 L605.8 287.8 L606.4 288.5 L606.9 289.1 L607.4 289.8 L607.9 290.5 L608.5 291.2 L609.0 291.9 L609.5 292.5 L610.0 293.2 L610.6 293.9 L611.1 294.6 L611.6 295.2 L612.1 295.9 L612.7 296.6 L613.2 297.2 L613.7 297.9 L614.3 298.6 L614.8 299.2 L615.4 299.9 L615.9 300.5 L616.5 301.2 L617.0 301.8 L617.6 302.5 L618.1 303.1 L618.7 303.7 L619.3 304.4 L619.8 305.0 L620.4 305.6 L621.0 306.2 L621.6 306.8 L622.2 307.4 L622.8 308.0 L623.4 308.6 L624.0 309.2 L624.6 309.7 L625.2 310.3 L625.8 310.9 L626.5 311.4 L627.1 312.0 L627.8 312.5 L628.4 313.0 L629.0 313.6 L629.7 314.1 L630.4 314.6 L631.0 315.1 L631.7 315.6 L632.4 316.1 L633.0 316.6 L633.7 317.1 L634.4 317.6 L635.1 318.1 L635.8 318.6 L636.5 319.0 L637.2 319.5 L637.9 319.9 L638.6 320.4 L639.3 320.8 L640.1 321.3 L640.8 321.7 L641.5 322.1 L642.2 322.6 L643.0 323.0 L643.7 323.4 L644.4 323.8 L645.2 324.2 L645.9 324.6 L646.7 325.0 L647.4 325.4 L648.2 325.8 L649.0 326.1 L649.7 326.5 L650.5 326.9 L651.3 327.2 L652.0 327.6 L652.8 327.9 L653.6 328.3 L654.4 328.6 L655.2 328.9 L655.9 329.3 L656.7 329.6 L657.5 329.9 L658.3 330.2 L659.1 330.5 L659.9 330.8 L660.7 331.1 L661.5 331.4 L662.3 331.7 L663.1 332.0 L663.9 332.3 L664.7 332.6 L665.6 332.9 L666.4 333.1 L667.2 333.4 L668.0 333.6 L668.8 333.9 L669.6 334.1 L670.5 334.4 L671.3 334.6 L672.1 334.9 L672.9 335.1 L673.8 335.3 L674.6 335.6 L675.4 335.8 L676.3 336.0 L677.1 336.2 L677.9 336.4 L678.8 336.6 L679.6 336.8 L680.4 337.0 L681.3 337.2 L682.1 337.4 L682.9 337.6 L683.8 337.7 L684.6 337.9 L685.5 338.1 L686.3 338.2 L687.1 338.4 L688.0 338.6 L688.8 338.7 L689.7 338.9 L690.5 339.0 L691.3 339.2 L692.2 339.3 L693.0 339.4 L693.9 339.6 L694.7 339.7 L695.5 339.8 L696.4 339.9 L697.2 340.1 L698.1 340.2 L698.9 340.3 L699.8 340.4 L700.6 340.5 L701.4 340.6 L702.3 340.7 L703.1 340.8 L704.0 340.9 L704.8 341.0 L705.7 341.1 L706.5 341.2 L707.3 341.2 L708.2 341.3 L709.0 341.4 L709.9 341.5 L710.7 341.6 L711.6 341.6 L712.4 341.7 L713.3 341.8 L714.1 341.8 L714.9 341.9 L715.8 341.9 L716.6 342.0 L717.5 342.1 L718.3 342.1 L719.2 342.2 L720.0 342.2 L720.9 342.2 L721.7 342.3 L722.6 342.3 L723.4 342.4 L724.3 342.4 L725.1 342.5 L726.0 342.5 L726.8 342.5 L727.6 342.6 L728.5 342.6 L729.3 342.6 L730.2 342.6 L731.0 342.7 L731.9 342.7 L732.7 342.7 L733.6 342.7 L734.4 342.8 L735.3 342.8 L736.1 342.8 L737.0 342.8 L737.8 342.8 L738.7 342.9 L739.5 342.9 L740.4 342.9 L741.2 342.9 L742.1 342.9 L742.9 342.9 L743.8 343.0 L744.6 343.0 L745.5 343.0 L746.3 343.0 L747.2 343.0 L748.0 343.0 L748.9 343.0 L749.7 343.0 L750.6 343.0 L751.4 343.0 L752.3 343.1 L753.1 343.1 L754.0 343.1 L754.8 343.1 L755.7 343.1 L756.5 343.1 L757.4 343.1 L758.2 343.1 L759.1 343.1 L759.9 343.1 L760.8 343.2 L761.6 343.2 L762.5 343.2 L763.3 343.2 L764.2 343.2 L765.0 343.2 L765.9 343.2 L766.7 343.2 L767.6 343.3 L768.4 343.3 L769.3 343.3 L770.1 343.3 L771.0 343.3 L771.8 343.4 L772.7 343.4 L773.5 343.4 L774.4 343.4 L775.2 343.4 L776.1 343.5 L776.9 343.5 L777.8 343.5 L778.6 343.6 L779.5 343.6 L780.3 343.6 L781.2 343.7 L782.0 343.7 L782.9 343.7 L783.7 343.8 L784.5 343.8 L785.4 343.9 L786.2 343.9 L787.1 343.9 L787.9 344.0 L788.8 344.0 L789.6 344.1 L790.5 344.2 L791.3 344.2 L792.2 344.3 L793.0 344.3 L793.9 344.4 L794.7 344.5 L795.6 344.5 L796.4 344.6 L797.3 344.7 L798.1 344.8 L799.0 344.8 L799.8 344.9 L800.7 345.0 L801.5 345.1 L802.4 345.2 L803.2 345.3 L804.0 345.4 L804.9 345.5 L805.7 345.6 L806.6 345.7 L807.4 345.8 L808.3 345.9 L809.1 346.0 L810.0 346.1 L810.8 346.2 L811.7 346.4 L812.5 346.5 L813.3 346.6 L814.2 346.8 L815.0 346.9" stroke="#A2142F"/>
</g>
<path d="M400.0 164.05H738.5V436.05H400.0" fill="none" stroke="#1f1f1f" stroke-width="2"/>
<path d="M400.0 164.05H738.5V436.05H400.0" fill="none" stroke="#000" stroke-width="2.0" stroke-dasharray="3 9.1" stroke-dashoffset="-2.5"/>
<path d="M400.0 163.05V437.05" fill="none" stroke="#202020" stroke-width="2"/>
<g font-family="'Liberation Serif', 'Times New Roman', serif" font-size="28.2" fill="#000" stroke="#000" stroke-width="0.35">
<path d="M155.2 188.3H276.2" stroke="#0072BD" stroke-width="6" fill="none"/>
<text x="284.9" y="198.6">fresh</text>
<path d="M155.2 225.6H276.2" stroke="#D95319" stroke-width="6" fill="none"/>
<text x="284.9" y="235.9">100 FEC</text>
<path d="M155.2 262.9H276.2" stroke="#EDB120" stroke-width="6" fill="none"/>
<text x="284.9" y="273.2">200 FEC</text>
<path d="M155.2 300.2H276.2" stroke="#7E2F8E" stroke-width="6" fill="none"/>
<text x="284.9" y="310.5">300 FEC</text>
<path d="M155.2 337.5H276.2" stroke="#77AC30" stroke-width="6" fill="none"/>
<text x="284.9" y="347.8">400 FEC</text>
<path d="M155.2 374.8H276.2" stroke="#4DBEEE" stroke-width="6" fill="none"/>
<text x="284.9" y="385.1">500 FEC</text>
<path d="M155.2 412.1H276.2" stroke="#A2142F" stroke-width="6" fill="none"/>
<text x="284.9" y="422.4">600 FEC</text>
</g>
<g font-family="'Liberation Serif', 'Times New Roman', serif" font-size="32.6" fill="#262626" stroke="#262626" stroke-width="0.35">
<text x="108.5" y="497.0" text-anchor="middle">0</text>
<text x="256.1" y="497.0" text-anchor="middle">0.5</text>
<text x="403.7" y="497.0" text-anchor="middle">1</text>
<text x="551.3" y="497.0" text-anchor="middle">1.5</text>
<text x="698.9" y="497.0" text-anchor="middle">2</text>
<text x="846.5" y="497.0" text-anchor="middle">2.5</text>
<text x="994.1" y="497.0" text-anchor="middle">3</text>
<text x="86.6" y="471.4" text-anchor="end">2</text>
<text x="86.6" y="327.8" text-anchor="end">2.5</text>
<text x="86.6" y="184.2" text-anchor="end">3</text>
<text x="86.6" y="40.6" text-anchor="end">3.5</text>
</g>
<g font-family="'Liberation Serif', 'Times New Roman', serif" font-size="35.7" fill="#262626" stroke="#262626" stroke-width="0.35">
<text x="545.2" y="546.5" text-anchor="middle">Discharge capacity / Ah</text>
<text transform="translate(25.3 230.4) rotate(-90)" text-anchor="middle">Voltage / V</text>
</g>
</svg>
</body></html>
